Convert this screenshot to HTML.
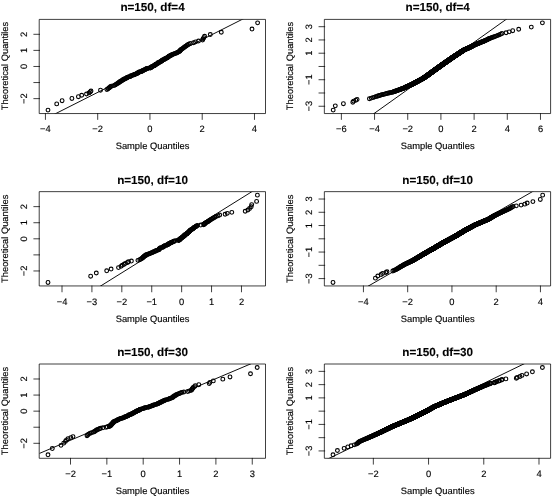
<!DOCTYPE html>
<html><head><meta charset="utf-8"><title>Normal Q-Q plots</title>
<style>
html,body{margin:0;padding:0;background:#fff;}
body{width:552px;height:497px;overflow:hidden;}
svg{display:block;}
text{text-rendering:geometricPrecision;font-family:"Liberation Sans",Arial,Helvetica,sans-serif;fill:#000;}
.t{font-size:11.7px;font-weight:bold;text-anchor:middle;stroke:#000;stroke-width:0.1px;}
.l{font-size:9.35px;text-anchor:middle;stroke:#000;stroke-width:0.14px;}
.L{font-size:93.5px;text-anchor:middle;stroke:#000;stroke-width:1.4px;}
.ax{stroke:#000;stroke-width:0.75;fill:none;stroke-linecap:round;stroke-linejoin:round;}
.p{stroke:#000;stroke-width:1.1;fill:none;}
</style></head><body>
<svg width="552" height="497" viewBox="0 0 552 497">
<rect width="552" height="497" fill="#fff"/>
<g>
<text class="t" x="152.55" y="10.9">n=150, df=4</text>
<clipPath id="c0"><rect x="39.6" y="19.4" width="225.9" height="94.15"/></clipPath>
<g class="p" clip-path="url(#c0)">
<path d="M44.62 119.2L253.28 13.75" style="stroke-width:0.95"/>
<circle cx="48" cy="110.1" r="1.9"/><circle cx="56.7" cy="103.88" r="1.9"/><circle cx="62.1" cy="100.69" r="1.9"/><circle cx="71.9" cy="98.46" r="1.9"/><circle cx="78.4" cy="96.72" r="1.9"/><circle cx="81.7" cy="95.27" r="1.9"/><circle cx="86.5" cy="94.02" r="1.9"/><circle cx="89" cy="92.92" r="1.9"/><circle cx="90.2" cy="91.94" r="1.9"/><circle cx="91" cy="91.04" r="1.9"/><circle cx="100.5" cy="90.21" r="1.9"/><circle cx="106.9" cy="89.43" r="1.9"/><circle cx="108.1" cy="88.71" r="1.9"/><circle cx="109" cy="88.03" r="1.9"/><circle cx="109.7" cy="87.39" r="1.9"/><circle cx="110.5" cy="86.78" r="1.9"/><circle cx="111.2" cy="86.2" r="1.9"/><circle cx="113.58" cy="85.64" r="1.9"/><circle cx="115.06" cy="85.1" r="1.9"/><circle cx="115.76" cy="84.59" r="1.9"/><circle cx="116.39" cy="84.09" r="1.9"/><circle cx="117.28" cy="83.61" r="1.9"/><circle cx="118.01" cy="83.14" r="1.9"/><circle cx="118.62" cy="82.69" r="1.9"/><circle cx="119.35" cy="82.25" r="1.9"/><circle cx="119.84" cy="81.82" r="1.9"/><circle cx="120.58" cy="81.4" r="1.9"/><circle cx="121.12" cy="80.99" r="1.9"/><circle cx="121.79" cy="80.59" r="1.9"/><circle cx="122.58" cy="80.2" r="1.9"/><circle cx="123.03" cy="79.82" r="1.9"/><circle cx="123.63" cy="79.44" r="1.9"/><circle cx="124.28" cy="79.07" r="1.9"/><circle cx="125.08" cy="78.71" r="1.9"/><circle cx="126.13" cy="78.36" r="1.9"/><circle cx="126.58" cy="78.01" r="1.9"/><circle cx="127.11" cy="77.66" r="1.9"/><circle cx="127.49" cy="77.32" r="1.9"/><circle cx="128.45" cy="76.99" r="1.9"/><circle cx="129.76" cy="76.66" r="1.9"/><circle cx="130.36" cy="76.33" r="1.9"/><circle cx="130.82" cy="76.01" r="1.9"/><circle cx="131.17" cy="75.69" r="1.9"/><circle cx="132.44" cy="75.37" r="1.9"/><circle cx="133.24" cy="75.06" r="1.9"/><circle cx="134.23" cy="74.75" r="1.9"/><circle cx="134.68" cy="74.45" r="1.9"/><circle cx="135.18" cy="74.15" r="1.9"/><circle cx="136.05" cy="73.85" r="1.9"/><circle cx="136.91" cy="73.55" r="1.9"/><circle cx="137.4" cy="73.25" r="1.9"/><circle cx="137.91" cy="72.96" r="1.9"/><circle cx="138.29" cy="72.67" r="1.9"/><circle cx="138.63" cy="72.38" r="1.9"/><circle cx="139.21" cy="72.1" r="1.9"/><circle cx="139.71" cy="71.81" r="1.9"/><circle cx="141.33" cy="71.53" r="1.9"/><circle cx="141.77" cy="71.25" r="1.9"/><circle cx="142.26" cy="70.97" r="1.9"/><circle cx="142.61" cy="70.69" r="1.9"/><circle cx="143.21" cy="70.41" r="1.9"/><circle cx="143.76" cy="70.13" r="1.9"/><circle cx="144.25" cy="69.86" r="1.9"/><circle cx="144.73" cy="69.58" r="1.9"/><circle cx="145.76" cy="69.31" r="1.9"/><circle cx="146.19" cy="69.04" r="1.9"/><circle cx="146.59" cy="68.77" r="1.9"/><circle cx="147.06" cy="68.5" r="1.9"/><circle cx="148.37" cy="68.23" r="1.9"/><circle cx="150.34" cy="67.95" r="1.9"/><circle cx="150.57" cy="67.69" r="1.9"/><circle cx="151.01" cy="67.42" r="1.9"/><circle cx="151.55" cy="67.15" r="1.9"/><circle cx="151.64" cy="66.88" r="1.9"/><circle cx="151.91" cy="66.61" r="1.9"/><circle cx="152.46" cy="66.34" r="1.9"/><circle cx="153.66" cy="66.07" r="1.9"/><circle cx="153.94" cy="65.8" r="1.9"/><circle cx="154.27" cy="65.53" r="1.9"/><circle cx="155.02" cy="65.26" r="1.9"/><circle cx="155.22" cy="65" r="1.9"/><circle cx="155.62" cy="64.72" r="1.9"/><circle cx="155.71" cy="64.45" r="1.9"/><circle cx="155.96" cy="64.18" r="1.9"/><circle cx="156.4" cy="63.91" r="1.9"/><circle cx="157.35" cy="63.64" r="1.9"/><circle cx="157.9" cy="63.37" r="1.9"/><circle cx="158" cy="63.09" r="1.9"/><circle cx="158.21" cy="62.82" r="1.9"/><circle cx="158.63" cy="62.54" r="1.9"/><circle cx="159.66" cy="62.26" r="1.9"/><circle cx="159.96" cy="61.98" r="1.9"/><circle cx="160.34" cy="61.7" r="1.9"/><circle cx="161.03" cy="61.42" r="1.9"/><circle cx="161.39" cy="61.14" r="1.9"/><circle cx="161.86" cy="60.85" r="1.9"/><circle cx="162.11" cy="60.57" r="1.9"/><circle cx="162.39" cy="60.28" r="1.9"/><circle cx="162.74" cy="59.99" r="1.9"/><circle cx="163.64" cy="59.7" r="1.9"/><circle cx="164.32" cy="59.4" r="1.9"/><circle cx="164.52" cy="59.1" r="1.9"/><circle cx="165.02" cy="58.8" r="1.9"/><circle cx="165.67" cy="58.5" r="1.9"/><circle cx="166.28" cy="58.2" r="1.9"/><circle cx="167.09" cy="57.89" r="1.9"/><circle cx="167.5" cy="57.58" r="1.9"/><circle cx="167.74" cy="57.26" r="1.9"/><circle cx="168.23" cy="56.94" r="1.9"/><circle cx="168.79" cy="56.62" r="1.9"/><circle cx="168.97" cy="56.29" r="1.9"/><circle cx="169.82" cy="55.96" r="1.9"/><circle cx="170.41" cy="55.63" r="1.9"/><circle cx="170.84" cy="55.29" r="1.9"/><circle cx="171.7" cy="54.94" r="1.9"/><circle cx="172.13" cy="54.59" r="1.9"/><circle cx="173.06" cy="54.24" r="1.9"/><circle cx="174.04" cy="53.88" r="1.9"/><circle cx="175.03" cy="53.51" r="1.9"/><circle cx="176.22" cy="53.13" r="1.9"/><circle cx="176.89" cy="52.75" r="1.9"/><circle cx="177.72" cy="52.36" r="1.9"/><circle cx="178.36" cy="51.96" r="1.9"/><circle cx="179.2" cy="51.55" r="1.9"/><circle cx="179.82" cy="51.13" r="1.9"/><circle cx="180.07" cy="50.7" r="1.9"/><circle cx="180.45" cy="50.26" r="1.9"/><circle cx="180.78" cy="49.81" r="1.9"/><circle cx="181.48" cy="49.34" r="1.9"/><circle cx="182.28" cy="48.86" r="1.9"/><circle cx="182.82" cy="48.36" r="1.9"/><circle cx="183.55" cy="47.85" r="1.9"/><circle cx="184.27" cy="47.31" r="1.9"/><circle cx="185.05" cy="46.75" r="1.9"/><circle cx="185.92" cy="46.17" r="1.9"/><circle cx="186.87" cy="45.56" r="1.9"/><circle cx="187.5" cy="44.92" r="1.9"/><circle cx="188.6" cy="44.24" r="1.9"/><circle cx="190.3" cy="43.52" r="1.9"/><circle cx="193.6" cy="42.74" r="1.9"/><circle cx="195.5" cy="41.91" r="1.9"/><circle cx="198.5" cy="41.01" r="1.9"/><circle cx="202.6" cy="40.03" r="1.9"/><circle cx="203" cy="38.93" r="1.9"/><circle cx="203.8" cy="37.68" r="1.9"/><circle cx="204.6" cy="36.23" r="1.9"/><circle cx="210.3" cy="34.49" r="1.9"/><circle cx="221.3" cy="32.26" r="1.9"/><circle cx="252" cy="29.07" r="1.9"/><circle cx="257.6" cy="22.85" r="1.9"/>
</g>
<rect class="ax" x="39.6" y="19.4" width="225.9" height="94.15"/>
<path class="ax" d="M45.43 113.55L45.43 119.45M97.69 113.55L97.69 119.45M149.95 113.55L149.95 119.45M202.21 113.55L202.21 119.45M254.47 113.55L254.47 119.45M39.6 98.63L33.8 98.63M39.6 82.55L33.8 82.55M39.6 66.47L33.8 66.47M39.6 50.39L33.8 50.39M39.6 34.31L33.8 34.31"/>
<text class="l" x="45.43" y="132.3">−4</text><text class="l" x="97.69" y="132.3">−2</text><text class="l" x="149.95" y="132.3">0</text><text class="l" x="202.21" y="132.3">2</text><text class="l" x="254.47" y="132.3">4</text>
<text class="L" transform="translate(27.3 98.63) rotate(-90) scale(0.1)">−2</text><text class="L" transform="translate(27.3 66.47) rotate(-90) scale(0.1)">0</text><text class="L" transform="translate(27.3 50.39) rotate(-90) scale(0.1)">1</text><text class="L" transform="translate(27.3 34.31) rotate(-90) scale(0.1)">2</text>
<text class="l" x="152.55" y="149.45">Sample Quantiles</text>
<text class="L" transform="translate(7.8 66) rotate(-90) scale(0.1)">Theoretical Quantiles</text>
</g>
<g>
<text class="t" x="437.68" y="10.9">n=150, df=4</text>
<clipPath id="c1"><rect x="324.75" y="19.4" width="225.85" height="94.15"/></clipPath>
<g class="p" clip-path="url(#c1)">
<path d="M366.07 119.2L514.03 13.75" style="stroke-width:0.95"/>
<circle cx="333.2" cy="110.11" r="1.9"/><circle cx="335.3" cy="105.83" r="1.9"/><circle cx="343.4" cy="103.7" r="1.9"/><circle cx="352.8" cy="102.24" r="1.9"/><circle cx="353.6" cy="101.11" r="1.9"/><circle cx="355.8" cy="100.19" r="1.9"/><circle cx="357.1" cy="99.41" r="1.9"/><circle cx="369.4" cy="98.73" r="1.9"/><circle cx="371.27" cy="98.12" r="1.9"/><circle cx="372.96" cy="97.58" r="1.9"/><circle cx="374.47" cy="97.08" r="1.9"/><circle cx="375.85" cy="96.62" r="1.9"/><circle cx="377.24" cy="96.2" r="1.9"/><circle cx="378.52" cy="95.8" r="1.9"/><circle cx="379.64" cy="95.43" r="1.9"/><circle cx="380.7" cy="95.08" r="1.9"/><circle cx="381.79" cy="94.75" r="1.9"/><circle cx="383.13" cy="94.43" r="1.9"/><circle cx="384.39" cy="94.13" r="1.9"/><circle cx="385.56" cy="93.85" r="1.9"/><circle cx="386.64" cy="93.57" r="1.9"/><circle cx="387.68" cy="93.31" r="1.9"/><circle cx="388.92" cy="93.06" r="1.9"/><circle cx="389.92" cy="92.81" r="1.9"/><circle cx="390.91" cy="92.58" r="1.9"/><circle cx="391.87" cy="92.35" r="1.9"/><circle cx="392.71" cy="92.13" r="1.9"/><circle cx="393.29" cy="91.92" r="1.9"/><circle cx="393.82" cy="91.71" r="1.9"/><circle cx="394.4" cy="91.51" r="1.9"/><circle cx="394.94" cy="91.32" r="1.9"/><circle cx="395.53" cy="91.13" r="1.9"/><circle cx="396.01" cy="90.94" r="1.9"/><circle cx="396.5" cy="90.76" r="1.9"/><circle cx="397" cy="90.59" r="1.9"/><circle cx="397.53" cy="90.42" r="1.9"/><circle cx="398" cy="90.25" r="1.9"/><circle cx="398.45" cy="90.08" r="1.9"/><circle cx="398.89" cy="89.92" r="1.9"/><circle cx="399.31" cy="89.77" r="1.9"/><circle cx="399.73" cy="89.61" r="1.9"/><circle cx="400.18" cy="89.46" r="1.9"/><circle cx="400.59" cy="89.31" r="1.9"/><circle cx="400.98" cy="89.17" r="1.9"/><circle cx="401.36" cy="89.03" r="1.9"/><circle cx="401.74" cy="88.89" r="1.9"/><circle cx="402.08" cy="88.75" r="1.9"/><circle cx="402.51" cy="88.61" r="1.9"/><circle cx="402.94" cy="88.48" r="1.9"/><circle cx="403.28" cy="88.35" r="1.9"/><circle cx="403.6" cy="88.22" r="1.9"/><circle cx="403.94" cy="88.1" r="1.9"/><circle cx="404.16" cy="87.97" r="1.9"/><circle cx="404.42" cy="87.85" r="1.9"/><circle cx="404.7" cy="87.73" r="1.9"/><circle cx="404.92" cy="87.61" r="1.9"/><circle cx="405.23" cy="87.49" r="1.9"/><circle cx="405.45" cy="87.37" r="1.9"/><circle cx="405.76" cy="87.26" r="1.9"/><circle cx="405.97" cy="87.15" r="1.9"/><circle cx="406.16" cy="87.04" r="1.9"/><circle cx="406.34" cy="86.93" r="1.9"/><circle cx="406.57" cy="86.82" r="1.9"/><circle cx="406.85" cy="86.71" r="1.9"/><circle cx="407.16" cy="86.6" r="1.9"/><circle cx="407.47" cy="86.5" r="1.9"/><circle cx="407.62" cy="86.4" r="1.9"/><circle cx="407.8" cy="86.29" r="1.9"/><circle cx="407.96" cy="86.19" r="1.9"/><circle cx="408.29" cy="86.09" r="1.9"/><circle cx="408.55" cy="85.99" r="1.9"/><circle cx="408.69" cy="85.9" r="1.9"/><circle cx="408.89" cy="85.8" r="1.9"/><circle cx="409.04" cy="85.7" r="1.9"/><circle cx="409.25" cy="85.61" r="1.9"/><circle cx="409.59" cy="85.52" r="1.9"/><circle cx="409.8" cy="85.42" r="1.9"/><circle cx="409.99" cy="85.33" r="1.9"/><circle cx="410.16" cy="85.24" r="1.9"/><circle cx="410.3" cy="85.15" r="1.9"/><circle cx="410.53" cy="85.06" r="1.9"/><circle cx="410.7" cy="84.97" r="1.9"/><circle cx="410.85" cy="84.89" r="1.9"/><circle cx="411.1" cy="84.8" r="1.9"/><circle cx="411.23" cy="84.71" r="1.9"/><circle cx="411.41" cy="84.63" r="1.9"/><circle cx="411.61" cy="84.54" r="1.9"/><circle cx="411.85" cy="84.46" r="1.9"/><circle cx="411.96" cy="84.38" r="1.9"/><circle cx="412.24" cy="84.29" r="1.9"/><circle cx="412.41" cy="84.21" r="1.9"/><circle cx="412.56" cy="84.13" r="1.9"/><circle cx="412.67" cy="84.05" r="1.9"/><circle cx="412.77" cy="83.97" r="1.9"/><circle cx="412.95" cy="83.89" r="1.9"/><circle cx="413.12" cy="83.81" r="1.9"/><circle cx="413.27" cy="83.74" r="1.9"/><circle cx="413.4" cy="83.66" r="1.9"/><circle cx="413.52" cy="83.58" r="1.9"/><circle cx="413.67" cy="83.51" r="1.9"/><circle cx="413.83" cy="83.43" r="1.9"/><circle cx="413.94" cy="83.36" r="1.9"/><circle cx="414.06" cy="83.28" r="1.9"/><circle cx="414.17" cy="83.21" r="1.9"/><circle cx="414.39" cy="83.13" r="1.9"/><circle cx="414.5" cy="83.06" r="1.9"/><circle cx="414.65" cy="82.99" r="1.9"/><circle cx="414.77" cy="82.92" r="1.9"/><circle cx="414.93" cy="82.85" r="1.9"/><circle cx="415.03" cy="82.77" r="1.9"/><circle cx="415.08" cy="82.7" r="1.9"/><circle cx="415.32" cy="82.63" r="1.9"/><circle cx="415.38" cy="82.56" r="1.9"/><circle cx="415.44" cy="82.49" r="1.9"/><circle cx="415.82" cy="82.43" r="1.9"/><circle cx="415.92" cy="82.36" r="1.9"/><circle cx="416.02" cy="82.29" r="1.9"/><circle cx="416.11" cy="82.22" r="1.9"/><circle cx="416.21" cy="82.16" r="1.9"/><circle cx="416.31" cy="82.09" r="1.9"/><circle cx="416.46" cy="82.02" r="1.9"/><circle cx="416.56" cy="81.96" r="1.9"/><circle cx="416.65" cy="81.89" r="1.9"/><circle cx="416.83" cy="81.83" r="1.9"/><circle cx="416.92" cy="81.76" r="1.9"/><circle cx="416.98" cy="81.7" r="1.9"/><circle cx="417.17" cy="81.63" r="1.9"/><circle cx="417.32" cy="81.57" r="1.9"/><circle cx="417.49" cy="81.51" r="1.9"/><circle cx="417.58" cy="81.44" r="1.9"/><circle cx="417.67" cy="81.38" r="1.9"/><circle cx="417.78" cy="81.32" r="1.9"/><circle cx="417.89" cy="81.26" r="1.9"/><circle cx="418.01" cy="81.19" r="1.9"/><circle cx="418.11" cy="81.13" r="1.9"/><circle cx="418.23" cy="81.07" r="1.9"/><circle cx="418.36" cy="81.01" r="1.9"/><circle cx="418.46" cy="80.95" r="1.9"/><circle cx="418.57" cy="80.89" r="1.9"/><circle cx="418.65" cy="80.83" r="1.9"/><circle cx="418.81" cy="80.77" r="1.9"/><circle cx="418.92" cy="80.71" r="1.9"/><circle cx="419.07" cy="80.65" r="1.9"/><circle cx="419.14" cy="80.59" r="1.9"/><circle cx="419.23" cy="80.53" r="1.9"/><circle cx="419.35" cy="80.48" r="1.9"/><circle cx="419.47" cy="80.42" r="1.9"/><circle cx="419.57" cy="80.36" r="1.9"/><circle cx="419.64" cy="80.3" r="1.9"/><circle cx="419.73" cy="80.25" r="1.9"/><circle cx="419.92" cy="80.19" r="1.9"/><circle cx="420.05" cy="80.13" r="1.9"/><circle cx="420.12" cy="80.08" r="1.9"/><circle cx="420.17" cy="80.02" r="1.9"/><circle cx="420.28" cy="79.96" r="1.9"/><circle cx="420.4" cy="79.91" r="1.9"/><circle cx="420.53" cy="79.85" r="1.9"/><circle cx="420.67" cy="79.8" r="1.9"/><circle cx="420.74" cy="79.74" r="1.9"/><circle cx="420.81" cy="79.69" r="1.9"/><circle cx="420.86" cy="79.63" r="1.9"/><circle cx="421.04" cy="79.58" r="1.9"/><circle cx="421.12" cy="79.53" r="1.9"/><circle cx="421.32" cy="79.47" r="1.9"/><circle cx="421.38" cy="79.42" r="1.9"/><circle cx="421.42" cy="79.37" r="1.9"/><circle cx="421.47" cy="79.31" r="1.9"/><circle cx="421.56" cy="79.26" r="1.9"/><circle cx="421.79" cy="79.21" r="1.9"/><circle cx="421.86" cy="79.15" r="1.9"/><circle cx="421.98" cy="79.1" r="1.9"/><circle cx="422.03" cy="79.05" r="1.9"/><circle cx="422.12" cy="79" r="1.9"/><circle cx="422.29" cy="78.95" r="1.9"/><circle cx="422.36" cy="78.89" r="1.9"/><circle cx="422.43" cy="78.84" r="1.9"/><circle cx="422.5" cy="78.79" r="1.9"/><circle cx="422.57" cy="78.74" r="1.9"/><circle cx="422.68" cy="78.69" r="1.9"/><circle cx="422.81" cy="78.64" r="1.9"/><circle cx="422.91" cy="78.59" r="1.9"/><circle cx="422.98" cy="78.54" r="1.9"/><circle cx="423.07" cy="78.49" r="1.9"/><circle cx="423.11" cy="78.44" r="1.9"/><circle cx="423.21" cy="78.39" r="1.9"/><circle cx="423.33" cy="78.34" r="1.9"/><circle cx="423.39" cy="78.29" r="1.9"/><circle cx="423.46" cy="78.24" r="1.9"/><circle cx="423.51" cy="78.19" r="1.9"/><circle cx="423.55" cy="78.14" r="1.9"/><circle cx="423.62" cy="78.09" r="1.9"/><circle cx="423.73" cy="78.04" r="1.9"/><circle cx="423.81" cy="77.99" r="1.9"/><circle cx="423.89" cy="77.95" r="1.9"/><circle cx="423.93" cy="77.9" r="1.9"/><circle cx="423.97" cy="77.85" r="1.9"/><circle cx="424.07" cy="77.8" r="1.9"/><circle cx="424.13" cy="77.75" r="1.9"/><circle cx="424.21" cy="77.71" r="1.9"/><circle cx="424.3" cy="77.66" r="1.9"/><circle cx="424.36" cy="77.61" r="1.9"/><circle cx="424.4" cy="77.56" r="1.9"/><circle cx="424.45" cy="77.52" r="1.9"/><circle cx="424.57" cy="77.47" r="1.9"/><circle cx="424.64" cy="77.42" r="1.9"/><circle cx="424.68" cy="77.38" r="1.9"/><circle cx="424.72" cy="77.33" r="1.9"/><circle cx="424.8" cy="77.28" r="1.9"/><circle cx="424.84" cy="77.24" r="1.9"/><circle cx="425" cy="77.19" r="1.9"/><circle cx="425.06" cy="77.15" r="1.9"/><circle cx="425.1" cy="77.1" r="1.9"/><circle cx="425.18" cy="77.05" r="1.9"/><circle cx="425.23" cy="77.01" r="1.9"/><circle cx="425.29" cy="76.96" r="1.9"/><circle cx="425.35" cy="76.92" r="1.9"/><circle cx="425.4" cy="76.87" r="1.9"/><circle cx="425.46" cy="76.83" r="1.9"/><circle cx="425.56" cy="76.78" r="1.9"/><circle cx="425.64" cy="76.74" r="1.9"/><circle cx="425.69" cy="76.69" r="1.9"/><circle cx="425.75" cy="76.65" r="1.9"/><circle cx="425.8" cy="76.6" r="1.9"/><circle cx="425.85" cy="76.56" r="1.9"/><circle cx="425.94" cy="76.51" r="1.9"/><circle cx="425.99" cy="76.47" r="1.9"/><circle cx="426.03" cy="76.43" r="1.9"/><circle cx="426.07" cy="76.38" r="1.9"/><circle cx="426.12" cy="76.34" r="1.9"/><circle cx="426.16" cy="76.29" r="1.9"/><circle cx="426.42" cy="76.25" r="1.9"/><circle cx="426.45" cy="76.21" r="1.9"/><circle cx="426.5" cy="76.16" r="1.9"/><circle cx="426.53" cy="76.12" r="1.9"/><circle cx="426.57" cy="76.08" r="1.9"/><circle cx="426.64" cy="76.03" r="1.9"/><circle cx="426.7" cy="75.99" r="1.9"/><circle cx="426.76" cy="75.95" r="1.9"/><circle cx="426.81" cy="75.9" r="1.9"/><circle cx="426.86" cy="75.86" r="1.9"/><circle cx="426.91" cy="75.82" r="1.9"/><circle cx="426.97" cy="75.78" r="1.9"/><circle cx="427.02" cy="75.73" r="1.9"/><circle cx="427.08" cy="75.69" r="1.9"/><circle cx="427.26" cy="75.65" r="1.9"/><circle cx="427.3" cy="75.61" r="1.9"/><circle cx="427.33" cy="75.57" r="1.9"/><circle cx="427.36" cy="75.52" r="1.9"/><circle cx="427.39" cy="75.48" r="1.9"/><circle cx="427.43" cy="75.44" r="1.9"/><circle cx="427.57" cy="75.4" r="1.9"/><circle cx="427.63" cy="75.36" r="1.9"/><circle cx="427.69" cy="75.31" r="1.9"/><circle cx="427.75" cy="75.27" r="1.9"/><circle cx="427.79" cy="75.23" r="1.9"/><circle cx="427.84" cy="75.19" r="1.9"/><circle cx="427.87" cy="75.15" r="1.9"/><circle cx="427.91" cy="75.11" r="1.9"/><circle cx="427.94" cy="75.07" r="1.9"/><circle cx="428.05" cy="75.03" r="1.9"/><circle cx="428.12" cy="74.99" r="1.9"/><circle cx="428.17" cy="74.94" r="1.9"/><circle cx="428.21" cy="74.9" r="1.9"/><circle cx="428.28" cy="74.86" r="1.9"/><circle cx="428.33" cy="74.82" r="1.9"/><circle cx="428.44" cy="74.78" r="1.9"/><circle cx="428.48" cy="74.74" r="1.9"/><circle cx="428.51" cy="74.7" r="1.9"/><circle cx="428.56" cy="74.66" r="1.9"/><circle cx="428.61" cy="74.62" r="1.9"/><circle cx="428.65" cy="74.58" r="1.9"/><circle cx="428.73" cy="74.54" r="1.9"/><circle cx="428.77" cy="74.5" r="1.9"/><circle cx="428.83" cy="74.46" r="1.9"/><circle cx="428.88" cy="74.42" r="1.9"/><circle cx="428.9" cy="74.38" r="1.9"/><circle cx="428.94" cy="74.34" r="1.9"/><circle cx="429.01" cy="74.3" r="1.9"/><circle cx="429.16" cy="74.26" r="1.9"/><circle cx="429.2" cy="74.22" r="1.9"/><circle cx="429.24" cy="74.18" r="1.9"/><circle cx="429.28" cy="74.14" r="1.9"/><circle cx="429.3" cy="74.11" r="1.9"/><circle cx="429.37" cy="74.07" r="1.9"/><circle cx="429.42" cy="74.03" r="1.9"/><circle cx="429.46" cy="73.99" r="1.9"/><circle cx="429.54" cy="73.95" r="1.9"/><circle cx="429.59" cy="73.91" r="1.9"/><circle cx="429.63" cy="73.87" r="1.9"/><circle cx="429.67" cy="73.83" r="1.9"/><circle cx="429.71" cy="73.79" r="1.9"/><circle cx="429.79" cy="73.75" r="1.9"/><circle cx="429.87" cy="73.72" r="1.9"/><circle cx="429.9" cy="73.68" r="1.9"/><circle cx="429.93" cy="73.64" r="1.9"/><circle cx="430.02" cy="73.6" r="1.9"/><circle cx="430.1" cy="73.56" r="1.9"/><circle cx="430.14" cy="73.52" r="1.9"/><circle cx="430.18" cy="73.49" r="1.9"/><circle cx="430.21" cy="73.45" r="1.9"/><circle cx="430.26" cy="73.41" r="1.9"/><circle cx="430.3" cy="73.37" r="1.9"/><circle cx="430.35" cy="73.33" r="1.9"/><circle cx="430.42" cy="73.3" r="1.9"/><circle cx="430.49" cy="73.26" r="1.9"/><circle cx="430.52" cy="73.22" r="1.9"/><circle cx="430.58" cy="73.18" r="1.9"/><circle cx="430.63" cy="73.14" r="1.9"/><circle cx="430.67" cy="73.11" r="1.9"/><circle cx="430.73" cy="73.07" r="1.9"/><circle cx="430.75" cy="73.03" r="1.9"/><circle cx="430.86" cy="72.99" r="1.9"/><circle cx="430.89" cy="72.96" r="1.9"/><circle cx="430.97" cy="72.92" r="1.9"/><circle cx="431" cy="72.88" r="1.9"/><circle cx="431.06" cy="72.84" r="1.9"/><circle cx="431.09" cy="72.81" r="1.9"/><circle cx="431.15" cy="72.77" r="1.9"/><circle cx="431.18" cy="72.73" r="1.9"/><circle cx="431.22" cy="72.7" r="1.9"/><circle cx="431.26" cy="72.66" r="1.9"/><circle cx="431.36" cy="72.62" r="1.9"/><circle cx="431.4" cy="72.58" r="1.9"/><circle cx="431.47" cy="72.55" r="1.9"/><circle cx="431.52" cy="72.51" r="1.9"/><circle cx="431.55" cy="72.47" r="1.9"/><circle cx="431.59" cy="72.44" r="1.9"/><circle cx="431.65" cy="72.4" r="1.9"/><circle cx="431.69" cy="72.36" r="1.9"/><circle cx="431.77" cy="72.33" r="1.9"/><circle cx="431.8" cy="72.29" r="1.9"/><circle cx="431.85" cy="72.25" r="1.9"/><circle cx="431.91" cy="72.22" r="1.9"/><circle cx="431.95" cy="72.18" r="1.9"/><circle cx="431.99" cy="72.14" r="1.9"/><circle cx="432.05" cy="72.11" r="1.9"/><circle cx="432.09" cy="72.07" r="1.9"/><circle cx="432.17" cy="72.03" r="1.9"/><circle cx="432.21" cy="72" r="1.9"/><circle cx="432.25" cy="71.96" r="1.9"/><circle cx="432.29" cy="71.93" r="1.9"/><circle cx="432.35" cy="71.89" r="1.9"/><circle cx="432.39" cy="71.85" r="1.9"/><circle cx="432.44" cy="71.82" r="1.9"/><circle cx="432.49" cy="71.78" r="1.9"/><circle cx="432.54" cy="71.75" r="1.9"/><circle cx="432.58" cy="71.71" r="1.9"/><circle cx="432.61" cy="71.67" r="1.9"/><circle cx="432.68" cy="71.64" r="1.9"/><circle cx="432.75" cy="71.6" r="1.9"/><circle cx="432.82" cy="71.57" r="1.9"/><circle cx="432.85" cy="71.53" r="1.9"/><circle cx="432.89" cy="71.49" r="1.9"/><circle cx="432.93" cy="71.46" r="1.9"/><circle cx="433" cy="71.42" r="1.9"/><circle cx="433.04" cy="71.39" r="1.9"/><circle cx="433.08" cy="71.35" r="1.9"/><circle cx="433.1" cy="71.32" r="1.9"/><circle cx="433.13" cy="71.28" r="1.9"/><circle cx="433.23" cy="71.25" r="1.9"/><circle cx="433.3" cy="71.21" r="1.9"/><circle cx="433.35" cy="71.18" r="1.9"/><circle cx="433.39" cy="71.14" r="1.9"/><circle cx="433.43" cy="71.1" r="1.9"/><circle cx="433.47" cy="71.07" r="1.9"/><circle cx="433.53" cy="71.03" r="1.9"/><circle cx="433.57" cy="71" r="1.9"/><circle cx="433.61" cy="70.96" r="1.9"/><circle cx="433.66" cy="70.93" r="1.9"/><circle cx="433.71" cy="70.89" r="1.9"/><circle cx="433.75" cy="70.86" r="1.9"/><circle cx="433.8" cy="70.82" r="1.9"/><circle cx="433.84" cy="70.79" r="1.9"/><circle cx="433.9" cy="70.75" r="1.9"/><circle cx="433.96" cy="70.72" r="1.9"/><circle cx="433.99" cy="70.68" r="1.9"/><circle cx="434.04" cy="70.65" r="1.9"/><circle cx="434.13" cy="70.61" r="1.9"/><circle cx="434.16" cy="70.58" r="1.9"/><circle cx="434.19" cy="70.54" r="1.9"/><circle cx="434.27" cy="70.51" r="1.9"/><circle cx="434.3" cy="70.47" r="1.9"/><circle cx="434.33" cy="70.44" r="1.9"/><circle cx="434.36" cy="70.4" r="1.9"/><circle cx="434.39" cy="70.37" r="1.9"/><circle cx="434.5" cy="70.33" r="1.9"/><circle cx="434.58" cy="70.3" r="1.9"/><circle cx="434.61" cy="70.27" r="1.9"/><circle cx="434.64" cy="70.23" r="1.9"/><circle cx="434.67" cy="70.2" r="1.9"/><circle cx="434.73" cy="70.16" r="1.9"/><circle cx="434.79" cy="70.13" r="1.9"/><circle cx="434.84" cy="70.09" r="1.9"/><circle cx="434.89" cy="70.06" r="1.9"/><circle cx="434.92" cy="70.02" r="1.9"/><circle cx="434.95" cy="69.99" r="1.9"/><circle cx="435.01" cy="69.95" r="1.9"/><circle cx="435.04" cy="69.92" r="1.9"/><circle cx="435.08" cy="69.89" r="1.9"/><circle cx="435.17" cy="69.85" r="1.9"/><circle cx="435.2" cy="69.82" r="1.9"/><circle cx="435.29" cy="69.78" r="1.9"/><circle cx="435.31" cy="69.75" r="1.9"/><circle cx="435.35" cy="69.71" r="1.9"/><circle cx="435.4" cy="69.68" r="1.9"/><circle cx="435.44" cy="69.65" r="1.9"/><circle cx="435.51" cy="69.61" r="1.9"/><circle cx="435.55" cy="69.58" r="1.9"/><circle cx="435.6" cy="69.54" r="1.9"/><circle cx="435.64" cy="69.51" r="1.9"/><circle cx="435.68" cy="69.48" r="1.9"/><circle cx="435.75" cy="69.44" r="1.9"/><circle cx="435.78" cy="69.41" r="1.9"/><circle cx="435.84" cy="69.37" r="1.9"/><circle cx="435.88" cy="69.34" r="1.9"/><circle cx="435.91" cy="69.3" r="1.9"/><circle cx="435.96" cy="69.27" r="1.9"/><circle cx="436" cy="69.24" r="1.9"/><circle cx="436.08" cy="69.2" r="1.9"/><circle cx="436.12" cy="69.17" r="1.9"/><circle cx="436.16" cy="69.14" r="1.9"/><circle cx="436.19" cy="69.1" r="1.9"/><circle cx="436.23" cy="69.07" r="1.9"/><circle cx="436.28" cy="69.03" r="1.9"/><circle cx="436.32" cy="69" r="1.9"/><circle cx="436.38" cy="68.97" r="1.9"/><circle cx="436.44" cy="68.93" r="1.9"/><circle cx="436.47" cy="68.9" r="1.9"/><circle cx="436.59" cy="68.86" r="1.9"/><circle cx="436.62" cy="68.83" r="1.9"/><circle cx="436.63" cy="68.8" r="1.9"/><circle cx="436.69" cy="68.76" r="1.9"/><circle cx="436.7" cy="68.73" r="1.9"/><circle cx="436.75" cy="68.7" r="1.9"/><circle cx="436.78" cy="68.66" r="1.9"/><circle cx="436.88" cy="68.63" r="1.9"/><circle cx="436.94" cy="68.59" r="1.9"/><circle cx="436.99" cy="68.56" r="1.9"/><circle cx="437.04" cy="68.53" r="1.9"/><circle cx="437.07" cy="68.49" r="1.9"/><circle cx="437.11" cy="68.46" r="1.9"/><circle cx="437.13" cy="68.43" r="1.9"/><circle cx="437.19" cy="68.39" r="1.9"/><circle cx="437.23" cy="68.36" r="1.9"/><circle cx="437.28" cy="68.33" r="1.9"/><circle cx="437.34" cy="68.29" r="1.9"/><circle cx="437.38" cy="68.26" r="1.9"/><circle cx="437.4" cy="68.23" r="1.9"/><circle cx="437.41" cy="68.19" r="1.9"/><circle cx="437.55" cy="68.16" r="1.9"/><circle cx="437.59" cy="68.12" r="1.9"/><circle cx="437.64" cy="68.09" r="1.9"/><circle cx="437.69" cy="68.06" r="1.9"/><circle cx="437.71" cy="68.02" r="1.9"/><circle cx="437.76" cy="67.99" r="1.9"/><circle cx="437.8" cy="67.96" r="1.9"/><circle cx="437.87" cy="67.92" r="1.9"/><circle cx="437.89" cy="67.89" r="1.9"/><circle cx="437.91" cy="67.86" r="1.9"/><circle cx="437.94" cy="67.82" r="1.9"/><circle cx="437.97" cy="67.79" r="1.9"/><circle cx="438.15" cy="67.76" r="1.9"/><circle cx="438.18" cy="67.72" r="1.9"/><circle cx="438.2" cy="67.69" r="1.9"/><circle cx="438.23" cy="67.66" r="1.9"/><circle cx="438.26" cy="67.62" r="1.9"/><circle cx="438.29" cy="67.59" r="1.9"/><circle cx="438.34" cy="67.56" r="1.9"/><circle cx="438.4" cy="67.52" r="1.9"/><circle cx="438.44" cy="67.49" r="1.9"/><circle cx="438.49" cy="67.46" r="1.9"/><circle cx="438.54" cy="67.42" r="1.9"/><circle cx="438.62" cy="67.39" r="1.9"/><circle cx="438.64" cy="67.36" r="1.9"/><circle cx="438.68" cy="67.32" r="1.9"/><circle cx="438.73" cy="67.29" r="1.9"/><circle cx="438.8" cy="67.26" r="1.9"/><circle cx="438.84" cy="67.22" r="1.9"/><circle cx="438.89" cy="67.19" r="1.9"/><circle cx="438.92" cy="67.16" r="1.9"/><circle cx="438.95" cy="67.12" r="1.9"/><circle cx="438.98" cy="67.09" r="1.9"/><circle cx="439.05" cy="67.06" r="1.9"/><circle cx="439.1" cy="67.02" r="1.9"/><circle cx="439.17" cy="66.99" r="1.9"/><circle cx="439.22" cy="66.96" r="1.9"/><circle cx="439.25" cy="66.92" r="1.9"/><circle cx="439.29" cy="66.89" r="1.9"/><circle cx="439.32" cy="66.86" r="1.9"/><circle cx="439.38" cy="66.82" r="1.9"/><circle cx="439.43" cy="66.79" r="1.9"/><circle cx="439.47" cy="66.76" r="1.9"/><circle cx="439.51" cy="66.72" r="1.9"/><circle cx="439.56" cy="66.69" r="1.9"/><circle cx="439.61" cy="66.66" r="1.9"/><circle cx="439.67" cy="66.62" r="1.9"/><circle cx="439.7" cy="66.59" r="1.9"/><circle cx="439.74" cy="66.56" r="1.9"/><circle cx="439.77" cy="66.52" r="1.9"/><circle cx="439.82" cy="66.49" r="1.9"/><circle cx="439.89" cy="66.46" r="1.9"/><circle cx="439.93" cy="66.43" r="1.9"/><circle cx="440.01" cy="66.39" r="1.9"/><circle cx="440.04" cy="66.36" r="1.9"/><circle cx="440.07" cy="66.33" r="1.9"/><circle cx="440.1" cy="66.29" r="1.9"/><circle cx="440.17" cy="66.26" r="1.9"/><circle cx="440.23" cy="66.23" r="1.9"/><circle cx="440.26" cy="66.19" r="1.9"/><circle cx="440.3" cy="66.16" r="1.9"/><circle cx="440.34" cy="66.13" r="1.9"/><circle cx="440.38" cy="66.09" r="1.9"/><circle cx="440.46" cy="66.06" r="1.9"/><circle cx="440.51" cy="66.03" r="1.9"/><circle cx="440.54" cy="65.99" r="1.9"/><circle cx="440.57" cy="65.96" r="1.9"/><circle cx="440.61" cy="65.93" r="1.9"/><circle cx="440.7" cy="65.89" r="1.9"/><circle cx="440.73" cy="65.86" r="1.9"/><circle cx="440.76" cy="65.83" r="1.9"/><circle cx="440.81" cy="65.79" r="1.9"/><circle cx="440.87" cy="65.76" r="1.9"/><circle cx="440.91" cy="65.73" r="1.9"/><circle cx="440.94" cy="65.69" r="1.9"/><circle cx="440.98" cy="65.66" r="1.9"/><circle cx="441.07" cy="65.63" r="1.9"/><circle cx="441.1" cy="65.59" r="1.9"/><circle cx="441.14" cy="65.56" r="1.9"/><circle cx="441.21" cy="65.53" r="1.9"/><circle cx="441.24" cy="65.49" r="1.9"/><circle cx="441.28" cy="65.46" r="1.9"/><circle cx="441.32" cy="65.43" r="1.9"/><circle cx="441.36" cy="65.39" r="1.9"/><circle cx="441.42" cy="65.36" r="1.9"/><circle cx="441.46" cy="65.33" r="1.9"/><circle cx="441.53" cy="65.29" r="1.9"/><circle cx="441.57" cy="65.26" r="1.9"/><circle cx="441.6" cy="65.23" r="1.9"/><circle cx="441.65" cy="65.19" r="1.9"/><circle cx="441.68" cy="65.16" r="1.9"/><circle cx="441.73" cy="65.13" r="1.9"/><circle cx="441.8" cy="65.09" r="1.9"/><circle cx="441.84" cy="65.06" r="1.9"/><circle cx="441.89" cy="65.03" r="1.9"/><circle cx="441.91" cy="64.99" r="1.9"/><circle cx="441.96" cy="64.96" r="1.9"/><circle cx="442.03" cy="64.93" r="1.9"/><circle cx="442.06" cy="64.89" r="1.9"/><circle cx="442.13" cy="64.86" r="1.9"/><circle cx="442.15" cy="64.83" r="1.9"/><circle cx="442.2" cy="64.79" r="1.9"/><circle cx="442.26" cy="64.76" r="1.9"/><circle cx="442.31" cy="64.72" r="1.9"/><circle cx="442.37" cy="64.69" r="1.9"/><circle cx="442.4" cy="64.66" r="1.9"/><circle cx="442.46" cy="64.62" r="1.9"/><circle cx="442.48" cy="64.59" r="1.9"/><circle cx="442.57" cy="64.56" r="1.9"/><circle cx="442.61" cy="64.52" r="1.9"/><circle cx="442.64" cy="64.49" r="1.9"/><circle cx="442.67" cy="64.46" r="1.9"/><circle cx="442.74" cy="64.42" r="1.9"/><circle cx="442.79" cy="64.39" r="1.9"/><circle cx="442.84" cy="64.36" r="1.9"/><circle cx="442.88" cy="64.32" r="1.9"/><circle cx="442.94" cy="64.29" r="1.9"/><circle cx="442.98" cy="64.25" r="1.9"/><circle cx="443.03" cy="64.22" r="1.9"/><circle cx="443.05" cy="64.19" r="1.9"/><circle cx="443.06" cy="64.15" r="1.9"/><circle cx="443.15" cy="64.12" r="1.9"/><circle cx="443.19" cy="64.09" r="1.9"/><circle cx="443.33" cy="64.05" r="1.9"/><circle cx="443.36" cy="64.02" r="1.9"/><circle cx="443.42" cy="63.98" r="1.9"/><circle cx="443.44" cy="63.95" r="1.9"/><circle cx="443.48" cy="63.92" r="1.9"/><circle cx="443.51" cy="63.88" r="1.9"/><circle cx="443.54" cy="63.85" r="1.9"/><circle cx="443.57" cy="63.81" r="1.9"/><circle cx="443.64" cy="63.78" r="1.9"/><circle cx="443.7" cy="63.75" r="1.9"/><circle cx="443.81" cy="63.71" r="1.9"/><circle cx="443.84" cy="63.68" r="1.9"/><circle cx="443.86" cy="63.65" r="1.9"/><circle cx="443.89" cy="63.61" r="1.9"/><circle cx="443.93" cy="63.58" r="1.9"/><circle cx="443.98" cy="63.54" r="1.9"/><circle cx="444.08" cy="63.51" r="1.9"/><circle cx="444.11" cy="63.47" r="1.9"/><circle cx="444.14" cy="63.44" r="1.9"/><circle cx="444.17" cy="63.41" r="1.9"/><circle cx="444.23" cy="63.37" r="1.9"/><circle cx="444.32" cy="63.34" r="1.9"/><circle cx="444.34" cy="63.3" r="1.9"/><circle cx="444.38" cy="63.27" r="1.9"/><circle cx="444.43" cy="63.24" r="1.9"/><circle cx="444.51" cy="63.2" r="1.9"/><circle cx="444.53" cy="63.17" r="1.9"/><circle cx="444.59" cy="63.13" r="1.9"/><circle cx="444.65" cy="63.1" r="1.9"/><circle cx="444.7" cy="63.06" r="1.9"/><circle cx="444.75" cy="63.03" r="1.9"/><circle cx="444.8" cy="63" r="1.9"/><circle cx="444.84" cy="62.96" r="1.9"/><circle cx="444.89" cy="62.93" r="1.9"/><circle cx="444.93" cy="62.89" r="1.9"/><circle cx="444.97" cy="62.86" r="1.9"/><circle cx="445.05" cy="62.82" r="1.9"/><circle cx="445.09" cy="62.79" r="1.9"/><circle cx="445.12" cy="62.75" r="1.9"/><circle cx="445.16" cy="62.72" r="1.9"/><circle cx="445.23" cy="62.68" r="1.9"/><circle cx="445.27" cy="62.65" r="1.9"/><circle cx="445.33" cy="62.62" r="1.9"/><circle cx="445.38" cy="62.58" r="1.9"/><circle cx="445.46" cy="62.55" r="1.9"/><circle cx="445.5" cy="62.51" r="1.9"/><circle cx="445.54" cy="62.48" r="1.9"/><circle cx="445.59" cy="62.44" r="1.9"/><circle cx="445.63" cy="62.41" r="1.9"/><circle cx="445.67" cy="62.37" r="1.9"/><circle cx="445.74" cy="62.34" r="1.9"/><circle cx="445.77" cy="62.3" r="1.9"/><circle cx="445.81" cy="62.27" r="1.9"/><circle cx="445.88" cy="62.23" r="1.9"/><circle cx="445.93" cy="62.2" r="1.9"/><circle cx="445.97" cy="62.16" r="1.9"/><circle cx="446.04" cy="62.13" r="1.9"/><circle cx="446.1" cy="62.09" r="1.9"/><circle cx="446.14" cy="62.06" r="1.9"/><circle cx="446.17" cy="62.02" r="1.9"/><circle cx="446.22" cy="61.99" r="1.9"/><circle cx="446.29" cy="61.95" r="1.9"/><circle cx="446.34" cy="61.92" r="1.9"/><circle cx="446.39" cy="61.88" r="1.9"/><circle cx="446.43" cy="61.85" r="1.9"/><circle cx="446.45" cy="61.81" r="1.9"/><circle cx="446.52" cy="61.77" r="1.9"/><circle cx="446.55" cy="61.74" r="1.9"/><circle cx="446.62" cy="61.7" r="1.9"/><circle cx="446.73" cy="61.67" r="1.9"/><circle cx="446.75" cy="61.63" r="1.9"/><circle cx="446.83" cy="61.6" r="1.9"/><circle cx="446.88" cy="61.56" r="1.9"/><circle cx="446.89" cy="61.53" r="1.9"/><circle cx="446.92" cy="61.49" r="1.9"/><circle cx="446.95" cy="61.46" r="1.9"/><circle cx="447.02" cy="61.42" r="1.9"/><circle cx="447.08" cy="61.38" r="1.9"/><circle cx="447.18" cy="61.35" r="1.9"/><circle cx="447.25" cy="61.31" r="1.9"/><circle cx="447.28" cy="61.28" r="1.9"/><circle cx="447.3" cy="61.24" r="1.9"/><circle cx="447.33" cy="61.2" r="1.9"/><circle cx="447.39" cy="61.17" r="1.9"/><circle cx="447.47" cy="61.13" r="1.9"/><circle cx="447.54" cy="61.1" r="1.9"/><circle cx="447.58" cy="61.06" r="1.9"/><circle cx="447.61" cy="61.02" r="1.9"/><circle cx="447.67" cy="60.99" r="1.9"/><circle cx="447.71" cy="60.95" r="1.9"/><circle cx="447.75" cy="60.92" r="1.9"/><circle cx="447.81" cy="60.88" r="1.9"/><circle cx="447.85" cy="60.84" r="1.9"/><circle cx="447.96" cy="60.81" r="1.9"/><circle cx="448" cy="60.77" r="1.9"/><circle cx="448.04" cy="60.73" r="1.9"/><circle cx="448.08" cy="60.7" r="1.9"/><circle cx="448.11" cy="60.66" r="1.9"/><circle cx="448.16" cy="60.62" r="1.9"/><circle cx="448.22" cy="60.59" r="1.9"/><circle cx="448.28" cy="60.55" r="1.9"/><circle cx="448.38" cy="60.51" r="1.9"/><circle cx="448.43" cy="60.48" r="1.9"/><circle cx="448.46" cy="60.44" r="1.9"/><circle cx="448.51" cy="60.4" r="1.9"/><circle cx="448.55" cy="60.37" r="1.9"/><circle cx="448.62" cy="60.33" r="1.9"/><circle cx="448.69" cy="60.29" r="1.9"/><circle cx="448.73" cy="60.25" r="1.9"/><circle cx="448.79" cy="60.22" r="1.9"/><circle cx="448.83" cy="60.18" r="1.9"/><circle cx="448.87" cy="60.14" r="1.9"/><circle cx="448.92" cy="60.11" r="1.9"/><circle cx="448.96" cy="60.07" r="1.9"/><circle cx="449.04" cy="60.03" r="1.9"/><circle cx="449.07" cy="59.99" r="1.9"/><circle cx="449.09" cy="59.96" r="1.9"/><circle cx="449.13" cy="59.92" r="1.9"/><circle cx="449.23" cy="59.88" r="1.9"/><circle cx="449.36" cy="59.84" r="1.9"/><circle cx="449.39" cy="59.81" r="1.9"/><circle cx="449.45" cy="59.77" r="1.9"/><circle cx="449.5" cy="59.73" r="1.9"/><circle cx="449.54" cy="59.69" r="1.9"/><circle cx="449.59" cy="59.65" r="1.9"/><circle cx="449.62" cy="59.62" r="1.9"/><circle cx="449.68" cy="59.58" r="1.9"/><circle cx="449.74" cy="59.54" r="1.9"/><circle cx="449.78" cy="59.5" r="1.9"/><circle cx="449.84" cy="59.46" r="1.9"/><circle cx="449.94" cy="59.43" r="1.9"/><circle cx="449.97" cy="59.39" r="1.9"/><circle cx="450.01" cy="59.35" r="1.9"/><circle cx="450.05" cy="59.31" r="1.9"/><circle cx="450.12" cy="59.27" r="1.9"/><circle cx="450.2" cy="59.23" r="1.9"/><circle cx="450.25" cy="59.2" r="1.9"/><circle cx="450.3" cy="59.16" r="1.9"/><circle cx="450.35" cy="59.12" r="1.9"/><circle cx="450.39" cy="59.08" r="1.9"/><circle cx="450.43" cy="59.04" r="1.9"/><circle cx="450.46" cy="59" r="1.9"/><circle cx="450.54" cy="58.96" r="1.9"/><circle cx="450.61" cy="58.92" r="1.9"/><circle cx="450.69" cy="58.88" r="1.9"/><circle cx="450.78" cy="58.84" r="1.9"/><circle cx="450.82" cy="58.81" r="1.9"/><circle cx="450.84" cy="58.77" r="1.9"/><circle cx="450.9" cy="58.73" r="1.9"/><circle cx="451.01" cy="58.69" r="1.9"/><circle cx="451.05" cy="58.65" r="1.9"/><circle cx="451.08" cy="58.61" r="1.9"/><circle cx="451.14" cy="58.57" r="1.9"/><circle cx="451.17" cy="58.53" r="1.9"/><circle cx="451.27" cy="58.49" r="1.9"/><circle cx="451.31" cy="58.45" r="1.9"/><circle cx="451.35" cy="58.41" r="1.9"/><circle cx="451.41" cy="58.37" r="1.9"/><circle cx="451.47" cy="58.33" r="1.9"/><circle cx="451.57" cy="58.29" r="1.9"/><circle cx="451.61" cy="58.25" r="1.9"/><circle cx="451.65" cy="58.21" r="1.9"/><circle cx="451.69" cy="58.17" r="1.9"/><circle cx="451.73" cy="58.13" r="1.9"/><circle cx="451.82" cy="58.09" r="1.9"/><circle cx="451.86" cy="58.05" r="1.9"/><circle cx="451.98" cy="58.01" r="1.9"/><circle cx="452.02" cy="57.96" r="1.9"/><circle cx="452.08" cy="57.92" r="1.9"/><circle cx="452.14" cy="57.88" r="1.9"/><circle cx="452.19" cy="57.84" r="1.9"/><circle cx="452.25" cy="57.8" r="1.9"/><circle cx="452.3" cy="57.76" r="1.9"/><circle cx="452.34" cy="57.72" r="1.9"/><circle cx="452.4" cy="57.68" r="1.9"/><circle cx="452.43" cy="57.64" r="1.9"/><circle cx="452.47" cy="57.59" r="1.9"/><circle cx="452.58" cy="57.55" r="1.9"/><circle cx="452.62" cy="57.51" r="1.9"/><circle cx="452.75" cy="57.47" r="1.9"/><circle cx="452.8" cy="57.43" r="1.9"/><circle cx="452.89" cy="57.38" r="1.9"/><circle cx="452.94" cy="57.34" r="1.9"/><circle cx="452.97" cy="57.3" r="1.9"/><circle cx="453.05" cy="57.26" r="1.9"/><circle cx="453.12" cy="57.22" r="1.9"/><circle cx="453.18" cy="57.17" r="1.9"/><circle cx="453.24" cy="57.13" r="1.9"/><circle cx="453.29" cy="57.09" r="1.9"/><circle cx="453.34" cy="57.05" r="1.9"/><circle cx="453.43" cy="57" r="1.9"/><circle cx="453.5" cy="56.96" r="1.9"/><circle cx="453.57" cy="56.92" r="1.9"/><circle cx="453.62" cy="56.87" r="1.9"/><circle cx="453.69" cy="56.83" r="1.9"/><circle cx="453.74" cy="56.79" r="1.9"/><circle cx="453.82" cy="56.74" r="1.9"/><circle cx="453.89" cy="56.7" r="1.9"/><circle cx="453.94" cy="56.66" r="1.9"/><circle cx="454" cy="56.61" r="1.9"/><circle cx="454.06" cy="56.57" r="1.9"/><circle cx="454.16" cy="56.52" r="1.9"/><circle cx="454.23" cy="56.48" r="1.9"/><circle cx="454.28" cy="56.44" r="1.9"/><circle cx="454.34" cy="56.39" r="1.9"/><circle cx="454.41" cy="56.35" r="1.9"/><circle cx="454.47" cy="56.3" r="1.9"/><circle cx="454.54" cy="56.26" r="1.9"/><circle cx="454.61" cy="56.21" r="1.9"/><circle cx="454.66" cy="56.17" r="1.9"/><circle cx="454.76" cy="56.12" r="1.9"/><circle cx="454.83" cy="56.08" r="1.9"/><circle cx="454.9" cy="56.03" r="1.9"/><circle cx="454.98" cy="55.99" r="1.9"/><circle cx="455.03" cy="55.94" r="1.9"/><circle cx="455.09" cy="55.9" r="1.9"/><circle cx="455.14" cy="55.85" r="1.9"/><circle cx="455.23" cy="55.8" r="1.9"/><circle cx="455.32" cy="55.76" r="1.9"/><circle cx="455.39" cy="55.71" r="1.9"/><circle cx="455.44" cy="55.67" r="1.9"/><circle cx="455.51" cy="55.62" r="1.9"/><circle cx="455.59" cy="55.57" r="1.9"/><circle cx="455.66" cy="55.53" r="1.9"/><circle cx="455.73" cy="55.48" r="1.9"/><circle cx="455.76" cy="55.43" r="1.9"/><circle cx="455.79" cy="55.39" r="1.9"/><circle cx="455.81" cy="55.34" r="1.9"/><circle cx="455.97" cy="55.29" r="1.9"/><circle cx="456.14" cy="55.24" r="1.9"/><circle cx="456.23" cy="55.2" r="1.9"/><circle cx="456.28" cy="55.15" r="1.9"/><circle cx="456.31" cy="55.1" r="1.9"/><circle cx="456.36" cy="55.05" r="1.9"/><circle cx="456.41" cy="55" r="1.9"/><circle cx="456.54" cy="54.96" r="1.9"/><circle cx="456.61" cy="54.91" r="1.9"/><circle cx="456.69" cy="54.86" r="1.9"/><circle cx="456.75" cy="54.81" r="1.9"/><circle cx="456.81" cy="54.76" r="1.9"/><circle cx="456.9" cy="54.71" r="1.9"/><circle cx="456.96" cy="54.66" r="1.9"/><circle cx="457.04" cy="54.61" r="1.9"/><circle cx="457.11" cy="54.56" r="1.9"/><circle cx="457.16" cy="54.51" r="1.9"/><circle cx="457.26" cy="54.46" r="1.9"/><circle cx="457.32" cy="54.41" r="1.9"/><circle cx="457.42" cy="54.36" r="1.9"/><circle cx="457.52" cy="54.31" r="1.9"/><circle cx="457.59" cy="54.26" r="1.9"/><circle cx="457.65" cy="54.21" r="1.9"/><circle cx="457.72" cy="54.16" r="1.9"/><circle cx="457.78" cy="54.11" r="1.9"/><circle cx="457.87" cy="54.06" r="1.9"/><circle cx="457.93" cy="54" r="1.9"/><circle cx="458.05" cy="53.95" r="1.9"/><circle cx="458.1" cy="53.9" r="1.9"/><circle cx="458.17" cy="53.85" r="1.9"/><circle cx="458.27" cy="53.8" r="1.9"/><circle cx="458.36" cy="53.74" r="1.9"/><circle cx="458.45" cy="53.69" r="1.9"/><circle cx="458.52" cy="53.64" r="1.9"/><circle cx="458.58" cy="53.58" r="1.9"/><circle cx="458.65" cy="53.53" r="1.9"/><circle cx="458.75" cy="53.48" r="1.9"/><circle cx="458.8" cy="53.42" r="1.9"/><circle cx="458.94" cy="53.37" r="1.9"/><circle cx="459.03" cy="53.32" r="1.9"/><circle cx="459.09" cy="53.26" r="1.9"/><circle cx="459.16" cy="53.21" r="1.9"/><circle cx="459.19" cy="53.15" r="1.9"/><circle cx="459.24" cy="53.1" r="1.9"/><circle cx="459.37" cy="53.04" r="1.9"/><circle cx="459.53" cy="52.99" r="1.9"/><circle cx="459.64" cy="52.93" r="1.9"/><circle cx="459.72" cy="52.87" r="1.9"/><circle cx="459.75" cy="52.82" r="1.9"/><circle cx="459.81" cy="52.76" r="1.9"/><circle cx="459.88" cy="52.7" r="1.9"/><circle cx="459.98" cy="52.65" r="1.9"/><circle cx="460.13" cy="52.59" r="1.9"/><circle cx="460.17" cy="52.53" r="1.9"/><circle cx="460.27" cy="52.47" r="1.9"/><circle cx="460.38" cy="52.42" r="1.9"/><circle cx="460.45" cy="52.36" r="1.9"/><circle cx="460.52" cy="52.3" r="1.9"/><circle cx="460.63" cy="52.24" r="1.9"/><circle cx="460.76" cy="52.18" r="1.9"/><circle cx="460.83" cy="52.12" r="1.9"/><circle cx="460.89" cy="52.06" r="1.9"/><circle cx="460.98" cy="52" r="1.9"/><circle cx="461.08" cy="51.94" r="1.9"/><circle cx="461.14" cy="51.88" r="1.9"/><circle cx="461.2" cy="51.82" r="1.9"/><circle cx="461.27" cy="51.76" r="1.9"/><circle cx="461.45" cy="51.69" r="1.9"/><circle cx="461.6" cy="51.63" r="1.9"/><circle cx="461.68" cy="51.57" r="1.9"/><circle cx="461.73" cy="51.51" r="1.9"/><circle cx="461.78" cy="51.44" r="1.9"/><circle cx="461.94" cy="51.38" r="1.9"/><circle cx="462" cy="51.32" r="1.9"/><circle cx="462.1" cy="51.25" r="1.9"/><circle cx="462.19" cy="51.19" r="1.9"/><circle cx="462.3" cy="51.12" r="1.9"/><circle cx="462.41" cy="51.06" r="1.9"/><circle cx="462.5" cy="50.99" r="1.9"/><circle cx="462.58" cy="50.93" r="1.9"/><circle cx="462.77" cy="50.86" r="1.9"/><circle cx="462.85" cy="50.79" r="1.9"/><circle cx="462.93" cy="50.73" r="1.9"/><circle cx="463.01" cy="50.66" r="1.9"/><circle cx="463.09" cy="50.59" r="1.9"/><circle cx="463.21" cy="50.52" r="1.9"/><circle cx="463.3" cy="50.46" r="1.9"/><circle cx="463.4" cy="50.39" r="1.9"/><circle cx="463.48" cy="50.32" r="1.9"/><circle cx="463.64" cy="50.25" r="1.9"/><circle cx="463.72" cy="50.18" r="1.9"/><circle cx="463.91" cy="50.1" r="1.9"/><circle cx="463.99" cy="50.03" r="1.9"/><circle cx="464.11" cy="49.96" r="1.9"/><circle cx="464.23" cy="49.89" r="1.9"/><circle cx="464.44" cy="49.82" r="1.9"/><circle cx="464.62" cy="49.74" r="1.9"/><circle cx="464.77" cy="49.67" r="1.9"/><circle cx="464.91" cy="49.59" r="1.9"/><circle cx="465.06" cy="49.52" r="1.9"/><circle cx="465.19" cy="49.44" r="1.9"/><circle cx="465.47" cy="49.37" r="1.9"/><circle cx="465.59" cy="49.29" r="1.9"/><circle cx="465.82" cy="49.21" r="1.9"/><circle cx="466.03" cy="49.14" r="1.9"/><circle cx="466.19" cy="49.06" r="1.9"/><circle cx="466.37" cy="48.98" r="1.9"/><circle cx="466.56" cy="48.9" r="1.9"/><circle cx="466.7" cy="48.82" r="1.9"/><circle cx="466.87" cy="48.74" r="1.9"/><circle cx="467.02" cy="48.66" r="1.9"/><circle cx="467.24" cy="48.57" r="1.9"/><circle cx="467.51" cy="48.49" r="1.9"/><circle cx="467.68" cy="48.41" r="1.9"/><circle cx="467.84" cy="48.32" r="1.9"/><circle cx="468.07" cy="48.24" r="1.9"/><circle cx="468.22" cy="48.15" r="1.9"/><circle cx="468.44" cy="48.06" r="1.9"/><circle cx="468.61" cy="47.98" r="1.9"/><circle cx="468.8" cy="47.89" r="1.9"/><circle cx="469.02" cy="47.8" r="1.9"/><circle cx="469.22" cy="47.71" r="1.9"/><circle cx="469.4" cy="47.62" r="1.9"/><circle cx="469.65" cy="47.53" r="1.9"/><circle cx="469.83" cy="47.43" r="1.9"/><circle cx="470.03" cy="47.34" r="1.9"/><circle cx="470.2" cy="47.25" r="1.9"/><circle cx="470.35" cy="47.15" r="1.9"/><circle cx="470.53" cy="47.05" r="1.9"/><circle cx="470.71" cy="46.96" r="1.9"/><circle cx="470.9" cy="46.86" r="1.9"/><circle cx="471.09" cy="46.76" r="1.9"/><circle cx="471.39" cy="46.66" r="1.9"/><circle cx="471.56" cy="46.55" r="1.9"/><circle cx="471.75" cy="46.45" r="1.9"/><circle cx="471.92" cy="46.35" r="1.9"/><circle cx="472.09" cy="46.24" r="1.9"/><circle cx="472.3" cy="46.13" r="1.9"/><circle cx="472.57" cy="46.02" r="1.9"/><circle cx="472.79" cy="45.91" r="1.9"/><circle cx="472.96" cy="45.8" r="1.9"/><circle cx="473.13" cy="45.69" r="1.9"/><circle cx="473.32" cy="45.58" r="1.9"/><circle cx="473.5" cy="45.46" r="1.9"/><circle cx="473.86" cy="45.34" r="1.9"/><circle cx="474.19" cy="45.22" r="1.9"/><circle cx="474.39" cy="45.1" r="1.9"/><circle cx="474.59" cy="44.98" r="1.9"/><circle cx="474.74" cy="44.85" r="1.9"/><circle cx="474.96" cy="44.73" r="1.9"/><circle cx="475.43" cy="44.6" r="1.9"/><circle cx="475.7" cy="44.47" r="1.9"/><circle cx="476.09" cy="44.34" r="1.9"/><circle cx="476.34" cy="44.2" r="1.9"/><circle cx="476.72" cy="44.06" r="1.9"/><circle cx="477.02" cy="43.92" r="1.9"/><circle cx="477.41" cy="43.78" r="1.9"/><circle cx="477.72" cy="43.64" r="1.9"/><circle cx="478.09" cy="43.49" r="1.9"/><circle cx="478.53" cy="43.34" r="1.9"/><circle cx="478.91" cy="43.18" r="1.9"/><circle cx="479.3" cy="43.03" r="1.9"/><circle cx="479.68" cy="42.87" r="1.9"/><circle cx="480.1" cy="42.7" r="1.9"/><circle cx="480.52" cy="42.53" r="1.9"/><circle cx="480.89" cy="42.36" r="1.9"/><circle cx="481.27" cy="42.19" r="1.9"/><circle cx="481.68" cy="42.01" r="1.9"/><circle cx="482.1" cy="41.82" r="1.9"/><circle cx="482.8" cy="41.63" r="1.9"/><circle cx="483.32" cy="41.44" r="1.9"/><circle cx="483.77" cy="41.24" r="1.9"/><circle cx="484.29" cy="41.03" r="1.9"/><circle cx="484.77" cy="40.82" r="1.9"/><circle cx="485.29" cy="40.6" r="1.9"/><circle cx="485.73" cy="40.37" r="1.9"/><circle cx="486.16" cy="40.14" r="1.9"/><circle cx="486.66" cy="39.89" r="1.9"/><circle cx="487.18" cy="39.64" r="1.9"/><circle cx="487.72" cy="39.38" r="1.9"/><circle cx="488.26" cy="39.1" r="1.9"/><circle cx="488.81" cy="38.82" r="1.9"/><circle cx="489.4" cy="38.52" r="1.9"/><circle cx="490.24" cy="38.2" r="1.9"/><circle cx="491.18" cy="37.87" r="1.9"/><circle cx="492.13" cy="37.52" r="1.9"/><circle cx="493.14" cy="37.15" r="1.9"/><circle cx="494.23" cy="36.75" r="1.9"/><circle cx="495.42" cy="36.33" r="1.9"/><circle cx="496.68" cy="35.87" r="1.9"/><circle cx="497.89" cy="35.37" r="1.9"/><circle cx="499.12" cy="34.83" r="1.9"/><circle cx="500.49" cy="34.22" r="1.9"/><circle cx="502" cy="33.54" r="1.9"/><circle cx="506.1" cy="32.76" r="1.9"/><circle cx="509.2" cy="31.84" r="1.9"/><circle cx="512.7" cy="30.71" r="1.9"/><circle cx="518.7" cy="29.25" r="1.9"/><circle cx="531.3" cy="27.12" r="1.9"/><circle cx="542.4" cy="22.84" r="1.9"/>
</g>
<rect class="ax" x="324.75" y="19.4" width="225.85" height="94.15"/>
<path class="ax" d="M341.36 113.55L341.36 119.45M374.55 113.55L374.55 119.45M407.73 113.55L407.73 119.45M440.92 113.55L440.92 119.45M474.11 113.55L474.11 119.45M507.29 113.55L507.29 119.45M540.48 113.55L540.48 119.45M324.75 106.25L318.95 106.25M324.75 92.99L318.95 92.99M324.75 79.73L318.95 79.73M324.75 66.47L318.95 66.47M324.75 53.21L318.95 53.21M324.75 39.95L318.95 39.95M324.75 26.69L318.95 26.69"/>
<text class="l" x="341.36" y="132.3">−6</text><text class="l" x="374.55" y="132.3">−4</text><text class="l" x="407.73" y="132.3">−2</text><text class="l" x="440.92" y="132.3">0</text><text class="l" x="474.11" y="132.3">2</text><text class="l" x="507.29" y="132.3">4</text><text class="l" x="540.48" y="132.3">6</text>
<text class="L" transform="translate(312.45 106.25) rotate(-90) scale(0.1)">−3</text><text class="L" transform="translate(312.45 79.73) rotate(-90) scale(0.1)">−1</text><text class="L" transform="translate(312.45 53.21) rotate(-90) scale(0.1)">1</text><text class="L" transform="translate(312.45 39.95) rotate(-90) scale(0.1)">2</text><text class="L" transform="translate(312.45 26.69) rotate(-90) scale(0.1)">3</text>
<text class="l" x="437.68" y="149.45">Sample Quantiles</text>
<text class="L" transform="translate(292.95 66) rotate(-90) scale(0.1)">Theoretical Quantiles</text>
</g>
<g>
<text class="t" x="152.55" y="183.9">n=150, df=10</text>
<clipPath id="c2"><rect x="39.6" y="191.65" width="225.9" height="94.3"/></clipPath>
<g class="p" clip-path="url(#c2)">
<path d="M91.63 291.61L260.97 185.99" style="stroke-width:0.95"/>
<circle cx="48" cy="282.43" r="1.9"/><circle cx="90.65" cy="276.21" r="1.9"/><circle cx="96.3" cy="273.02" r="1.9"/><circle cx="106.7" cy="270.79" r="1.9"/><circle cx="111.1" cy="269.04" r="1.9"/><circle cx="118.5" cy="267.6" r="1.9"/><circle cx="121" cy="266.35" r="1.9"/><circle cx="122.3" cy="265.25" r="1.9"/><circle cx="124.2" cy="264.26" r="1.9"/><circle cx="125.4" cy="263.36" r="1.9"/><circle cx="127.5" cy="262.53" r="1.9"/><circle cx="128.5" cy="261.76" r="1.9"/><circle cx="131.4" cy="261.04" r="1.9"/><circle cx="137.9" cy="260.36" r="1.9"/><circle cx="139.8" cy="259.72" r="1.9"/><circle cx="140.7" cy="259.11" r="1.9"/><circle cx="141.75" cy="258.52" r="1.9"/><circle cx="142.5" cy="257.96" r="1.9"/><circle cx="143" cy="257.43" r="1.9"/><circle cx="143.4" cy="256.91" r="1.9"/><circle cx="143.89" cy="256.41" r="1.9"/><circle cx="144.58" cy="255.93" r="1.9"/><circle cx="145.26" cy="255.47" r="1.9"/><circle cx="145.89" cy="255.01" r="1.9"/><circle cx="146.74" cy="254.57" r="1.9"/><circle cx="148.03" cy="254.14" r="1.9"/><circle cx="149.16" cy="253.72" r="1.9"/><circle cx="150.28" cy="253.32" r="1.9"/><circle cx="151.35" cy="252.92" r="1.9"/><circle cx="152.26" cy="252.53" r="1.9"/><circle cx="153.1" cy="252.14" r="1.9"/><circle cx="153.71" cy="251.77" r="1.9"/><circle cx="154.57" cy="251.4" r="1.9"/><circle cx="155.63" cy="251.04" r="1.9"/><circle cx="156.2" cy="250.68" r="1.9"/><circle cx="156.61" cy="250.33" r="1.9"/><circle cx="158.26" cy="249.99" r="1.9"/><circle cx="158.91" cy="249.65" r="1.9"/><circle cx="159.14" cy="249.31" r="1.9"/><circle cx="159.39" cy="248.98" r="1.9"/><circle cx="159.49" cy="248.65" r="1.9"/><circle cx="159.84" cy="248.33" r="1.9"/><circle cx="160.26" cy="248.01" r="1.9"/><circle cx="160.85" cy="247.7" r="1.9"/><circle cx="162.52" cy="247.39" r="1.9"/><circle cx="162.93" cy="247.08" r="1.9"/><circle cx="163.46" cy="246.77" r="1.9"/><circle cx="163.79" cy="246.47" r="1.9"/><circle cx="163.88" cy="246.17" r="1.9"/><circle cx="164.43" cy="245.87" r="1.9"/><circle cx="164.9" cy="245.58" r="1.9"/><circle cx="166.39" cy="245.29" r="1.9"/><circle cx="167.1" cy="245" r="1.9"/><circle cx="167.55" cy="244.71" r="1.9"/><circle cx="168.15" cy="244.42" r="1.9"/><circle cx="168.41" cy="244.14" r="1.9"/><circle cx="168.76" cy="243.85" r="1.9"/><circle cx="169.09" cy="243.57" r="1.9"/><circle cx="169.87" cy="243.29" r="1.9"/><circle cx="170.41" cy="243.01" r="1.9"/><circle cx="170.85" cy="242.74" r="1.9"/><circle cx="171.56" cy="242.46" r="1.9"/><circle cx="171.94" cy="242.18" r="1.9"/><circle cx="172.38" cy="241.91" r="1.9"/><circle cx="173.58" cy="241.64" r="1.9"/><circle cx="173.8" cy="241.36" r="1.9"/><circle cx="173.99" cy="241.09" r="1.9"/><circle cx="175.19" cy="240.82" r="1.9"/><circle cx="178.42" cy="240.55" r="1.9"/><circle cx="178.87" cy="240.28" r="1.9"/><circle cx="179.02" cy="240.01" r="1.9"/><circle cx="179.76" cy="239.74" r="1.9"/><circle cx="179.87" cy="239.47" r="1.9"/><circle cx="179.99" cy="239.2" r="1.9"/><circle cx="180.19" cy="238.93" r="1.9"/><circle cx="180.44" cy="238.67" r="1.9"/><circle cx="181.15" cy="238.4" r="1.9"/><circle cx="181.45" cy="238.13" r="1.9"/><circle cx="181.64" cy="237.86" r="1.9"/><circle cx="181.86" cy="237.59" r="1.9"/><circle cx="182.41" cy="237.32" r="1.9"/><circle cx="182.61" cy="237.05" r="1.9"/><circle cx="183.05" cy="236.78" r="1.9"/><circle cx="183.29" cy="236.51" r="1.9"/><circle cx="183.88" cy="236.24" r="1.9"/><circle cx="184.21" cy="235.96" r="1.9"/><circle cx="184.44" cy="235.69" r="1.9"/><circle cx="184.58" cy="235.42" r="1.9"/><circle cx="184.62" cy="235.14" r="1.9"/><circle cx="184.78" cy="234.86" r="1.9"/><circle cx="185.07" cy="234.59" r="1.9"/><circle cx="186.31" cy="234.31" r="1.9"/><circle cx="186.74" cy="234.03" r="1.9"/><circle cx="187.08" cy="233.75" r="1.9"/><circle cx="187.08" cy="233.46" r="1.9"/><circle cx="187.36" cy="233.18" r="1.9"/><circle cx="187.52" cy="232.89" r="1.9"/><circle cx="187.77" cy="232.6" r="1.9"/><circle cx="188.54" cy="232.31" r="1.9"/><circle cx="188.83" cy="232.02" r="1.9"/><circle cx="189.01" cy="231.73" r="1.9"/><circle cx="189.21" cy="231.43" r="1.9"/><circle cx="189.61" cy="231.13" r="1.9"/><circle cx="189.93" cy="230.83" r="1.9"/><circle cx="190.23" cy="230.52" r="1.9"/><circle cx="190.37" cy="230.21" r="1.9"/><circle cx="190.69" cy="229.9" r="1.9"/><circle cx="191.26" cy="229.59" r="1.9"/><circle cx="192.02" cy="229.27" r="1.9"/><circle cx="192.66" cy="228.95" r="1.9"/><circle cx="193.23" cy="228.62" r="1.9"/><circle cx="193.42" cy="228.29" r="1.9"/><circle cx="193.69" cy="227.95" r="1.9"/><circle cx="193.93" cy="227.61" r="1.9"/><circle cx="194.58" cy="227.27" r="1.9"/><circle cx="195.21" cy="226.92" r="1.9"/><circle cx="195.99" cy="226.56" r="1.9"/><circle cx="196.3" cy="226.2" r="1.9"/><circle cx="196.74" cy="225.83" r="1.9"/><circle cx="197.4" cy="225.46" r="1.9"/><circle cx="200.75" cy="225.07" r="1.9"/><circle cx="203.62" cy="224.68" r="1.9"/><circle cx="204.33" cy="224.28" r="1.9"/><circle cx="204.58" cy="223.88" r="1.9"/><circle cx="204.86" cy="223.46" r="1.9"/><circle cx="205.48" cy="223.03" r="1.9"/><circle cx="206.25" cy="222.59" r="1.9"/><circle cx="207.05" cy="222.13" r="1.9"/><circle cx="207.8" cy="221.67" r="1.9"/><circle cx="208.44" cy="221.19" r="1.9"/><circle cx="209.18" cy="220.69" r="1.9"/><circle cx="209.95" cy="220.17" r="1.9"/><circle cx="210.74" cy="219.64" r="1.9"/><circle cx="211.7" cy="219.08" r="1.9"/><circle cx="212.65" cy="218.49" r="1.9"/><circle cx="213.68" cy="217.88" r="1.9"/><circle cx="214.79" cy="217.24" r="1.9"/><circle cx="216" cy="216.56" r="1.9"/><circle cx="218" cy="215.84" r="1.9"/><circle cx="219.7" cy="215.07" r="1.9"/><circle cx="225.1" cy="214.24" r="1.9"/><circle cx="227.3" cy="213.34" r="1.9"/><circle cx="231.8" cy="212.35" r="1.9"/><circle cx="245.2" cy="211.25" r="1.9"/><circle cx="247.9" cy="210" r="1.9"/><circle cx="249.6" cy="208.56" r="1.9"/><circle cx="251.2" cy="206.81" r="1.9"/><circle cx="251.7" cy="204.58" r="1.9"/><circle cx="256.6" cy="201.39" r="1.9"/><circle cx="257.4" cy="195.17" r="1.9"/>
</g>
<rect class="ax" x="39.6" y="191.65" width="225.9" height="94.3"/>
<path class="ax" d="M62 285.95L62 291.85M91.91 285.95L91.91 291.85M121.82 285.95L121.82 291.85M151.74 285.95L151.74 291.85M181.65 285.95L181.65 291.85M211.56 285.95L211.56 291.85M241.48 285.95L241.48 291.85M39.6 270.96L33.8 270.96M39.6 254.88L33.8 254.88M39.6 238.8L33.8 238.8M39.6 222.72L33.8 222.72M39.6 206.64L33.8 206.64"/>
<text class="l" x="62" y="304.7">−4</text><text class="l" x="91.91" y="304.7">−3</text><text class="l" x="121.82" y="304.7">−2</text><text class="l" x="151.74" y="304.7">−1</text><text class="l" x="181.65" y="304.7">0</text><text class="l" x="211.56" y="304.7">1</text><text class="l" x="241.48" y="304.7">2</text>
<text class="L" transform="translate(27.3 270.96) rotate(-90) scale(0.1)">−2</text><text class="L" transform="translate(27.3 238.8) rotate(-90) scale(0.1)">0</text><text class="L" transform="translate(27.3 222.72) rotate(-90) scale(0.1)">1</text><text class="L" transform="translate(27.3 206.64) rotate(-90) scale(0.1)">2</text>
<text class="l" x="152.55" y="322.25">Sample Quantiles</text>
<text class="L" transform="translate(7.8 238.8) rotate(-90) scale(0.1)">Theoretical Quantiles</text>
</g>
<g>
<text class="t" x="437.68" y="183.9">n=150, df=10</text>
<clipPath id="c3"><rect x="324.75" y="191.65" width="225.85" height="94.3"/></clipPath>
<g class="p" clip-path="url(#c3)">
<path d="M358.67 291.61L542.23 185.99" style="stroke-width:0.95"/>
<circle cx="333" cy="282.43" r="1.9"/><circle cx="375.4" cy="278.15" r="1.9"/><circle cx="377.8" cy="276.02" r="1.9"/><circle cx="381.1" cy="274.56" r="1.9"/><circle cx="382.6" cy="273.44" r="1.9"/><circle cx="385.9" cy="272.52" r="1.9"/><circle cx="387" cy="271.73" r="1.9"/><circle cx="392.8" cy="271.05" r="1.9"/><circle cx="394.01" cy="270.45" r="1.9"/><circle cx="395.16" cy="269.9" r="1.9"/><circle cx="396.21" cy="269.4" r="1.9"/><circle cx="397.11" cy="268.95" r="1.9"/><circle cx="397.8" cy="268.52" r="1.9"/><circle cx="398.45" cy="268.12" r="1.9"/><circle cx="399.05" cy="267.75" r="1.9"/><circle cx="399.64" cy="267.4" r="1.9"/><circle cx="400.18" cy="267.07" r="1.9"/><circle cx="400.69" cy="266.76" r="1.9"/><circle cx="401.18" cy="266.46" r="1.9"/><circle cx="401.64" cy="266.17" r="1.9"/><circle cx="402.08" cy="265.9" r="1.9"/><circle cx="402.55" cy="265.63" r="1.9"/><circle cx="402.96" cy="265.38" r="1.9"/><circle cx="403.36" cy="265.14" r="1.9"/><circle cx="403.74" cy="264.9" r="1.9"/><circle cx="404.16" cy="264.68" r="1.9"/><circle cx="404.61" cy="264.46" r="1.9"/><circle cx="405.04" cy="264.24" r="1.9"/><circle cx="405.46" cy="264.04" r="1.9"/><circle cx="405.92" cy="263.84" r="1.9"/><circle cx="406.3" cy="263.64" r="1.9"/><circle cx="406.69" cy="263.45" r="1.9"/><circle cx="407.06" cy="263.27" r="1.9"/><circle cx="407.5" cy="263.09" r="1.9"/><circle cx="407.85" cy="262.91" r="1.9"/><circle cx="408.18" cy="262.74" r="1.9"/><circle cx="408.53" cy="262.57" r="1.9"/><circle cx="408.84" cy="262.41" r="1.9"/><circle cx="409.22" cy="262.25" r="1.9"/><circle cx="409.53" cy="262.09" r="1.9"/><circle cx="409.92" cy="261.94" r="1.9"/><circle cx="410.23" cy="261.79" r="1.9"/><circle cx="410.5" cy="261.64" r="1.9"/><circle cx="410.77" cy="261.49" r="1.9"/><circle cx="411.08" cy="261.35" r="1.9"/><circle cx="411.39" cy="261.21" r="1.9"/><circle cx="411.72" cy="261.07" r="1.9"/><circle cx="411.99" cy="260.94" r="1.9"/><circle cx="412.24" cy="260.81" r="1.9"/><circle cx="412.47" cy="260.68" r="1.9"/><circle cx="412.73" cy="260.55" r="1.9"/><circle cx="412.96" cy="260.42" r="1.9"/><circle cx="413.18" cy="260.3" r="1.9"/><circle cx="413.49" cy="260.17" r="1.9"/><circle cx="413.67" cy="260.05" r="1.9"/><circle cx="413.92" cy="259.93" r="1.9"/><circle cx="414.07" cy="259.82" r="1.9"/><circle cx="414.24" cy="259.7" r="1.9"/><circle cx="414.43" cy="259.58" r="1.9"/><circle cx="414.64" cy="259.47" r="1.9"/><circle cx="414.81" cy="259.36" r="1.9"/><circle cx="415" cy="259.25" r="1.9"/><circle cx="415.2" cy="259.14" r="1.9"/><circle cx="415.35" cy="259.04" r="1.9"/><circle cx="415.5" cy="258.93" r="1.9"/><circle cx="415.72" cy="258.82" r="1.9"/><circle cx="415.87" cy="258.72" r="1.9"/><circle cx="416.05" cy="258.62" r="1.9"/><circle cx="416.23" cy="258.52" r="1.9"/><circle cx="416.4" cy="258.42" r="1.9"/><circle cx="416.58" cy="258.32" r="1.9"/><circle cx="416.75" cy="258.22" r="1.9"/><circle cx="416.89" cy="258.13" r="1.9"/><circle cx="417.02" cy="258.03" r="1.9"/><circle cx="417.12" cy="257.94" r="1.9"/><circle cx="417.26" cy="257.84" r="1.9"/><circle cx="417.35" cy="257.75" r="1.9"/><circle cx="417.66" cy="257.66" r="1.9"/><circle cx="417.88" cy="257.57" r="1.9"/><circle cx="418.02" cy="257.48" r="1.9"/><circle cx="418.22" cy="257.39" r="1.9"/><circle cx="418.3" cy="257.3" r="1.9"/><circle cx="418.4" cy="257.21" r="1.9"/><circle cx="418.52" cy="257.12" r="1.9"/><circle cx="418.71" cy="257.04" r="1.9"/><circle cx="418.81" cy="256.95" r="1.9"/><circle cx="418.99" cy="256.87" r="1.9"/><circle cx="419.11" cy="256.78" r="1.9"/><circle cx="419.27" cy="256.7" r="1.9"/><circle cx="419.4" cy="256.62" r="1.9"/><circle cx="419.49" cy="256.54" r="1.9"/><circle cx="419.63" cy="256.46" r="1.9"/><circle cx="419.75" cy="256.38" r="1.9"/><circle cx="420.02" cy="256.3" r="1.9"/><circle cx="420.1" cy="256.22" r="1.9"/><circle cx="420.24" cy="256.14" r="1.9"/><circle cx="420.34" cy="256.06" r="1.9"/><circle cx="420.42" cy="255.98" r="1.9"/><circle cx="420.6" cy="255.91" r="1.9"/><circle cx="420.71" cy="255.83" r="1.9"/><circle cx="420.89" cy="255.76" r="1.9"/><circle cx="421.01" cy="255.68" r="1.9"/><circle cx="421.09" cy="255.61" r="1.9"/><circle cx="421.19" cy="255.53" r="1.9"/><circle cx="421.3" cy="255.46" r="1.9"/><circle cx="421.41" cy="255.39" r="1.9"/><circle cx="421.57" cy="255.31" r="1.9"/><circle cx="421.64" cy="255.24" r="1.9"/><circle cx="421.82" cy="255.17" r="1.9"/><circle cx="421.93" cy="255.1" r="1.9"/><circle cx="422.06" cy="255.03" r="1.9"/><circle cx="422.21" cy="254.96" r="1.9"/><circle cx="422.3" cy="254.89" r="1.9"/><circle cx="422.44" cy="254.82" r="1.9"/><circle cx="422.5" cy="254.75" r="1.9"/><circle cx="422.65" cy="254.68" r="1.9"/><circle cx="422.73" cy="254.61" r="1.9"/><circle cx="422.91" cy="254.55" r="1.9"/><circle cx="423" cy="254.48" r="1.9"/><circle cx="423.1" cy="254.41" r="1.9"/><circle cx="423.19" cy="254.35" r="1.9"/><circle cx="423.3" cy="254.28" r="1.9"/><circle cx="423.4" cy="254.22" r="1.9"/><circle cx="423.51" cy="254.15" r="1.9"/><circle cx="423.62" cy="254.09" r="1.9"/><circle cx="423.72" cy="254.02" r="1.9"/><circle cx="423.82" cy="253.96" r="1.9"/><circle cx="423.99" cy="253.89" r="1.9"/><circle cx="424.07" cy="253.83" r="1.9"/><circle cx="424.2" cy="253.77" r="1.9"/><circle cx="424.28" cy="253.7" r="1.9"/><circle cx="424.36" cy="253.64" r="1.9"/><circle cx="424.48" cy="253.58" r="1.9"/><circle cx="424.59" cy="253.52" r="1.9"/><circle cx="424.67" cy="253.46" r="1.9"/><circle cx="424.77" cy="253.4" r="1.9"/><circle cx="424.86" cy="253.34" r="1.9"/><circle cx="424.95" cy="253.27" r="1.9"/><circle cx="425.01" cy="253.21" r="1.9"/><circle cx="425.31" cy="253.15" r="1.9"/><circle cx="425.35" cy="253.1" r="1.9"/><circle cx="425.44" cy="253.04" r="1.9"/><circle cx="425.58" cy="252.98" r="1.9"/><circle cx="425.64" cy="252.92" r="1.9"/><circle cx="425.76" cy="252.86" r="1.9"/><circle cx="425.93" cy="252.8" r="1.9"/><circle cx="425.99" cy="252.74" r="1.9"/><circle cx="426.08" cy="252.69" r="1.9"/><circle cx="426.15" cy="252.63" r="1.9"/><circle cx="426.27" cy="252.57" r="1.9"/><circle cx="426.38" cy="252.51" r="1.9"/><circle cx="426.47" cy="252.46" r="1.9"/><circle cx="426.58" cy="252.4" r="1.9"/><circle cx="426.66" cy="252.35" r="1.9"/><circle cx="426.75" cy="252.29" r="1.9"/><circle cx="426.83" cy="252.23" r="1.9"/><circle cx="426.93" cy="252.18" r="1.9"/><circle cx="427.08" cy="252.12" r="1.9"/><circle cx="427.15" cy="252.07" r="1.9"/><circle cx="427.3" cy="252.01" r="1.9"/><circle cx="427.35" cy="251.96" r="1.9"/><circle cx="427.45" cy="251.91" r="1.9"/><circle cx="427.55" cy="251.85" r="1.9"/><circle cx="427.66" cy="251.8" r="1.9"/><circle cx="427.77" cy="251.74" r="1.9"/><circle cx="427.83" cy="251.69" r="1.9"/><circle cx="427.93" cy="251.64" r="1.9"/><circle cx="428.04" cy="251.58" r="1.9"/><circle cx="428.14" cy="251.53" r="1.9"/><circle cx="428.24" cy="251.48" r="1.9"/><circle cx="428.3" cy="251.43" r="1.9"/><circle cx="428.37" cy="251.37" r="1.9"/><circle cx="428.43" cy="251.32" r="1.9"/><circle cx="428.51" cy="251.27" r="1.9"/><circle cx="428.77" cy="251.22" r="1.9"/><circle cx="428.84" cy="251.17" r="1.9"/><circle cx="428.91" cy="251.12" r="1.9"/><circle cx="428.97" cy="251.06" r="1.9"/><circle cx="429.06" cy="251.01" r="1.9"/><circle cx="429.12" cy="250.96" r="1.9"/><circle cx="429.18" cy="250.91" r="1.9"/><circle cx="429.26" cy="250.86" r="1.9"/><circle cx="429.34" cy="250.81" r="1.9"/><circle cx="429.56" cy="250.76" r="1.9"/><circle cx="429.65" cy="250.71" r="1.9"/><circle cx="429.71" cy="250.66" r="1.9"/><circle cx="429.77" cy="250.61" r="1.9"/><circle cx="429.84" cy="250.56" r="1.9"/><circle cx="429.92" cy="250.51" r="1.9"/><circle cx="430.02" cy="250.47" r="1.9"/><circle cx="430.1" cy="250.42" r="1.9"/><circle cx="430.21" cy="250.37" r="1.9"/><circle cx="430.28" cy="250.32" r="1.9"/><circle cx="430.33" cy="250.27" r="1.9"/><circle cx="430.42" cy="250.22" r="1.9"/><circle cx="430.57" cy="250.17" r="1.9"/><circle cx="430.64" cy="250.13" r="1.9"/><circle cx="430.75" cy="250.08" r="1.9"/><circle cx="430.81" cy="250.03" r="1.9"/><circle cx="430.87" cy="249.98" r="1.9"/><circle cx="430.97" cy="249.94" r="1.9"/><circle cx="431.04" cy="249.89" r="1.9"/><circle cx="431.11" cy="249.84" r="1.9"/><circle cx="431.2" cy="249.79" r="1.9"/><circle cx="431.26" cy="249.75" r="1.9"/><circle cx="431.44" cy="249.7" r="1.9"/><circle cx="431.51" cy="249.65" r="1.9"/><circle cx="431.57" cy="249.61" r="1.9"/><circle cx="431.66" cy="249.56" r="1.9"/><circle cx="431.71" cy="249.52" r="1.9"/><circle cx="431.78" cy="249.47" r="1.9"/><circle cx="431.86" cy="249.42" r="1.9"/><circle cx="431.93" cy="249.38" r="1.9"/><circle cx="432.05" cy="249.33" r="1.9"/><circle cx="432.13" cy="249.29" r="1.9"/><circle cx="432.24" cy="249.24" r="1.9"/><circle cx="432.28" cy="249.2" r="1.9"/><circle cx="432.33" cy="249.15" r="1.9"/><circle cx="432.42" cy="249.11" r="1.9"/><circle cx="432.47" cy="249.06" r="1.9"/><circle cx="432.66" cy="249.02" r="1.9"/><circle cx="432.69" cy="248.97" r="1.9"/><circle cx="432.79" cy="248.93" r="1.9"/><circle cx="432.84" cy="248.88" r="1.9"/><circle cx="432.92" cy="248.84" r="1.9"/><circle cx="433.02" cy="248.79" r="1.9"/><circle cx="433.05" cy="248.75" r="1.9"/><circle cx="433.13" cy="248.71" r="1.9"/><circle cx="433.25" cy="248.66" r="1.9"/><circle cx="433.35" cy="248.62" r="1.9"/><circle cx="433.4" cy="248.58" r="1.9"/><circle cx="433.5" cy="248.53" r="1.9"/><circle cx="433.53" cy="248.49" r="1.9"/><circle cx="433.65" cy="248.44" r="1.9"/><circle cx="433.71" cy="248.4" r="1.9"/><circle cx="433.78" cy="248.36" r="1.9"/><circle cx="433.88" cy="248.32" r="1.9"/><circle cx="433.96" cy="248.27" r="1.9"/><circle cx="434.03" cy="248.23" r="1.9"/><circle cx="434.1" cy="248.19" r="1.9"/><circle cx="434.17" cy="248.14" r="1.9"/><circle cx="434.25" cy="248.1" r="1.9"/><circle cx="434.32" cy="248.06" r="1.9"/><circle cx="434.38" cy="248.02" r="1.9"/><circle cx="434.45" cy="247.97" r="1.9"/><circle cx="434.52" cy="247.93" r="1.9"/><circle cx="434.6" cy="247.89" r="1.9"/><circle cx="434.66" cy="247.85" r="1.9"/><circle cx="434.79" cy="247.81" r="1.9"/><circle cx="434.87" cy="247.76" r="1.9"/><circle cx="434.93" cy="247.72" r="1.9"/><circle cx="434.98" cy="247.68" r="1.9"/><circle cx="435.04" cy="247.64" r="1.9"/><circle cx="435.09" cy="247.6" r="1.9"/><circle cx="435.14" cy="247.56" r="1.9"/><circle cx="435.19" cy="247.52" r="1.9"/><circle cx="435.29" cy="247.47" r="1.9"/><circle cx="435.34" cy="247.43" r="1.9"/><circle cx="435.41" cy="247.39" r="1.9"/><circle cx="435.51" cy="247.35" r="1.9"/><circle cx="435.54" cy="247.31" r="1.9"/><circle cx="435.61" cy="247.27" r="1.9"/><circle cx="435.66" cy="247.23" r="1.9"/><circle cx="435.76" cy="247.19" r="1.9"/><circle cx="435.79" cy="247.15" r="1.9"/><circle cx="435.85" cy="247.11" r="1.9"/><circle cx="435.91" cy="247.07" r="1.9"/><circle cx="435.99" cy="247.03" r="1.9"/><circle cx="436.03" cy="246.99" r="1.9"/><circle cx="436.06" cy="246.95" r="1.9"/><circle cx="436.19" cy="246.91" r="1.9"/><circle cx="436.28" cy="246.87" r="1.9"/><circle cx="436.36" cy="246.83" r="1.9"/><circle cx="436.41" cy="246.79" r="1.9"/><circle cx="436.45" cy="246.75" r="1.9"/><circle cx="436.49" cy="246.71" r="1.9"/><circle cx="436.56" cy="246.67" r="1.9"/><circle cx="436.65" cy="246.63" r="1.9"/><circle cx="436.68" cy="246.59" r="1.9"/><circle cx="436.75" cy="246.55" r="1.9"/><circle cx="436.9" cy="246.51" r="1.9"/><circle cx="437" cy="246.47" r="1.9"/><circle cx="437.03" cy="246.43" r="1.9"/><circle cx="437.09" cy="246.39" r="1.9"/><circle cx="437.14" cy="246.35" r="1.9"/><circle cx="437.19" cy="246.31" r="1.9"/><circle cx="437.25" cy="246.27" r="1.9"/><circle cx="437.33" cy="246.23" r="1.9"/><circle cx="437.4" cy="246.2" r="1.9"/><circle cx="437.45" cy="246.16" r="1.9"/><circle cx="437.49" cy="246.12" r="1.9"/><circle cx="437.56" cy="246.08" r="1.9"/><circle cx="437.64" cy="246.04" r="1.9"/><circle cx="437.73" cy="246" r="1.9"/><circle cx="437.81" cy="245.96" r="1.9"/><circle cx="437.84" cy="245.93" r="1.9"/><circle cx="437.97" cy="245.89" r="1.9"/><circle cx="438.01" cy="245.85" r="1.9"/><circle cx="438.04" cy="245.81" r="1.9"/><circle cx="438.14" cy="245.77" r="1.9"/><circle cx="438.18" cy="245.73" r="1.9"/><circle cx="438.23" cy="245.7" r="1.9"/><circle cx="438.3" cy="245.66" r="1.9"/><circle cx="438.39" cy="245.62" r="1.9"/><circle cx="438.45" cy="245.58" r="1.9"/><circle cx="438.5" cy="245.54" r="1.9"/><circle cx="438.54" cy="245.51" r="1.9"/><circle cx="438.59" cy="245.47" r="1.9"/><circle cx="438.73" cy="245.43" r="1.9"/><circle cx="438.79" cy="245.39" r="1.9"/><circle cx="438.84" cy="245.36" r="1.9"/><circle cx="438.87" cy="245.32" r="1.9"/><circle cx="438.92" cy="245.28" r="1.9"/><circle cx="439.03" cy="245.24" r="1.9"/><circle cx="439.07" cy="245.21" r="1.9"/><circle cx="439.17" cy="245.17" r="1.9"/><circle cx="439.23" cy="245.13" r="1.9"/><circle cx="439.25" cy="245.09" r="1.9"/><circle cx="439.34" cy="245.06" r="1.9"/><circle cx="439.4" cy="245.02" r="1.9"/><circle cx="439.46" cy="244.98" r="1.9"/><circle cx="439.55" cy="244.95" r="1.9"/><circle cx="439.6" cy="244.91" r="1.9"/><circle cx="439.68" cy="244.87" r="1.9"/><circle cx="439.71" cy="244.84" r="1.9"/><circle cx="439.74" cy="244.8" r="1.9"/><circle cx="439.77" cy="244.76" r="1.9"/><circle cx="439.87" cy="244.72" r="1.9"/><circle cx="439.97" cy="244.69" r="1.9"/><circle cx="440.08" cy="244.65" r="1.9"/><circle cx="440.12" cy="244.61" r="1.9"/><circle cx="440.22" cy="244.58" r="1.9"/><circle cx="440.25" cy="244.54" r="1.9"/><circle cx="440.29" cy="244.51" r="1.9"/><circle cx="440.34" cy="244.47" r="1.9"/><circle cx="440.4" cy="244.43" r="1.9"/><circle cx="440.47" cy="244.4" r="1.9"/><circle cx="440.52" cy="244.36" r="1.9"/><circle cx="440.58" cy="244.32" r="1.9"/><circle cx="440.65" cy="244.29" r="1.9"/><circle cx="440.73" cy="244.25" r="1.9"/><circle cx="440.78" cy="244.22" r="1.9"/><circle cx="440.83" cy="244.18" r="1.9"/><circle cx="440.88" cy="244.14" r="1.9"/><circle cx="440.93" cy="244.11" r="1.9"/><circle cx="441.05" cy="244.07" r="1.9"/><circle cx="441.1" cy="244.03" r="1.9"/><circle cx="441.14" cy="244" r="1.9"/><circle cx="441.19" cy="243.96" r="1.9"/><circle cx="441.22" cy="243.93" r="1.9"/><circle cx="441.26" cy="243.89" r="1.9"/><circle cx="441.42" cy="243.86" r="1.9"/><circle cx="441.46" cy="243.82" r="1.9"/><circle cx="441.54" cy="243.78" r="1.9"/><circle cx="441.61" cy="243.75" r="1.9"/><circle cx="441.63" cy="243.71" r="1.9"/><circle cx="441.65" cy="243.68" r="1.9"/><circle cx="441.71" cy="243.64" r="1.9"/><circle cx="441.85" cy="243.61" r="1.9"/><circle cx="441.9" cy="243.57" r="1.9"/><circle cx="441.99" cy="243.54" r="1.9"/><circle cx="442.02" cy="243.5" r="1.9"/><circle cx="442.06" cy="243.46" r="1.9"/><circle cx="442.11" cy="243.43" r="1.9"/><circle cx="442.19" cy="243.39" r="1.9"/><circle cx="442.23" cy="243.36" r="1.9"/><circle cx="442.28" cy="243.32" r="1.9"/><circle cx="442.32" cy="243.29" r="1.9"/><circle cx="442.36" cy="243.25" r="1.9"/><circle cx="442.47" cy="243.22" r="1.9"/><circle cx="442.54" cy="243.18" r="1.9"/><circle cx="442.66" cy="243.15" r="1.9"/><circle cx="442.69" cy="243.11" r="1.9"/><circle cx="442.72" cy="243.08" r="1.9"/><circle cx="442.78" cy="243.04" r="1.9"/><circle cx="442.85" cy="243.01" r="1.9"/><circle cx="442.91" cy="242.97" r="1.9"/><circle cx="442.95" cy="242.94" r="1.9"/><circle cx="442.99" cy="242.9" r="1.9"/><circle cx="443.04" cy="242.87" r="1.9"/><circle cx="443.16" cy="242.83" r="1.9"/><circle cx="443.2" cy="242.8" r="1.9"/><circle cx="443.27" cy="242.76" r="1.9"/><circle cx="443.32" cy="242.73" r="1.9"/><circle cx="443.39" cy="242.69" r="1.9"/><circle cx="443.44" cy="242.66" r="1.9"/><circle cx="443.49" cy="242.62" r="1.9"/><circle cx="443.54" cy="242.59" r="1.9"/><circle cx="443.58" cy="242.56" r="1.9"/><circle cx="443.66" cy="242.52" r="1.9"/><circle cx="443.71" cy="242.49" r="1.9"/><circle cx="443.76" cy="242.45" r="1.9"/><circle cx="443.87" cy="242.42" r="1.9"/><circle cx="443.92" cy="242.38" r="1.9"/><circle cx="443.96" cy="242.35" r="1.9"/><circle cx="444.04" cy="242.31" r="1.9"/><circle cx="444.08" cy="242.28" r="1.9"/><circle cx="444.13" cy="242.25" r="1.9"/><circle cx="444.21" cy="242.21" r="1.9"/><circle cx="444.26" cy="242.18" r="1.9"/><circle cx="444.32" cy="242.14" r="1.9"/><circle cx="444.36" cy="242.11" r="1.9"/><circle cx="444.43" cy="242.07" r="1.9"/><circle cx="444.5" cy="242.04" r="1.9"/><circle cx="444.56" cy="242.01" r="1.9"/><circle cx="444.62" cy="241.97" r="1.9"/><circle cx="444.66" cy="241.94" r="1.9"/><circle cx="444.72" cy="241.9" r="1.9"/><circle cx="444.76" cy="241.87" r="1.9"/><circle cx="444.82" cy="241.83" r="1.9"/><circle cx="444.93" cy="241.8" r="1.9"/><circle cx="444.99" cy="241.77" r="1.9"/><circle cx="445.02" cy="241.73" r="1.9"/><circle cx="445.06" cy="241.7" r="1.9"/><circle cx="445.11" cy="241.66" r="1.9"/><circle cx="445.18" cy="241.63" r="1.9"/><circle cx="445.29" cy="241.6" r="1.9"/><circle cx="445.35" cy="241.56" r="1.9"/><circle cx="445.39" cy="241.53" r="1.9"/><circle cx="445.43" cy="241.49" r="1.9"/><circle cx="445.54" cy="241.46" r="1.9"/><circle cx="445.57" cy="241.43" r="1.9"/><circle cx="445.6" cy="241.39" r="1.9"/><circle cx="445.76" cy="241.36" r="1.9"/><circle cx="445.81" cy="241.32" r="1.9"/><circle cx="445.85" cy="241.29" r="1.9"/><circle cx="445.92" cy="241.26" r="1.9"/><circle cx="446.01" cy="241.22" r="1.9"/><circle cx="446.06" cy="241.19" r="1.9"/><circle cx="446.1" cy="241.16" r="1.9"/><circle cx="446.18" cy="241.12" r="1.9"/><circle cx="446.25" cy="241.09" r="1.9"/><circle cx="446.29" cy="241.05" r="1.9"/><circle cx="446.34" cy="241.02" r="1.9"/><circle cx="446.42" cy="240.99" r="1.9"/><circle cx="446.47" cy="240.95" r="1.9"/><circle cx="446.53" cy="240.92" r="1.9"/><circle cx="446.57" cy="240.89" r="1.9"/><circle cx="446.62" cy="240.85" r="1.9"/><circle cx="446.75" cy="240.82" r="1.9"/><circle cx="446.83" cy="240.79" r="1.9"/><circle cx="446.94" cy="240.75" r="1.9"/><circle cx="446.97" cy="240.72" r="1.9"/><circle cx="447" cy="240.68" r="1.9"/><circle cx="447.08" cy="240.65" r="1.9"/><circle cx="447.11" cy="240.62" r="1.9"/><circle cx="447.15" cy="240.58" r="1.9"/><circle cx="447.18" cy="240.55" r="1.9"/><circle cx="447.39" cy="240.52" r="1.9"/><circle cx="447.43" cy="240.48" r="1.9"/><circle cx="447.45" cy="240.45" r="1.9"/><circle cx="447.47" cy="240.42" r="1.9"/><circle cx="447.47" cy="240.38" r="1.9"/><circle cx="447.63" cy="240.35" r="1.9"/><circle cx="447.72" cy="240.32" r="1.9"/><circle cx="447.75" cy="240.28" r="1.9"/><circle cx="447.9" cy="240.25" r="1.9"/><circle cx="447.95" cy="240.22" r="1.9"/><circle cx="447.98" cy="240.18" r="1.9"/><circle cx="448.01" cy="240.15" r="1.9"/><circle cx="448.06" cy="240.12" r="1.9"/><circle cx="448.1" cy="240.08" r="1.9"/><circle cx="448.24" cy="240.05" r="1.9"/><circle cx="448.28" cy="240.01" r="1.9"/><circle cx="448.34" cy="239.98" r="1.9"/><circle cx="448.4" cy="239.95" r="1.9"/><circle cx="448.46" cy="239.91" r="1.9"/><circle cx="448.51" cy="239.88" r="1.9"/><circle cx="448.55" cy="239.85" r="1.9"/><circle cx="448.6" cy="239.81" r="1.9"/><circle cx="448.73" cy="239.78" r="1.9"/><circle cx="448.79" cy="239.75" r="1.9"/><circle cx="448.83" cy="239.71" r="1.9"/><circle cx="448.88" cy="239.68" r="1.9"/><circle cx="448.93" cy="239.65" r="1.9"/><circle cx="449.08" cy="239.61" r="1.9"/><circle cx="449.12" cy="239.58" r="1.9"/><circle cx="449.19" cy="239.55" r="1.9"/><circle cx="449.24" cy="239.51" r="1.9"/><circle cx="449.29" cy="239.48" r="1.9"/><circle cx="449.34" cy="239.45" r="1.9"/><circle cx="449.39" cy="239.42" r="1.9"/><circle cx="449.45" cy="239.38" r="1.9"/><circle cx="449.53" cy="239.35" r="1.9"/><circle cx="449.58" cy="239.32" r="1.9"/><circle cx="449.68" cy="239.28" r="1.9"/><circle cx="449.72" cy="239.25" r="1.9"/><circle cx="449.8" cy="239.22" r="1.9"/><circle cx="449.84" cy="239.18" r="1.9"/><circle cx="449.91" cy="239.15" r="1.9"/><circle cx="449.99" cy="239.12" r="1.9"/><circle cx="450.06" cy="239.08" r="1.9"/><circle cx="450.11" cy="239.05" r="1.9"/><circle cx="450.16" cy="239.02" r="1.9"/><circle cx="450.19" cy="238.98" r="1.9"/><circle cx="450.27" cy="238.95" r="1.9"/><circle cx="450.3" cy="238.92" r="1.9"/><circle cx="450.46" cy="238.88" r="1.9"/><circle cx="450.52" cy="238.85" r="1.9"/><circle cx="450.58" cy="238.82" r="1.9"/><circle cx="450.62" cy="238.78" r="1.9"/><circle cx="450.66" cy="238.75" r="1.9"/><circle cx="450.72" cy="238.72" r="1.9"/><circle cx="450.8" cy="238.68" r="1.9"/><circle cx="450.85" cy="238.65" r="1.9"/><circle cx="450.93" cy="238.62" r="1.9"/><circle cx="450.96" cy="238.58" r="1.9"/><circle cx="450.98" cy="238.55" r="1.9"/><circle cx="451.13" cy="238.52" r="1.9"/><circle cx="451.18" cy="238.48" r="1.9"/><circle cx="451.24" cy="238.45" r="1.9"/><circle cx="451.32" cy="238.42" r="1.9"/><circle cx="451.39" cy="238.38" r="1.9"/><circle cx="451.45" cy="238.35" r="1.9"/><circle cx="451.5" cy="238.32" r="1.9"/><circle cx="451.56" cy="238.28" r="1.9"/><circle cx="451.63" cy="238.25" r="1.9"/><circle cx="451.69" cy="238.22" r="1.9"/><circle cx="451.73" cy="238.18" r="1.9"/><circle cx="451.81" cy="238.15" r="1.9"/><circle cx="451.85" cy="238.12" r="1.9"/><circle cx="451.95" cy="238.09" r="1.9"/><circle cx="452.02" cy="238.05" r="1.9"/><circle cx="452.07" cy="238.02" r="1.9"/><circle cx="452.13" cy="237.99" r="1.9"/><circle cx="452.2" cy="237.95" r="1.9"/><circle cx="452.24" cy="237.92" r="1.9"/><circle cx="452.3" cy="237.89" r="1.9"/><circle cx="452.36" cy="237.85" r="1.9"/><circle cx="452.45" cy="237.82" r="1.9"/><circle cx="452.51" cy="237.79" r="1.9"/><circle cx="452.56" cy="237.75" r="1.9"/><circle cx="452.6" cy="237.72" r="1.9"/><circle cx="452.7" cy="237.69" r="1.9"/><circle cx="452.74" cy="237.65" r="1.9"/><circle cx="452.81" cy="237.62" r="1.9"/><circle cx="452.9" cy="237.59" r="1.9"/><circle cx="452.94" cy="237.55" r="1.9"/><circle cx="453.04" cy="237.52" r="1.9"/><circle cx="453.09" cy="237.48" r="1.9"/><circle cx="453.14" cy="237.45" r="1.9"/><circle cx="453.19" cy="237.42" r="1.9"/><circle cx="453.26" cy="237.38" r="1.9"/><circle cx="453.32" cy="237.35" r="1.9"/><circle cx="453.39" cy="237.32" r="1.9"/><circle cx="453.44" cy="237.28" r="1.9"/><circle cx="453.54" cy="237.25" r="1.9"/><circle cx="453.59" cy="237.22" r="1.9"/><circle cx="453.62" cy="237.18" r="1.9"/><circle cx="453.66" cy="237.15" r="1.9"/><circle cx="453.7" cy="237.12" r="1.9"/><circle cx="453.89" cy="237.08" r="1.9"/><circle cx="453.94" cy="237.05" r="1.9"/><circle cx="453.97" cy="237.02" r="1.9"/><circle cx="454.06" cy="236.98" r="1.9"/><circle cx="454.11" cy="236.95" r="1.9"/><circle cx="454.16" cy="236.92" r="1.9"/><circle cx="454.21" cy="236.88" r="1.9"/><circle cx="454.26" cy="236.85" r="1.9"/><circle cx="454.33" cy="236.81" r="1.9"/><circle cx="454.39" cy="236.78" r="1.9"/><circle cx="454.47" cy="236.75" r="1.9"/><circle cx="454.54" cy="236.71" r="1.9"/><circle cx="454.6" cy="236.68" r="1.9"/><circle cx="454.65" cy="236.65" r="1.9"/><circle cx="454.69" cy="236.61" r="1.9"/><circle cx="454.78" cy="236.58" r="1.9"/><circle cx="454.82" cy="236.55" r="1.9"/><circle cx="454.9" cy="236.51" r="1.9"/><circle cx="454.95" cy="236.48" r="1.9"/><circle cx="454.99" cy="236.44" r="1.9"/><circle cx="455.03" cy="236.41" r="1.9"/><circle cx="455.08" cy="236.38" r="1.9"/><circle cx="455.13" cy="236.34" r="1.9"/><circle cx="455.17" cy="236.31" r="1.9"/><circle cx="455.28" cy="236.28" r="1.9"/><circle cx="455.35" cy="236.24" r="1.9"/><circle cx="455.39" cy="236.21" r="1.9"/><circle cx="455.42" cy="236.17" r="1.9"/><circle cx="455.47" cy="236.14" r="1.9"/><circle cx="455.58" cy="236.11" r="1.9"/><circle cx="455.62" cy="236.07" r="1.9"/><circle cx="455.69" cy="236.04" r="1.9"/><circle cx="455.74" cy="236" r="1.9"/><circle cx="455.79" cy="235.97" r="1.9"/><circle cx="455.83" cy="235.94" r="1.9"/><circle cx="455.86" cy="235.9" r="1.9"/><circle cx="455.9" cy="235.87" r="1.9"/><circle cx="455.97" cy="235.83" r="1.9"/><circle cx="456.04" cy="235.8" r="1.9"/><circle cx="456.14" cy="235.77" r="1.9"/><circle cx="456.18" cy="235.73" r="1.9"/><circle cx="456.21" cy="235.7" r="1.9"/><circle cx="456.28" cy="235.66" r="1.9"/><circle cx="456.37" cy="235.63" r="1.9"/><circle cx="456.43" cy="235.59" r="1.9"/><circle cx="456.48" cy="235.56" r="1.9"/><circle cx="456.51" cy="235.53" r="1.9"/><circle cx="456.56" cy="235.49" r="1.9"/><circle cx="456.64" cy="235.46" r="1.9"/><circle cx="456.68" cy="235.42" r="1.9"/><circle cx="456.74" cy="235.39" r="1.9"/><circle cx="456.79" cy="235.35" r="1.9"/><circle cx="456.85" cy="235.32" r="1.9"/><circle cx="456.89" cy="235.29" r="1.9"/><circle cx="456.95" cy="235.25" r="1.9"/><circle cx="457.01" cy="235.22" r="1.9"/><circle cx="457.06" cy="235.18" r="1.9"/><circle cx="457.13" cy="235.15" r="1.9"/><circle cx="457.22" cy="235.11" r="1.9"/><circle cx="457.27" cy="235.08" r="1.9"/><circle cx="457.33" cy="235.04" r="1.9"/><circle cx="457.35" cy="235.01" r="1.9"/><circle cx="457.38" cy="234.98" r="1.9"/><circle cx="457.44" cy="234.94" r="1.9"/><circle cx="457.52" cy="234.91" r="1.9"/><circle cx="457.59" cy="234.87" r="1.9"/><circle cx="457.61" cy="234.84" r="1.9"/><circle cx="457.68" cy="234.8" r="1.9"/><circle cx="457.83" cy="234.77" r="1.9"/><circle cx="457.88" cy="234.73" r="1.9"/><circle cx="457.97" cy="234.7" r="1.9"/><circle cx="457.99" cy="234.66" r="1.9"/><circle cx="458.03" cy="234.63" r="1.9"/><circle cx="458.07" cy="234.59" r="1.9"/><circle cx="458.11" cy="234.56" r="1.9"/><circle cx="458.15" cy="234.52" r="1.9"/><circle cx="458.21" cy="234.49" r="1.9"/><circle cx="458.31" cy="234.45" r="1.9"/><circle cx="458.37" cy="234.42" r="1.9"/><circle cx="458.41" cy="234.38" r="1.9"/><circle cx="458.44" cy="234.35" r="1.9"/><circle cx="458.49" cy="234.31" r="1.9"/><circle cx="458.6" cy="234.28" r="1.9"/><circle cx="458.66" cy="234.24" r="1.9"/><circle cx="458.72" cy="234.21" r="1.9"/><circle cx="458.76" cy="234.17" r="1.9"/><circle cx="458.82" cy="234.14" r="1.9"/><circle cx="458.87" cy="234.1" r="1.9"/><circle cx="458.93" cy="234.06" r="1.9"/><circle cx="458.96" cy="234.03" r="1.9"/><circle cx="459.02" cy="233.99" r="1.9"/><circle cx="459.1" cy="233.96" r="1.9"/><circle cx="459.22" cy="233.92" r="1.9"/><circle cx="459.25" cy="233.89" r="1.9"/><circle cx="459.32" cy="233.85" r="1.9"/><circle cx="459.38" cy="233.82" r="1.9"/><circle cx="459.43" cy="233.78" r="1.9"/><circle cx="459.48" cy="233.74" r="1.9"/><circle cx="459.52" cy="233.71" r="1.9"/><circle cx="459.56" cy="233.67" r="1.9"/><circle cx="459.64" cy="233.64" r="1.9"/><circle cx="459.69" cy="233.6" r="1.9"/><circle cx="459.76" cy="233.57" r="1.9"/><circle cx="459.84" cy="233.53" r="1.9"/><circle cx="459.87" cy="233.49" r="1.9"/><circle cx="459.97" cy="233.46" r="1.9"/><circle cx="460.03" cy="233.42" r="1.9"/><circle cx="460.06" cy="233.38" r="1.9"/><circle cx="460.11" cy="233.35" r="1.9"/><circle cx="460.19" cy="233.31" r="1.9"/><circle cx="460.22" cy="233.28" r="1.9"/><circle cx="460.3" cy="233.24" r="1.9"/><circle cx="460.37" cy="233.2" r="1.9"/><circle cx="460.41" cy="233.17" r="1.9"/><circle cx="460.48" cy="233.13" r="1.9"/><circle cx="460.58" cy="233.09" r="1.9"/><circle cx="460.61" cy="233.06" r="1.9"/><circle cx="460.68" cy="233.02" r="1.9"/><circle cx="460.73" cy="232.99" r="1.9"/><circle cx="460.81" cy="232.95" r="1.9"/><circle cx="460.88" cy="232.91" r="1.9"/><circle cx="460.92" cy="232.88" r="1.9"/><circle cx="460.98" cy="232.84" r="1.9"/><circle cx="461.02" cy="232.8" r="1.9"/><circle cx="461.07" cy="232.76" r="1.9"/><circle cx="461.14" cy="232.73" r="1.9"/><circle cx="461.24" cy="232.69" r="1.9"/><circle cx="461.28" cy="232.65" r="1.9"/><circle cx="461.32" cy="232.62" r="1.9"/><circle cx="461.41" cy="232.58" r="1.9"/><circle cx="461.47" cy="232.54" r="1.9"/><circle cx="461.54" cy="232.51" r="1.9"/><circle cx="461.6" cy="232.47" r="1.9"/><circle cx="461.66" cy="232.43" r="1.9"/><circle cx="461.71" cy="232.39" r="1.9"/><circle cx="461.78" cy="232.36" r="1.9"/><circle cx="461.83" cy="232.32" r="1.9"/><circle cx="461.9" cy="232.28" r="1.9"/><circle cx="461.95" cy="232.24" r="1.9"/><circle cx="462" cy="232.21" r="1.9"/><circle cx="462.09" cy="232.17" r="1.9"/><circle cx="462.14" cy="232.13" r="1.9"/><circle cx="462.23" cy="232.09" r="1.9"/><circle cx="462.27" cy="232.06" r="1.9"/><circle cx="462.32" cy="232.02" r="1.9"/><circle cx="462.36" cy="231.98" r="1.9"/><circle cx="462.49" cy="231.94" r="1.9"/><circle cx="462.52" cy="231.9" r="1.9"/><circle cx="462.61" cy="231.87" r="1.9"/><circle cx="462.65" cy="231.83" r="1.9"/><circle cx="462.7" cy="231.79" r="1.9"/><circle cx="462.76" cy="231.75" r="1.9"/><circle cx="462.84" cy="231.71" r="1.9"/><circle cx="462.93" cy="231.67" r="1.9"/><circle cx="462.99" cy="231.64" r="1.9"/><circle cx="463.04" cy="231.6" r="1.9"/><circle cx="463.07" cy="231.56" r="1.9"/><circle cx="463.15" cy="231.52" r="1.9"/><circle cx="463.2" cy="231.48" r="1.9"/><circle cx="463.33" cy="231.44" r="1.9"/><circle cx="463.38" cy="231.4" r="1.9"/><circle cx="463.44" cy="231.37" r="1.9"/><circle cx="463.49" cy="231.33" r="1.9"/><circle cx="463.54" cy="231.29" r="1.9"/><circle cx="463.6" cy="231.25" r="1.9"/><circle cx="463.65" cy="231.21" r="1.9"/><circle cx="463.69" cy="231.17" r="1.9"/><circle cx="463.77" cy="231.13" r="1.9"/><circle cx="463.77" cy="231.09" r="1.9"/><circle cx="463.84" cy="231.05" r="1.9"/><circle cx="464.15" cy="231.01" r="1.9"/><circle cx="464.17" cy="230.97" r="1.9"/><circle cx="464.22" cy="230.93" r="1.9"/><circle cx="464.23" cy="230.89" r="1.9"/><circle cx="464.27" cy="230.85" r="1.9"/><circle cx="464.32" cy="230.81" r="1.9"/><circle cx="464.37" cy="230.77" r="1.9"/><circle cx="464.47" cy="230.73" r="1.9"/><circle cx="464.54" cy="230.69" r="1.9"/><circle cx="464.6" cy="230.65" r="1.9"/><circle cx="464.67" cy="230.61" r="1.9"/><circle cx="464.75" cy="230.57" r="1.9"/><circle cx="464.82" cy="230.53" r="1.9"/><circle cx="464.87" cy="230.49" r="1.9"/><circle cx="464.93" cy="230.45" r="1.9"/><circle cx="464.99" cy="230.41" r="1.9"/><circle cx="465.12" cy="230.37" r="1.9"/><circle cx="465.18" cy="230.33" r="1.9"/><circle cx="465.23" cy="230.29" r="1.9"/><circle cx="465.3" cy="230.25" r="1.9"/><circle cx="465.35" cy="230.21" r="1.9"/><circle cx="465.43" cy="230.17" r="1.9"/><circle cx="465.51" cy="230.13" r="1.9"/><circle cx="465.57" cy="230.08" r="1.9"/><circle cx="465.61" cy="230.04" r="1.9"/><circle cx="465.68" cy="230" r="1.9"/><circle cx="465.75" cy="229.96" r="1.9"/><circle cx="465.91" cy="229.92" r="1.9"/><circle cx="465.96" cy="229.88" r="1.9"/><circle cx="466.03" cy="229.84" r="1.9"/><circle cx="466.1" cy="229.79" r="1.9"/><circle cx="466.13" cy="229.75" r="1.9"/><circle cx="466.21" cy="229.71" r="1.9"/><circle cx="466.26" cy="229.67" r="1.9"/><circle cx="466.42" cy="229.63" r="1.9"/><circle cx="466.56" cy="229.58" r="1.9"/><circle cx="466.6" cy="229.54" r="1.9"/><circle cx="466.68" cy="229.5" r="1.9"/><circle cx="466.72" cy="229.46" r="1.9"/><circle cx="466.79" cy="229.41" r="1.9"/><circle cx="466.85" cy="229.37" r="1.9"/><circle cx="466.97" cy="229.33" r="1.9"/><circle cx="467.03" cy="229.28" r="1.9"/><circle cx="467.15" cy="229.24" r="1.9"/><circle cx="467.22" cy="229.2" r="1.9"/><circle cx="467.29" cy="229.16" r="1.9"/><circle cx="467.36" cy="229.11" r="1.9"/><circle cx="467.44" cy="229.07" r="1.9"/><circle cx="467.51" cy="229.02" r="1.9"/><circle cx="467.6" cy="228.98" r="1.9"/><circle cx="467.66" cy="228.94" r="1.9"/><circle cx="467.79" cy="228.89" r="1.9"/><circle cx="467.85" cy="228.85" r="1.9"/><circle cx="467.92" cy="228.81" r="1.9"/><circle cx="467.98" cy="228.76" r="1.9"/><circle cx="468.11" cy="228.72" r="1.9"/><circle cx="468.15" cy="228.67" r="1.9"/><circle cx="468.29" cy="228.63" r="1.9"/><circle cx="468.36" cy="228.58" r="1.9"/><circle cx="468.43" cy="228.54" r="1.9"/><circle cx="468.54" cy="228.49" r="1.9"/><circle cx="468.6" cy="228.45" r="1.9"/><circle cx="468.65" cy="228.4" r="1.9"/><circle cx="468.76" cy="228.36" r="1.9"/><circle cx="468.9" cy="228.31" r="1.9"/><circle cx="468.97" cy="228.27" r="1.9"/><circle cx="469.03" cy="228.22" r="1.9"/><circle cx="469.16" cy="228.18" r="1.9"/><circle cx="469.21" cy="228.13" r="1.9"/><circle cx="469.27" cy="228.08" r="1.9"/><circle cx="469.34" cy="228.04" r="1.9"/><circle cx="469.41" cy="227.99" r="1.9"/><circle cx="469.52" cy="227.95" r="1.9"/><circle cx="469.63" cy="227.9" r="1.9"/><circle cx="469.78" cy="227.85" r="1.9"/><circle cx="469.84" cy="227.81" r="1.9"/><circle cx="469.91" cy="227.76" r="1.9"/><circle cx="469.98" cy="227.71" r="1.9"/><circle cx="470.04" cy="227.66" r="1.9"/><circle cx="470.14" cy="227.62" r="1.9"/><circle cx="470.26" cy="227.57" r="1.9"/><circle cx="470.34" cy="227.52" r="1.9"/><circle cx="470.42" cy="227.47" r="1.9"/><circle cx="470.51" cy="227.43" r="1.9"/><circle cx="470.59" cy="227.38" r="1.9"/><circle cx="470.73" cy="227.33" r="1.9"/><circle cx="470.81" cy="227.28" r="1.9"/><circle cx="470.89" cy="227.23" r="1.9"/><circle cx="470.96" cy="227.18" r="1.9"/><circle cx="471.02" cy="227.13" r="1.9"/><circle cx="471.12" cy="227.09" r="1.9"/><circle cx="471.21" cy="227.04" r="1.9"/><circle cx="471.29" cy="226.99" r="1.9"/><circle cx="471.38" cy="226.94" r="1.9"/><circle cx="471.49" cy="226.89" r="1.9"/><circle cx="471.6" cy="226.84" r="1.9"/><circle cx="471.69" cy="226.79" r="1.9"/><circle cx="471.89" cy="226.74" r="1.9"/><circle cx="471.93" cy="226.69" r="1.9"/><circle cx="472.02" cy="226.64" r="1.9"/><circle cx="472.05" cy="226.59" r="1.9"/><circle cx="472.09" cy="226.54" r="1.9"/><circle cx="472.15" cy="226.48" r="1.9"/><circle cx="472.33" cy="226.43" r="1.9"/><circle cx="472.36" cy="226.38" r="1.9"/><circle cx="472.7" cy="226.33" r="1.9"/><circle cx="472.7" cy="226.28" r="1.9"/><circle cx="472.71" cy="226.23" r="1.9"/><circle cx="472.94" cy="226.17" r="1.9"/><circle cx="472.95" cy="226.12" r="1.9"/><circle cx="473.1" cy="226.07" r="1.9"/><circle cx="473.24" cy="226.02" r="1.9"/><circle cx="473.28" cy="225.96" r="1.9"/><circle cx="473.34" cy="225.91" r="1.9"/><circle cx="473.43" cy="225.86" r="1.9"/><circle cx="473.55" cy="225.8" r="1.9"/><circle cx="473.67" cy="225.75" r="1.9"/><circle cx="473.75" cy="225.69" r="1.9"/><circle cx="473.82" cy="225.64" r="1.9"/><circle cx="473.93" cy="225.59" r="1.9"/><circle cx="474.02" cy="225.53" r="1.9"/><circle cx="474.17" cy="225.48" r="1.9"/><circle cx="474.29" cy="225.42" r="1.9"/><circle cx="474.36" cy="225.37" r="1.9"/><circle cx="474.45" cy="225.31" r="1.9"/><circle cx="474.57" cy="225.25" r="1.9"/><circle cx="474.69" cy="225.2" r="1.9"/><circle cx="474.77" cy="225.14" r="1.9"/><circle cx="474.89" cy="225.09" r="1.9"/><circle cx="474.98" cy="225.03" r="1.9"/><circle cx="475.12" cy="224.97" r="1.9"/><circle cx="475.22" cy="224.91" r="1.9"/><circle cx="475.3" cy="224.86" r="1.9"/><circle cx="475.39" cy="224.8" r="1.9"/><circle cx="475.53" cy="224.74" r="1.9"/><circle cx="475.7" cy="224.68" r="1.9"/><circle cx="475.86" cy="224.62" r="1.9"/><circle cx="475.98" cy="224.56" r="1.9"/><circle cx="476.06" cy="224.5" r="1.9"/><circle cx="476.15" cy="224.45" r="1.9"/><circle cx="476.26" cy="224.39" r="1.9"/><circle cx="476.57" cy="224.33" r="1.9"/><circle cx="476.74" cy="224.26" r="1.9"/><circle cx="476.82" cy="224.2" r="1.9"/><circle cx="477.06" cy="224.14" r="1.9"/><circle cx="477.2" cy="224.08" r="1.9"/><circle cx="477.35" cy="224.02" r="1.9"/><circle cx="477.45" cy="223.96" r="1.9"/><circle cx="477.53" cy="223.9" r="1.9"/><circle cx="477.66" cy="223.83" r="1.9"/><circle cx="477.75" cy="223.77" r="1.9"/><circle cx="478.06" cy="223.71" r="1.9"/><circle cx="478.19" cy="223.64" r="1.9"/><circle cx="478.31" cy="223.58" r="1.9"/><circle cx="478.44" cy="223.51" r="1.9"/><circle cx="478.59" cy="223.45" r="1.9"/><circle cx="478.77" cy="223.38" r="1.9"/><circle cx="479.02" cy="223.32" r="1.9"/><circle cx="479.13" cy="223.25" r="1.9"/><circle cx="479.26" cy="223.19" r="1.9"/><circle cx="479.43" cy="223.12" r="1.9"/><circle cx="479.55" cy="223.05" r="1.9"/><circle cx="479.73" cy="222.99" r="1.9"/><circle cx="479.86" cy="222.92" r="1.9"/><circle cx="479.98" cy="222.85" r="1.9"/><circle cx="480.17" cy="222.78" r="1.9"/><circle cx="480.29" cy="222.71" r="1.9"/><circle cx="480.59" cy="222.64" r="1.9"/><circle cx="480.71" cy="222.57" r="1.9"/><circle cx="480.81" cy="222.5" r="1.9"/><circle cx="481.02" cy="222.43" r="1.9"/><circle cx="481.18" cy="222.36" r="1.9"/><circle cx="481.29" cy="222.29" r="1.9"/><circle cx="481.62" cy="222.21" r="1.9"/><circle cx="481.71" cy="222.14" r="1.9"/><circle cx="481.91" cy="222.07" r="1.9"/><circle cx="482.02" cy="221.99" r="1.9"/><circle cx="482.26" cy="221.92" r="1.9"/><circle cx="482.39" cy="221.84" r="1.9"/><circle cx="482.51" cy="221.77" r="1.9"/><circle cx="482.89" cy="221.69" r="1.9"/><circle cx="483.02" cy="221.62" r="1.9"/><circle cx="483.15" cy="221.54" r="1.9"/><circle cx="483.36" cy="221.46" r="1.9"/><circle cx="483.5" cy="221.38" r="1.9"/><circle cx="483.63" cy="221.3" r="1.9"/><circle cx="483.72" cy="221.22" r="1.9"/><circle cx="483.96" cy="221.14" r="1.9"/><circle cx="484.17" cy="221.06" r="1.9"/><circle cx="484.25" cy="220.98" r="1.9"/><circle cx="484.9" cy="220.9" r="1.9"/><circle cx="484.98" cy="220.82" r="1.9"/><circle cx="485.05" cy="220.73" r="1.9"/><circle cx="485.29" cy="220.65" r="1.9"/><circle cx="485.35" cy="220.56" r="1.9"/><circle cx="485.69" cy="220.48" r="1.9"/><circle cx="485.9" cy="220.39" r="1.9"/><circle cx="486.05" cy="220.3" r="1.9"/><circle cx="486.4" cy="220.21" r="1.9"/><circle cx="486.55" cy="220.12" r="1.9"/><circle cx="486.73" cy="220.03" r="1.9"/><circle cx="486.88" cy="219.94" r="1.9"/><circle cx="487.1" cy="219.85" r="1.9"/><circle cx="487.38" cy="219.76" r="1.9"/><circle cx="487.64" cy="219.66" r="1.9"/><circle cx="487.81" cy="219.57" r="1.9"/><circle cx="487.99" cy="219.47" r="1.9"/><circle cx="488.17" cy="219.38" r="1.9"/><circle cx="488.48" cy="219.28" r="1.9"/><circle cx="488.7" cy="219.18" r="1.9"/><circle cx="488.85" cy="219.08" r="1.9"/><circle cx="489.01" cy="218.98" r="1.9"/><circle cx="489.18" cy="218.88" r="1.9"/><circle cx="489.32" cy="218.78" r="1.9"/><circle cx="489.5" cy="218.67" r="1.9"/><circle cx="489.69" cy="218.56" r="1.9"/><circle cx="489.85" cy="218.46" r="1.9"/><circle cx="490.05" cy="218.35" r="1.9"/><circle cx="490.22" cy="218.24" r="1.9"/><circle cx="490.39" cy="218.13" r="1.9"/><circle cx="490.57" cy="218.02" r="1.9"/><circle cx="490.74" cy="217.9" r="1.9"/><circle cx="490.95" cy="217.78" r="1.9"/><circle cx="491.17" cy="217.67" r="1.9"/><circle cx="491.36" cy="217.55" r="1.9"/><circle cx="491.55" cy="217.43" r="1.9"/><circle cx="491.84" cy="217.3" r="1.9"/><circle cx="492.03" cy="217.18" r="1.9"/><circle cx="492.2" cy="217.05" r="1.9"/><circle cx="492.39" cy="216.92" r="1.9"/><circle cx="492.56" cy="216.79" r="1.9"/><circle cx="492.8" cy="216.66" r="1.9"/><circle cx="493.13" cy="216.53" r="1.9"/><circle cx="493.35" cy="216.39" r="1.9"/><circle cx="493.56" cy="216.25" r="1.9"/><circle cx="493.76" cy="216.11" r="1.9"/><circle cx="494.04" cy="215.96" r="1.9"/><circle cx="494.28" cy="215.81" r="1.9"/><circle cx="494.52" cy="215.66" r="1.9"/><circle cx="494.76" cy="215.51" r="1.9"/><circle cx="495.04" cy="215.35" r="1.9"/><circle cx="495.38" cy="215.19" r="1.9"/><circle cx="495.73" cy="215.03" r="1.9"/><circle cx="496.14" cy="214.86" r="1.9"/><circle cx="496.47" cy="214.69" r="1.9"/><circle cx="496.81" cy="214.51" r="1.9"/><circle cx="497.16" cy="214.33" r="1.9"/><circle cx="497.54" cy="214.15" r="1.9"/><circle cx="497.93" cy="213.96" r="1.9"/><circle cx="498.32" cy="213.76" r="1.9"/><circle cx="498.76" cy="213.56" r="1.9"/><circle cx="499.18" cy="213.36" r="1.9"/><circle cx="499.6" cy="213.14" r="1.9"/><circle cx="500.1" cy="212.92" r="1.9"/><circle cx="500.56" cy="212.7" r="1.9"/><circle cx="501.05" cy="212.46" r="1.9"/><circle cx="501.56" cy="212.22" r="1.9"/><circle cx="502.1" cy="211.97" r="1.9"/><circle cx="502.68" cy="211.7" r="1.9"/><circle cx="503.3" cy="211.43" r="1.9"/><circle cx="503.95" cy="211.14" r="1.9"/><circle cx="504.6" cy="210.84" r="1.9"/><circle cx="505.34" cy="210.53" r="1.9"/><circle cx="506.07" cy="210.2" r="1.9"/><circle cx="506.84" cy="209.85" r="1.9"/><circle cx="507.69" cy="209.48" r="1.9"/><circle cx="508.49" cy="209.08" r="1.9"/><circle cx="509.27" cy="208.65" r="1.9"/><circle cx="510.1" cy="208.2" r="1.9"/><circle cx="511.01" cy="207.7" r="1.9"/><circle cx="512" cy="207.15" r="1.9"/><circle cx="513.1" cy="206.55" r="1.9"/><circle cx="516.3" cy="205.87" r="1.9"/><circle cx="521.1" cy="205.08" r="1.9"/><circle cx="524.8" cy="204.16" r="1.9"/><circle cx="527.2" cy="203.04" r="1.9"/><circle cx="532.9" cy="201.58" r="1.9"/><circle cx="540.3" cy="199.45" r="1.9"/><circle cx="542.65" cy="195.17" r="1.9"/>
</g>
<rect class="ax" x="324.75" y="191.65" width="225.85" height="94.3"/>
<path class="ax" d="M363.43 285.95L363.43 291.85M407.68 285.95L407.68 291.85M451.94 285.95L451.94 291.85M496.2 285.95L496.2 291.85M540.45 285.95L540.45 291.85M324.75 278.58L318.95 278.58M324.75 265.32L318.95 265.32M324.75 252.06L318.95 252.06M324.75 238.8L318.95 238.8M324.75 225.54L318.95 225.54M324.75 212.28L318.95 212.28M324.75 199.02L318.95 199.02"/>
<text class="l" x="363.43" y="304.7">−4</text><text class="l" x="407.68" y="304.7">−2</text><text class="l" x="451.94" y="304.7">0</text><text class="l" x="496.2" y="304.7">2</text><text class="l" x="540.45" y="304.7">4</text>
<text class="L" transform="translate(312.45 278.58) rotate(-90) scale(0.1)">−3</text><text class="L" transform="translate(312.45 252.06) rotate(-90) scale(0.1)">−1</text><text class="L" transform="translate(312.45 225.54) rotate(-90) scale(0.1)">1</text><text class="L" transform="translate(312.45 212.28) rotate(-90) scale(0.1)">2</text><text class="L" transform="translate(312.45 199.02) rotate(-90) scale(0.1)">3</text>
<text class="l" x="437.68" y="322.25">Sample Quantiles</text>
<text class="L" transform="translate(292.95 238.8) rotate(-90) scale(0.1)">Theoretical Quantiles</text>
</g>
<g>
<text class="t" x="152.55" y="356.25">n=150, df=30</text>
<clipPath id="c4"><rect x="39.6" y="364" width="225.9" height="94.3"/></clipPath>
<g class="p" clip-path="url(#c4)">
<path d="M26.95 458.71L263.05 358.64" style="stroke-width:0.95"/>
<circle cx="48" cy="454.78" r="1.9"/><circle cx="52.3" cy="448.56" r="1.9"/><circle cx="61" cy="445.37" r="1.9"/><circle cx="63.7" cy="443.14" r="1.9"/><circle cx="65.4" cy="441.39" r="1.9"/><circle cx="66.5" cy="439.95" r="1.9"/><circle cx="68.1" cy="438.7" r="1.9"/><circle cx="70.8" cy="437.6" r="1.9"/><circle cx="73" cy="436.61" r="1.9"/><circle cx="87" cy="435.71" r="1.9"/><circle cx="87.8" cy="434.88" r="1.9"/><circle cx="88.6" cy="434.11" r="1.9"/><circle cx="89.8" cy="433.39" r="1.9"/><circle cx="91.5" cy="432.71" r="1.9"/><circle cx="93.73" cy="432.07" r="1.9"/><circle cx="94.62" cy="431.46" r="1.9"/><circle cx="95.45" cy="430.87" r="1.9"/><circle cx="96.18" cy="430.31" r="1.9"/><circle cx="97.16" cy="429.78" r="1.9"/><circle cx="98.32" cy="429.26" r="1.9"/><circle cx="99.71" cy="428.76" r="1.9"/><circle cx="100.45" cy="428.28" r="1.9"/><circle cx="102.89" cy="427.82" r="1.9"/><circle cx="105.98" cy="427.36" r="1.9"/><circle cx="107.33" cy="426.92" r="1.9"/><circle cx="109.35" cy="426.49" r="1.9"/><circle cx="109.87" cy="426.07" r="1.9"/><circle cx="110.55" cy="425.67" r="1.9"/><circle cx="110.78" cy="425.27" r="1.9"/><circle cx="111.23" cy="424.88" r="1.9"/><circle cx="111.42" cy="424.49" r="1.9"/><circle cx="111.6" cy="424.12" r="1.9"/><circle cx="112.15" cy="423.75" r="1.9"/><circle cx="112.48" cy="423.39" r="1.9"/><circle cx="112.7" cy="423.03" r="1.9"/><circle cx="113.29" cy="422.68" r="1.9"/><circle cx="113.44" cy="422.34" r="1.9"/><circle cx="113.57" cy="422" r="1.9"/><circle cx="113.78" cy="421.66" r="1.9"/><circle cx="114.77" cy="421.33" r="1.9"/><circle cx="115.32" cy="421" r="1.9"/><circle cx="116.35" cy="420.68" r="1.9"/><circle cx="117.07" cy="420.36" r="1.9"/><circle cx="117.52" cy="420.05" r="1.9"/><circle cx="117.95" cy="419.74" r="1.9"/><circle cx="118.64" cy="419.43" r="1.9"/><circle cx="119.37" cy="419.12" r="1.9"/><circle cx="119.99" cy="418.82" r="1.9"/><circle cx="120.82" cy="418.52" r="1.9"/><circle cx="121.85" cy="418.22" r="1.9"/><circle cx="122.86" cy="417.93" r="1.9"/><circle cx="123.62" cy="417.64" r="1.9"/><circle cx="124.27" cy="417.35" r="1.9"/><circle cx="124.68" cy="417.06" r="1.9"/><circle cx="125.57" cy="416.77" r="1.9"/><circle cx="126.24" cy="416.49" r="1.9"/><circle cx="126.85" cy="416.2" r="1.9"/><circle cx="127.67" cy="415.92" r="1.9"/><circle cx="128.17" cy="415.64" r="1.9"/><circle cx="128.49" cy="415.36" r="1.9"/><circle cx="128.76" cy="415.09" r="1.9"/><circle cx="129.2" cy="414.81" r="1.9"/><circle cx="130.39" cy="414.53" r="1.9"/><circle cx="131.12" cy="414.26" r="1.9"/><circle cx="131.44" cy="413.99" r="1.9"/><circle cx="131.99" cy="413.71" r="1.9"/><circle cx="132.73" cy="413.44" r="1.9"/><circle cx="133.1" cy="413.17" r="1.9"/><circle cx="133.36" cy="412.9" r="1.9"/><circle cx="133.84" cy="412.63" r="1.9"/><circle cx="134.52" cy="412.36" r="1.9"/><circle cx="135.44" cy="412.09" r="1.9"/><circle cx="135.74" cy="411.82" r="1.9"/><circle cx="136.07" cy="411.55" r="1.9"/><circle cx="136.5" cy="411.28" r="1.9"/><circle cx="136.96" cy="411.02" r="1.9"/><circle cx="137.55" cy="410.75" r="1.9"/><circle cx="138.41" cy="410.48" r="1.9"/><circle cx="138.82" cy="410.21" r="1.9"/><circle cx="139.58" cy="409.94" r="1.9"/><circle cx="139.78" cy="409.67" r="1.9"/><circle cx="140.03" cy="409.4" r="1.9"/><circle cx="140.44" cy="409.13" r="1.9"/><circle cx="141.87" cy="408.86" r="1.9"/><circle cx="142.93" cy="408.59" r="1.9"/><circle cx="143.72" cy="408.31" r="1.9"/><circle cx="144.51" cy="408.04" r="1.9"/><circle cx="145.33" cy="407.77" r="1.9"/><circle cx="146.25" cy="407.49" r="1.9"/><circle cx="148.2" cy="407.21" r="1.9"/><circle cx="148.81" cy="406.94" r="1.9"/><circle cx="149.56" cy="406.66" r="1.9"/><circle cx="150.26" cy="406.38" r="1.9"/><circle cx="150.96" cy="406.1" r="1.9"/><circle cx="152.18" cy="405.81" r="1.9"/><circle cx="152.72" cy="405.53" r="1.9"/><circle cx="153.25" cy="405.24" r="1.9"/><circle cx="153.71" cy="404.95" r="1.9"/><circle cx="155.22" cy="404.66" r="1.9"/><circle cx="155.79" cy="404.37" r="1.9"/><circle cx="157.28" cy="404.08" r="1.9"/><circle cx="157.68" cy="403.78" r="1.9"/><circle cx="158" cy="403.48" r="1.9"/><circle cx="158.86" cy="403.18" r="1.9"/><circle cx="159.59" cy="402.87" r="1.9"/><circle cx="159.84" cy="402.56" r="1.9"/><circle cx="160.89" cy="402.25" r="1.9"/><circle cx="161.33" cy="401.94" r="1.9"/><circle cx="161.73" cy="401.62" r="1.9"/><circle cx="162.88" cy="401.3" r="1.9"/><circle cx="163.22" cy="400.97" r="1.9"/><circle cx="164.13" cy="400.64" r="1.9"/><circle cx="164.75" cy="400.3" r="1.9"/><circle cx="165.57" cy="399.96" r="1.9"/><circle cx="166.91" cy="399.62" r="1.9"/><circle cx="168.23" cy="399.27" r="1.9"/><circle cx="169.15" cy="398.91" r="1.9"/><circle cx="169.91" cy="398.55" r="1.9"/><circle cx="170.68" cy="398.18" r="1.9"/><circle cx="172.01" cy="397.81" r="1.9"/><circle cx="172.72" cy="397.42" r="1.9"/><circle cx="173.01" cy="397.03" r="1.9"/><circle cx="173.32" cy="396.63" r="1.9"/><circle cx="174.19" cy="396.23" r="1.9"/><circle cx="174.58" cy="395.81" r="1.9"/><circle cx="175.51" cy="395.38" r="1.9"/><circle cx="176.04" cy="394.94" r="1.9"/><circle cx="176.69" cy="394.48" r="1.9"/><circle cx="178.16" cy="394.02" r="1.9"/><circle cx="179.38" cy="393.54" r="1.9"/><circle cx="180.46" cy="393.04" r="1.9"/><circle cx="181.78" cy="392.52" r="1.9"/><circle cx="183.9" cy="391.99" r="1.9"/><circle cx="187.77" cy="391.43" r="1.9"/><circle cx="189.52" cy="390.84" r="1.9"/><circle cx="191.4" cy="390.23" r="1.9"/><circle cx="191.8" cy="389.59" r="1.9"/><circle cx="192.2" cy="388.91" r="1.9"/><circle cx="192.8" cy="388.19" r="1.9"/><circle cx="193.3" cy="387.42" r="1.9"/><circle cx="194.5" cy="386.59" r="1.9"/><circle cx="195.3" cy="385.69" r="1.9"/><circle cx="198.8" cy="384.7" r="1.9"/><circle cx="209.2" cy="383.6" r="1.9"/><circle cx="210" cy="382.35" r="1.9"/><circle cx="213.3" cy="380.91" r="1.9"/><circle cx="222.8" cy="379.16" r="1.9"/><circle cx="230" cy="376.93" r="1.9"/><circle cx="250.5" cy="373.74" r="1.9"/><circle cx="257.2" cy="367.52" r="1.9"/>
</g>
<rect class="ax" x="39.6" y="364" width="225.9" height="94.3"/>
<path class="ax" d="M70.5 458.3L70.5 464.2M106.85 458.3L106.85 464.2M143.2 458.3L143.2 464.2M179.55 458.3L179.55 464.2M215.9 458.3L215.9 464.2M252.25 458.3L252.25 464.2M39.6 443.31L33.8 443.31M39.6 427.23L33.8 427.23M39.6 411.15L33.8 411.15M39.6 395.07L33.8 395.07M39.6 378.99L33.8 378.99"/>
<text class="l" x="70.5" y="477.05">−2</text><text class="l" x="106.85" y="477.05">−1</text><text class="l" x="143.2" y="477.05">0</text><text class="l" x="179.55" y="477.05">1</text><text class="l" x="215.9" y="477.05">2</text><text class="l" x="252.25" y="477.05">3</text>
<text class="L" transform="translate(27.3 443.31) rotate(-90) scale(0.1)">−2</text><text class="L" transform="translate(27.3 411.15) rotate(-90) scale(0.1)">0</text><text class="L" transform="translate(27.3 395.07) rotate(-90) scale(0.1)">1</text><text class="L" transform="translate(27.3 378.99) rotate(-90) scale(0.1)">2</text>
<text class="l" x="152.55" y="494.2">Sample Quantiles</text>
<text class="L" transform="translate(7.8 410.95) rotate(-90) scale(0.1)">Theoretical Quantiles</text>
</g>
<g>
<text class="t" x="437.68" y="356.25">n=150, df=30</text>
<clipPath id="c5"><rect x="324.75" y="364" width="225.85" height="94.3"/></clipPath>
<g class="p" clip-path="url(#c5)">
<path d="M317.73 463.86L535.57 358.24" style="stroke-width:0.95"/>
<circle cx="333" cy="454.78" r="1.9"/><circle cx="337.4" cy="450.5" r="1.9"/><circle cx="344.1" cy="448.37" r="1.9"/><circle cx="347.8" cy="446.91" r="1.9"/><circle cx="351.1" cy="445.79" r="1.9"/><circle cx="354.3" cy="444.87" r="1.9"/><circle cx="356.5" cy="444.08" r="1.9"/><circle cx="357.31" cy="443.4" r="1.9"/><circle cx="358.11" cy="442.8" r="1.9"/><circle cx="358.83" cy="442.25" r="1.9"/><circle cx="359.49" cy="441.75" r="1.9"/><circle cx="360.09" cy="441.3" r="1.9"/><circle cx="361.08" cy="440.87" r="1.9"/><circle cx="362.04" cy="440.47" r="1.9"/><circle cx="362.91" cy="440.1" r="1.9"/><circle cx="363.72" cy="439.75" r="1.9"/><circle cx="364.53" cy="439.42" r="1.9"/><circle cx="365.26" cy="439.11" r="1.9"/><circle cx="366.01" cy="438.81" r="1.9"/><circle cx="366.71" cy="438.52" r="1.9"/><circle cx="367.34" cy="438.25" r="1.9"/><circle cx="367.95" cy="437.98" r="1.9"/><circle cx="368.53" cy="437.73" r="1.9"/><circle cx="369.11" cy="437.49" r="1.9"/><circle cx="369.63" cy="437.25" r="1.9"/><circle cx="370.13" cy="437.03" r="1.9"/><circle cx="370.63" cy="436.81" r="1.9"/><circle cx="371.08" cy="436.59" r="1.9"/><circle cx="371.52" cy="436.39" r="1.9"/><circle cx="371.98" cy="436.19" r="1.9"/><circle cx="372.47" cy="435.99" r="1.9"/><circle cx="372.93" cy="435.8" r="1.9"/><circle cx="373.31" cy="435.62" r="1.9"/><circle cx="373.7" cy="435.44" r="1.9"/><circle cx="374.06" cy="435.26" r="1.9"/><circle cx="374.39" cy="435.09" r="1.9"/><circle cx="374.8" cy="434.92" r="1.9"/><circle cx="375.11" cy="434.76" r="1.9"/><circle cx="375.47" cy="434.6" r="1.9"/><circle cx="375.98" cy="434.44" r="1.9"/><circle cx="376.31" cy="434.29" r="1.9"/><circle cx="376.62" cy="434.14" r="1.9"/><circle cx="376.89" cy="433.99" r="1.9"/><circle cx="377.2" cy="433.84" r="1.9"/><circle cx="377.5" cy="433.7" r="1.9"/><circle cx="377.86" cy="433.56" r="1.9"/><circle cx="378.12" cy="433.42" r="1.9"/><circle cx="378.41" cy="433.29" r="1.9"/><circle cx="378.63" cy="433.16" r="1.9"/><circle cx="379.12" cy="433.03" r="1.9"/><circle cx="379.41" cy="432.9" r="1.9"/><circle cx="379.64" cy="432.77" r="1.9"/><circle cx="379.87" cy="432.65" r="1.9"/><circle cx="380.06" cy="432.52" r="1.9"/><circle cx="380.49" cy="432.4" r="1.9"/><circle cx="380.78" cy="432.28" r="1.9"/><circle cx="381" cy="432.17" r="1.9"/><circle cx="381.2" cy="432.05" r="1.9"/><circle cx="381.39" cy="431.93" r="1.9"/><circle cx="381.68" cy="431.82" r="1.9"/><circle cx="381.88" cy="431.71" r="1.9"/><circle cx="382.12" cy="431.6" r="1.9"/><circle cx="382.32" cy="431.49" r="1.9"/><circle cx="382.53" cy="431.39" r="1.9"/><circle cx="382.75" cy="431.28" r="1.9"/><circle cx="382.97" cy="431.17" r="1.9"/><circle cx="383.16" cy="431.07" r="1.9"/><circle cx="383.39" cy="430.97" r="1.9"/><circle cx="383.57" cy="430.87" r="1.9"/><circle cx="383.78" cy="430.77" r="1.9"/><circle cx="384.02" cy="430.67" r="1.9"/><circle cx="384.22" cy="430.57" r="1.9"/><circle cx="384.39" cy="430.48" r="1.9"/><circle cx="384.55" cy="430.38" r="1.9"/><circle cx="384.74" cy="430.29" r="1.9"/><circle cx="385" cy="430.19" r="1.9"/><circle cx="385.19" cy="430.1" r="1.9"/><circle cx="385.35" cy="430.01" r="1.9"/><circle cx="385.53" cy="429.92" r="1.9"/><circle cx="385.7" cy="429.83" r="1.9"/><circle cx="385.92" cy="429.74" r="1.9"/><circle cx="386.09" cy="429.65" r="1.9"/><circle cx="386.23" cy="429.56" r="1.9"/><circle cx="386.36" cy="429.47" r="1.9"/><circle cx="386.53" cy="429.39" r="1.9"/><circle cx="386.84" cy="429.3" r="1.9"/><circle cx="387" cy="429.22" r="1.9"/><circle cx="387.14" cy="429.13" r="1.9"/><circle cx="387.25" cy="429.05" r="1.9"/><circle cx="387.49" cy="428.97" r="1.9"/><circle cx="387.62" cy="428.89" r="1.9"/><circle cx="387.76" cy="428.81" r="1.9"/><circle cx="387.9" cy="428.73" r="1.9"/><circle cx="388.03" cy="428.65" r="1.9"/><circle cx="388.34" cy="428.57" r="1.9"/><circle cx="388.5" cy="428.49" r="1.9"/><circle cx="388.67" cy="428.41" r="1.9"/><circle cx="388.78" cy="428.33" r="1.9"/><circle cx="388.88" cy="428.26" r="1.9"/><circle cx="389.12" cy="428.18" r="1.9"/><circle cx="389.27" cy="428.11" r="1.9"/><circle cx="389.39" cy="428.03" r="1.9"/><circle cx="389.49" cy="427.96" r="1.9"/><circle cx="389.59" cy="427.88" r="1.9"/><circle cx="389.89" cy="427.81" r="1.9"/><circle cx="389.98" cy="427.74" r="1.9"/><circle cx="390.13" cy="427.66" r="1.9"/><circle cx="390.2" cy="427.59" r="1.9"/><circle cx="390.34" cy="427.52" r="1.9"/><circle cx="390.53" cy="427.45" r="1.9"/><circle cx="390.84" cy="427.38" r="1.9"/><circle cx="390.95" cy="427.31" r="1.9"/><circle cx="391.02" cy="427.24" r="1.9"/><circle cx="391.1" cy="427.17" r="1.9"/><circle cx="391.23" cy="427.1" r="1.9"/><circle cx="391.42" cy="427.03" r="1.9"/><circle cx="391.52" cy="426.96" r="1.9"/><circle cx="391.73" cy="426.9" r="1.9"/><circle cx="391.8" cy="426.83" r="1.9"/><circle cx="391.94" cy="426.76" r="1.9"/><circle cx="392.12" cy="426.7" r="1.9"/><circle cx="392.24" cy="426.63" r="1.9"/><circle cx="392.39" cy="426.57" r="1.9"/><circle cx="392.53" cy="426.5" r="1.9"/><circle cx="392.6" cy="426.44" r="1.9"/><circle cx="392.79" cy="426.37" r="1.9"/><circle cx="392.89" cy="426.31" r="1.9"/><circle cx="393.21" cy="426.24" r="1.9"/><circle cx="393.32" cy="426.18" r="1.9"/><circle cx="393.43" cy="426.12" r="1.9"/><circle cx="393.54" cy="426.05" r="1.9"/><circle cx="393.68" cy="425.99" r="1.9"/><circle cx="393.82" cy="425.93" r="1.9"/><circle cx="394.06" cy="425.87" r="1.9"/><circle cx="394.26" cy="425.81" r="1.9"/><circle cx="394.39" cy="425.75" r="1.9"/><circle cx="394.49" cy="425.69" r="1.9"/><circle cx="394.6" cy="425.62" r="1.9"/><circle cx="394.69" cy="425.56" r="1.9"/><circle cx="394.79" cy="425.5" r="1.9"/><circle cx="394.89" cy="425.45" r="1.9"/><circle cx="395.18" cy="425.39" r="1.9"/><circle cx="395.32" cy="425.33" r="1.9"/><circle cx="395.37" cy="425.27" r="1.9"/><circle cx="395.74" cy="425.21" r="1.9"/><circle cx="395.86" cy="425.15" r="1.9"/><circle cx="395.97" cy="425.09" r="1.9"/><circle cx="396.04" cy="425.04" r="1.9"/><circle cx="396.1" cy="424.98" r="1.9"/><circle cx="396.2" cy="424.92" r="1.9"/><circle cx="396.42" cy="424.86" r="1.9"/><circle cx="396.65" cy="424.81" r="1.9"/><circle cx="396.72" cy="424.75" r="1.9"/><circle cx="396.9" cy="424.7" r="1.9"/><circle cx="397.02" cy="424.64" r="1.9"/><circle cx="397.11" cy="424.58" r="1.9"/><circle cx="397.3" cy="424.53" r="1.9"/><circle cx="397.4" cy="424.47" r="1.9"/><circle cx="397.53" cy="424.42" r="1.9"/><circle cx="397.63" cy="424.36" r="1.9"/><circle cx="397.73" cy="424.31" r="1.9"/><circle cx="397.85" cy="424.26" r="1.9"/><circle cx="398.03" cy="424.2" r="1.9"/><circle cx="398.14" cy="424.15" r="1.9"/><circle cx="398.34" cy="424.09" r="1.9"/><circle cx="398.43" cy="424.04" r="1.9"/><circle cx="398.53" cy="423.99" r="1.9"/><circle cx="398.61" cy="423.93" r="1.9"/><circle cx="398.82" cy="423.88" r="1.9"/><circle cx="398.95" cy="423.83" r="1.9"/><circle cx="399.09" cy="423.78" r="1.9"/><circle cx="399.2" cy="423.72" r="1.9"/><circle cx="399.32" cy="423.67" r="1.9"/><circle cx="399.41" cy="423.62" r="1.9"/><circle cx="399.6" cy="423.57" r="1.9"/><circle cx="399.7" cy="423.52" r="1.9"/><circle cx="399.77" cy="423.47" r="1.9"/><circle cx="399.84" cy="423.41" r="1.9"/><circle cx="399.97" cy="423.36" r="1.9"/><circle cx="400.03" cy="423.31" r="1.9"/><circle cx="400.32" cy="423.26" r="1.9"/><circle cx="400.43" cy="423.21" r="1.9"/><circle cx="400.53" cy="423.16" r="1.9"/><circle cx="400.74" cy="423.11" r="1.9"/><circle cx="400.87" cy="423.06" r="1.9"/><circle cx="400.94" cy="423.01" r="1.9"/><circle cx="401.06" cy="422.96" r="1.9"/><circle cx="401.16" cy="422.91" r="1.9"/><circle cx="401.26" cy="422.86" r="1.9"/><circle cx="401.36" cy="422.82" r="1.9"/><circle cx="401.49" cy="422.77" r="1.9"/><circle cx="401.6" cy="422.72" r="1.9"/><circle cx="401.7" cy="422.67" r="1.9"/><circle cx="401.84" cy="422.62" r="1.9"/><circle cx="401.97" cy="422.57" r="1.9"/><circle cx="402.08" cy="422.52" r="1.9"/><circle cx="402.19" cy="422.48" r="1.9"/><circle cx="402.29" cy="422.43" r="1.9"/><circle cx="402.42" cy="422.38" r="1.9"/><circle cx="402.52" cy="422.33" r="1.9"/><circle cx="402.62" cy="422.29" r="1.9"/><circle cx="402.72" cy="422.24" r="1.9"/><circle cx="402.8" cy="422.19" r="1.9"/><circle cx="402.9" cy="422.14" r="1.9"/><circle cx="403.07" cy="422.1" r="1.9"/><circle cx="403.14" cy="422.05" r="1.9"/><circle cx="403.32" cy="422" r="1.9"/><circle cx="403.51" cy="421.96" r="1.9"/><circle cx="403.68" cy="421.91" r="1.9"/><circle cx="403.72" cy="421.87" r="1.9"/><circle cx="403.77" cy="421.82" r="1.9"/><circle cx="403.89" cy="421.77" r="1.9"/><circle cx="403.97" cy="421.73" r="1.9"/><circle cx="404.09" cy="421.68" r="1.9"/><circle cx="404.16" cy="421.64" r="1.9"/><circle cx="404.31" cy="421.59" r="1.9"/><circle cx="404.45" cy="421.55" r="1.9"/><circle cx="404.55" cy="421.5" r="1.9"/><circle cx="404.71" cy="421.46" r="1.9"/><circle cx="404.78" cy="421.41" r="1.9"/><circle cx="404.87" cy="421.37" r="1.9"/><circle cx="404.97" cy="421.32" r="1.9"/><circle cx="405.08" cy="421.28" r="1.9"/><circle cx="405.18" cy="421.23" r="1.9"/><circle cx="405.26" cy="421.19" r="1.9"/><circle cx="405.42" cy="421.14" r="1.9"/><circle cx="405.51" cy="421.1" r="1.9"/><circle cx="405.61" cy="421.06" r="1.9"/><circle cx="405.72" cy="421.01" r="1.9"/><circle cx="405.81" cy="420.97" r="1.9"/><circle cx="405.93" cy="420.93" r="1.9"/><circle cx="406.13" cy="420.88" r="1.9"/><circle cx="406.25" cy="420.84" r="1.9"/><circle cx="406.32" cy="420.79" r="1.9"/><circle cx="406.38" cy="420.75" r="1.9"/><circle cx="406.5" cy="420.71" r="1.9"/><circle cx="406.59" cy="420.67" r="1.9"/><circle cx="406.66" cy="420.62" r="1.9"/><circle cx="406.74" cy="420.58" r="1.9"/><circle cx="406.88" cy="420.54" r="1.9"/><circle cx="407.08" cy="420.49" r="1.9"/><circle cx="407.14" cy="420.45" r="1.9"/><circle cx="407.27" cy="420.41" r="1.9"/><circle cx="407.31" cy="420.37" r="1.9"/><circle cx="407.37" cy="420.32" r="1.9"/><circle cx="407.51" cy="420.28" r="1.9"/><circle cx="407.58" cy="420.24" r="1.9"/><circle cx="407.8" cy="420.2" r="1.9"/><circle cx="407.87" cy="420.16" r="1.9"/><circle cx="407.94" cy="420.11" r="1.9"/><circle cx="408.04" cy="420.07" r="1.9"/><circle cx="408.14" cy="420.03" r="1.9"/><circle cx="408.23" cy="419.99" r="1.9"/><circle cx="408.33" cy="419.95" r="1.9"/><circle cx="408.4" cy="419.91" r="1.9"/><circle cx="408.47" cy="419.87" r="1.9"/><circle cx="408.58" cy="419.82" r="1.9"/><circle cx="408.66" cy="419.78" r="1.9"/><circle cx="408.7" cy="419.74" r="1.9"/><circle cx="408.84" cy="419.7" r="1.9"/><circle cx="408.96" cy="419.66" r="1.9"/><circle cx="409.03" cy="419.62" r="1.9"/><circle cx="409.13" cy="419.58" r="1.9"/><circle cx="409.21" cy="419.54" r="1.9"/><circle cx="409.36" cy="419.5" r="1.9"/><circle cx="409.41" cy="419.46" r="1.9"/><circle cx="409.46" cy="419.42" r="1.9"/><circle cx="409.52" cy="419.38" r="1.9"/><circle cx="409.6" cy="419.34" r="1.9"/><circle cx="409.78" cy="419.3" r="1.9"/><circle cx="409.84" cy="419.26" r="1.9"/><circle cx="409.93" cy="419.22" r="1.9"/><circle cx="410" cy="419.18" r="1.9"/><circle cx="410.06" cy="419.14" r="1.9"/><circle cx="410.19" cy="419.1" r="1.9"/><circle cx="410.25" cy="419.06" r="1.9"/><circle cx="410.33" cy="419.02" r="1.9"/><circle cx="410.4" cy="418.98" r="1.9"/><circle cx="410.5" cy="418.94" r="1.9"/><circle cx="410.6" cy="418.9" r="1.9"/><circle cx="410.66" cy="418.86" r="1.9"/><circle cx="410.75" cy="418.82" r="1.9"/><circle cx="410.87" cy="418.78" r="1.9"/><circle cx="410.93" cy="418.74" r="1.9"/><circle cx="410.99" cy="418.7" r="1.9"/><circle cx="411.12" cy="418.66" r="1.9"/><circle cx="411.19" cy="418.62" r="1.9"/><circle cx="411.25" cy="418.58" r="1.9"/><circle cx="411.33" cy="418.55" r="1.9"/><circle cx="411.46" cy="418.51" r="1.9"/><circle cx="411.53" cy="418.47" r="1.9"/><circle cx="411.64" cy="418.43" r="1.9"/><circle cx="411.71" cy="418.39" r="1.9"/><circle cx="411.77" cy="418.35" r="1.9"/><circle cx="411.84" cy="418.31" r="1.9"/><circle cx="411.93" cy="418.28" r="1.9"/><circle cx="412.05" cy="418.24" r="1.9"/><circle cx="412.12" cy="418.2" r="1.9"/><circle cx="412.17" cy="418.16" r="1.9"/><circle cx="412.28" cy="418.12" r="1.9"/><circle cx="412.41" cy="418.08" r="1.9"/><circle cx="412.47" cy="418.05" r="1.9"/><circle cx="412.54" cy="418.01" r="1.9"/><circle cx="412.6" cy="417.97" r="1.9"/><circle cx="412.66" cy="417.93" r="1.9"/><circle cx="412.77" cy="417.89" r="1.9"/><circle cx="412.84" cy="417.86" r="1.9"/><circle cx="412.93" cy="417.82" r="1.9"/><circle cx="413" cy="417.78" r="1.9"/><circle cx="413.04" cy="417.74" r="1.9"/><circle cx="413.18" cy="417.71" r="1.9"/><circle cx="413.24" cy="417.67" r="1.9"/><circle cx="413.33" cy="417.63" r="1.9"/><circle cx="413.47" cy="417.59" r="1.9"/><circle cx="413.51" cy="417.56" r="1.9"/><circle cx="413.57" cy="417.52" r="1.9"/><circle cx="413.66" cy="417.48" r="1.9"/><circle cx="413.73" cy="417.44" r="1.9"/><circle cx="413.82" cy="417.41" r="1.9"/><circle cx="413.97" cy="417.37" r="1.9"/><circle cx="414.02" cy="417.33" r="1.9"/><circle cx="414.07" cy="417.3" r="1.9"/><circle cx="414.14" cy="417.26" r="1.9"/><circle cx="414.23" cy="417.22" r="1.9"/><circle cx="414.3" cy="417.19" r="1.9"/><circle cx="414.36" cy="417.15" r="1.9"/><circle cx="414.45" cy="417.11" r="1.9"/><circle cx="414.55" cy="417.07" r="1.9"/><circle cx="414.67" cy="417.04" r="1.9"/><circle cx="414.75" cy="417" r="1.9"/><circle cx="414.8" cy="416.96" r="1.9"/><circle cx="414.85" cy="416.93" r="1.9"/><circle cx="414.91" cy="416.89" r="1.9"/><circle cx="414.99" cy="416.86" r="1.9"/><circle cx="415.08" cy="416.82" r="1.9"/><circle cx="415.14" cy="416.78" r="1.9"/><circle cx="415.21" cy="416.75" r="1.9"/><circle cx="415.31" cy="416.71" r="1.9"/><circle cx="415.38" cy="416.67" r="1.9"/><circle cx="415.44" cy="416.64" r="1.9"/><circle cx="415.52" cy="416.6" r="1.9"/><circle cx="415.58" cy="416.57" r="1.9"/><circle cx="415.63" cy="416.53" r="1.9"/><circle cx="415.72" cy="416.49" r="1.9"/><circle cx="415.79" cy="416.46" r="1.9"/><circle cx="415.84" cy="416.42" r="1.9"/><circle cx="415.99" cy="416.38" r="1.9"/><circle cx="416.02" cy="416.35" r="1.9"/><circle cx="416.07" cy="416.31" r="1.9"/><circle cx="416.18" cy="416.28" r="1.9"/><circle cx="416.26" cy="416.24" r="1.9"/><circle cx="416.32" cy="416.21" r="1.9"/><circle cx="416.37" cy="416.17" r="1.9"/><circle cx="416.45" cy="416.13" r="1.9"/><circle cx="416.53" cy="416.1" r="1.9"/><circle cx="416.61" cy="416.06" r="1.9"/><circle cx="416.67" cy="416.03" r="1.9"/><circle cx="416.74" cy="415.99" r="1.9"/><circle cx="416.82" cy="415.96" r="1.9"/><circle cx="416.87" cy="415.92" r="1.9"/><circle cx="416.91" cy="415.89" r="1.9"/><circle cx="417.03" cy="415.85" r="1.9"/><circle cx="417.08" cy="415.81" r="1.9"/><circle cx="417.12" cy="415.78" r="1.9"/><circle cx="417.19" cy="415.74" r="1.9"/><circle cx="417.31" cy="415.71" r="1.9"/><circle cx="417.43" cy="415.67" r="1.9"/><circle cx="417.48" cy="415.64" r="1.9"/><circle cx="417.54" cy="415.6" r="1.9"/><circle cx="417.61" cy="415.57" r="1.9"/><circle cx="417.65" cy="415.53" r="1.9"/><circle cx="417.7" cy="415.5" r="1.9"/><circle cx="417.79" cy="415.46" r="1.9"/><circle cx="417.89" cy="415.43" r="1.9"/><circle cx="417.97" cy="415.39" r="1.9"/><circle cx="418.03" cy="415.36" r="1.9"/><circle cx="418.07" cy="415.32" r="1.9"/><circle cx="418.14" cy="415.29" r="1.9"/><circle cx="418.23" cy="415.25" r="1.9"/><circle cx="418.32" cy="415.22" r="1.9"/><circle cx="418.37" cy="415.18" r="1.9"/><circle cx="418.43" cy="415.15" r="1.9"/><circle cx="418.51" cy="415.11" r="1.9"/><circle cx="418.6" cy="415.08" r="1.9"/><circle cx="418.67" cy="415.04" r="1.9"/><circle cx="418.73" cy="415.01" r="1.9"/><circle cx="418.78" cy="414.97" r="1.9"/><circle cx="418.85" cy="414.94" r="1.9"/><circle cx="418.92" cy="414.91" r="1.9"/><circle cx="418.99" cy="414.87" r="1.9"/><circle cx="419.05" cy="414.84" r="1.9"/><circle cx="419.09" cy="414.8" r="1.9"/><circle cx="419.13" cy="414.77" r="1.9"/><circle cx="419.18" cy="414.73" r="1.9"/><circle cx="419.33" cy="414.7" r="1.9"/><circle cx="419.45" cy="414.66" r="1.9"/><circle cx="419.46" cy="414.63" r="1.9"/><circle cx="419.52" cy="414.6" r="1.9"/><circle cx="419.71" cy="414.56" r="1.9"/><circle cx="419.75" cy="414.53" r="1.9"/><circle cx="419.81" cy="414.49" r="1.9"/><circle cx="419.84" cy="414.46" r="1.9"/><circle cx="419.88" cy="414.42" r="1.9"/><circle cx="419.93" cy="414.39" r="1.9"/><circle cx="420.01" cy="414.36" r="1.9"/><circle cx="420.13" cy="414.32" r="1.9"/><circle cx="420.2" cy="414.29" r="1.9"/><circle cx="420.25" cy="414.25" r="1.9"/><circle cx="420.3" cy="414.22" r="1.9"/><circle cx="420.35" cy="414.18" r="1.9"/><circle cx="420.43" cy="414.15" r="1.9"/><circle cx="420.49" cy="414.12" r="1.9"/><circle cx="420.6" cy="414.08" r="1.9"/><circle cx="420.65" cy="414.05" r="1.9"/><circle cx="420.69" cy="414.01" r="1.9"/><circle cx="420.74" cy="413.98" r="1.9"/><circle cx="420.82" cy="413.95" r="1.9"/><circle cx="420.91" cy="413.91" r="1.9"/><circle cx="421" cy="413.88" r="1.9"/><circle cx="421.07" cy="413.84" r="1.9"/><circle cx="421.17" cy="413.81" r="1.9"/><circle cx="421.19" cy="413.78" r="1.9"/><circle cx="421.25" cy="413.74" r="1.9"/><circle cx="421.32" cy="413.71" r="1.9"/><circle cx="421.41" cy="413.67" r="1.9"/><circle cx="421.45" cy="413.64" r="1.9"/><circle cx="421.5" cy="413.61" r="1.9"/><circle cx="421.59" cy="413.57" r="1.9"/><circle cx="421.72" cy="413.54" r="1.9"/><circle cx="421.79" cy="413.51" r="1.9"/><circle cx="421.83" cy="413.47" r="1.9"/><circle cx="421.88" cy="413.44" r="1.9"/><circle cx="421.95" cy="413.4" r="1.9"/><circle cx="422.01" cy="413.37" r="1.9"/><circle cx="422.08" cy="413.34" r="1.9"/><circle cx="422.16" cy="413.3" r="1.9"/><circle cx="422.22" cy="413.27" r="1.9"/><circle cx="422.29" cy="413.24" r="1.9"/><circle cx="422.36" cy="413.2" r="1.9"/><circle cx="422.41" cy="413.17" r="1.9"/><circle cx="422.49" cy="413.14" r="1.9"/><circle cx="422.55" cy="413.1" r="1.9"/><circle cx="422.62" cy="413.07" r="1.9"/><circle cx="422.69" cy="413.03" r="1.9"/><circle cx="422.75" cy="413" r="1.9"/><circle cx="422.81" cy="412.97" r="1.9"/><circle cx="422.87" cy="412.93" r="1.9"/><circle cx="422.96" cy="412.9" r="1.9"/><circle cx="423.01" cy="412.87" r="1.9"/><circle cx="423.06" cy="412.83" r="1.9"/><circle cx="423.11" cy="412.8" r="1.9"/><circle cx="423.23" cy="412.77" r="1.9"/><circle cx="423.31" cy="412.73" r="1.9"/><circle cx="423.38" cy="412.7" r="1.9"/><circle cx="423.42" cy="412.67" r="1.9"/><circle cx="423.47" cy="412.63" r="1.9"/><circle cx="423.58" cy="412.6" r="1.9"/><circle cx="423.62" cy="412.57" r="1.9"/><circle cx="423.69" cy="412.53" r="1.9"/><circle cx="423.8" cy="412.5" r="1.9"/><circle cx="423.85" cy="412.47" r="1.9"/><circle cx="423.92" cy="412.43" r="1.9"/><circle cx="423.97" cy="412.4" r="1.9"/><circle cx="424.01" cy="412.36" r="1.9"/><circle cx="424.11" cy="412.33" r="1.9"/><circle cx="424.16" cy="412.3" r="1.9"/><circle cx="424.22" cy="412.26" r="1.9"/><circle cx="424.3" cy="412.23" r="1.9"/><circle cx="424.34" cy="412.2" r="1.9"/><circle cx="424.46" cy="412.16" r="1.9"/><circle cx="424.5" cy="412.13" r="1.9"/><circle cx="424.58" cy="412.1" r="1.9"/><circle cx="424.65" cy="412.06" r="1.9"/><circle cx="424.7" cy="412.03" r="1.9"/><circle cx="424.76" cy="412" r="1.9"/><circle cx="424.81" cy="411.96" r="1.9"/><circle cx="424.92" cy="411.93" r="1.9"/><circle cx="424.98" cy="411.9" r="1.9"/><circle cx="425.02" cy="411.86" r="1.9"/><circle cx="425.08" cy="411.83" r="1.9"/><circle cx="425.14" cy="411.8" r="1.9"/><circle cx="425.19" cy="411.77" r="1.9"/><circle cx="425.27" cy="411.73" r="1.9"/><circle cx="425.33" cy="411.7" r="1.9"/><circle cx="425.38" cy="411.67" r="1.9"/><circle cx="425.43" cy="411.63" r="1.9"/><circle cx="425.49" cy="411.6" r="1.9"/><circle cx="425.55" cy="411.57" r="1.9"/><circle cx="425.61" cy="411.53" r="1.9"/><circle cx="425.67" cy="411.5" r="1.9"/><circle cx="425.76" cy="411.47" r="1.9"/><circle cx="425.82" cy="411.43" r="1.9"/><circle cx="425.86" cy="411.4" r="1.9"/><circle cx="425.89" cy="411.37" r="1.9"/><circle cx="426.01" cy="411.33" r="1.9"/><circle cx="426.06" cy="411.3" r="1.9"/><circle cx="426.11" cy="411.27" r="1.9"/><circle cx="426.17" cy="411.23" r="1.9"/><circle cx="426.26" cy="411.2" r="1.9"/><circle cx="426.3" cy="411.17" r="1.9"/><circle cx="426.36" cy="411.13" r="1.9"/><circle cx="426.43" cy="411.1" r="1.9"/><circle cx="426.48" cy="411.07" r="1.9"/><circle cx="426.54" cy="411.03" r="1.9"/><circle cx="426.59" cy="411" r="1.9"/><circle cx="426.64" cy="410.97" r="1.9"/><circle cx="426.71" cy="410.93" r="1.9"/><circle cx="426.79" cy="410.9" r="1.9"/><circle cx="426.84" cy="410.87" r="1.9"/><circle cx="426.89" cy="410.83" r="1.9"/><circle cx="426.94" cy="410.8" r="1.9"/><circle cx="427.04" cy="410.77" r="1.9"/><circle cx="427.09" cy="410.73" r="1.9"/><circle cx="427.13" cy="410.7" r="1.9"/><circle cx="427.2" cy="410.67" r="1.9"/><circle cx="427.25" cy="410.63" r="1.9"/><circle cx="427.29" cy="410.6" r="1.9"/><circle cx="427.36" cy="410.57" r="1.9"/><circle cx="427.49" cy="410.53" r="1.9"/><circle cx="427.54" cy="410.5" r="1.9"/><circle cx="427.58" cy="410.47" r="1.9"/><circle cx="427.66" cy="410.44" r="1.9"/><circle cx="427.69" cy="410.4" r="1.9"/><circle cx="427.75" cy="410.37" r="1.9"/><circle cx="427.83" cy="410.34" r="1.9"/><circle cx="427.9" cy="410.3" r="1.9"/><circle cx="427.95" cy="410.27" r="1.9"/><circle cx="428" cy="410.24" r="1.9"/><circle cx="428.06" cy="410.2" r="1.9"/><circle cx="428.12" cy="410.17" r="1.9"/><circle cx="428.19" cy="410.14" r="1.9"/><circle cx="428.24" cy="410.1" r="1.9"/><circle cx="428.32" cy="410.07" r="1.9"/><circle cx="428.38" cy="410.04" r="1.9"/><circle cx="428.43" cy="410" r="1.9"/><circle cx="428.48" cy="409.97" r="1.9"/><circle cx="428.54" cy="409.94" r="1.9"/><circle cx="428.6" cy="409.9" r="1.9"/><circle cx="428.66" cy="409.87" r="1.9"/><circle cx="428.76" cy="409.83" r="1.9"/><circle cx="428.82" cy="409.8" r="1.9"/><circle cx="428.86" cy="409.77" r="1.9"/><circle cx="428.9" cy="409.73" r="1.9"/><circle cx="428.94" cy="409.7" r="1.9"/><circle cx="429.02" cy="409.67" r="1.9"/><circle cx="429.09" cy="409.63" r="1.9"/><circle cx="429.17" cy="409.6" r="1.9"/><circle cx="429.21" cy="409.57" r="1.9"/><circle cx="429.33" cy="409.53" r="1.9"/><circle cx="429.37" cy="409.5" r="1.9"/><circle cx="429.41" cy="409.47" r="1.9"/><circle cx="429.46" cy="409.43" r="1.9"/><circle cx="429.52" cy="409.4" r="1.9"/><circle cx="429.56" cy="409.37" r="1.9"/><circle cx="429.64" cy="409.33" r="1.9"/><circle cx="429.69" cy="409.3" r="1.9"/><circle cx="429.8" cy="409.27" r="1.9"/><circle cx="429.88" cy="409.23" r="1.9"/><circle cx="429.91" cy="409.2" r="1.9"/><circle cx="430" cy="409.16" r="1.9"/><circle cx="430.03" cy="409.13" r="1.9"/><circle cx="430.07" cy="409.1" r="1.9"/><circle cx="430.13" cy="409.06" r="1.9"/><circle cx="430.17" cy="409.03" r="1.9"/><circle cx="430.26" cy="409" r="1.9"/><circle cx="430.35" cy="408.96" r="1.9"/><circle cx="430.38" cy="408.93" r="1.9"/><circle cx="430.47" cy="408.9" r="1.9"/><circle cx="430.51" cy="408.86" r="1.9"/><circle cx="430.56" cy="408.83" r="1.9"/><circle cx="430.67" cy="408.79" r="1.9"/><circle cx="430.72" cy="408.76" r="1.9"/><circle cx="430.79" cy="408.73" r="1.9"/><circle cx="430.84" cy="408.69" r="1.9"/><circle cx="430.9" cy="408.66" r="1.9"/><circle cx="430.94" cy="408.63" r="1.9"/><circle cx="430.99" cy="408.59" r="1.9"/><circle cx="431.04" cy="408.56" r="1.9"/><circle cx="431.13" cy="408.52" r="1.9"/><circle cx="431.2" cy="408.49" r="1.9"/><circle cx="431.28" cy="408.46" r="1.9"/><circle cx="431.34" cy="408.42" r="1.9"/><circle cx="431.4" cy="408.39" r="1.9"/><circle cx="431.43" cy="408.35" r="1.9"/><circle cx="431.53" cy="408.32" r="1.9"/><circle cx="431.58" cy="408.29" r="1.9"/><circle cx="431.62" cy="408.25" r="1.9"/><circle cx="431.67" cy="408.22" r="1.9"/><circle cx="431.76" cy="408.18" r="1.9"/><circle cx="431.86" cy="408.15" r="1.9"/><circle cx="431.9" cy="408.12" r="1.9"/><circle cx="431.96" cy="408.08" r="1.9"/><circle cx="432" cy="408.05" r="1.9"/><circle cx="432.05" cy="408.01" r="1.9"/><circle cx="432.15" cy="407.98" r="1.9"/><circle cx="432.19" cy="407.94" r="1.9"/><circle cx="432.29" cy="407.91" r="1.9"/><circle cx="432.33" cy="407.88" r="1.9"/><circle cx="432.39" cy="407.84" r="1.9"/><circle cx="432.47" cy="407.81" r="1.9"/><circle cx="432.52" cy="407.77" r="1.9"/><circle cx="432.58" cy="407.74" r="1.9"/><circle cx="432.63" cy="407.7" r="1.9"/><circle cx="432.68" cy="407.67" r="1.9"/><circle cx="432.75" cy="407.64" r="1.9"/><circle cx="432.84" cy="407.6" r="1.9"/><circle cx="432.89" cy="407.57" r="1.9"/><circle cx="432.96" cy="407.53" r="1.9"/><circle cx="433.02" cy="407.5" r="1.9"/><circle cx="433.06" cy="407.46" r="1.9"/><circle cx="433.11" cy="407.43" r="1.9"/><circle cx="433.23" cy="407.39" r="1.9"/><circle cx="433.27" cy="407.36" r="1.9"/><circle cx="433.34" cy="407.33" r="1.9"/><circle cx="433.42" cy="407.29" r="1.9"/><circle cx="433.45" cy="407.26" r="1.9"/><circle cx="433.48" cy="407.22" r="1.9"/><circle cx="433.56" cy="407.19" r="1.9"/><circle cx="433.67" cy="407.15" r="1.9"/><circle cx="433.75" cy="407.12" r="1.9"/><circle cx="433.8" cy="407.08" r="1.9"/><circle cx="433.84" cy="407.05" r="1.9"/><circle cx="433.89" cy="407.01" r="1.9"/><circle cx="433.97" cy="406.98" r="1.9"/><circle cx="434.02" cy="406.94" r="1.9"/><circle cx="434.1" cy="406.91" r="1.9"/><circle cx="434.19" cy="406.87" r="1.9"/><circle cx="434.22" cy="406.84" r="1.9"/><circle cx="434.28" cy="406.8" r="1.9"/><circle cx="434.31" cy="406.77" r="1.9"/><circle cx="434.43" cy="406.73" r="1.9"/><circle cx="434.49" cy="406.7" r="1.9"/><circle cx="434.57" cy="406.66" r="1.9"/><circle cx="434.6" cy="406.63" r="1.9"/><circle cx="434.67" cy="406.59" r="1.9"/><circle cx="434.77" cy="406.56" r="1.9"/><circle cx="434.85" cy="406.52" r="1.9"/><circle cx="434.92" cy="406.49" r="1.9"/><circle cx="434.98" cy="406.45" r="1.9"/><circle cx="435.03" cy="406.41" r="1.9"/><circle cx="435.1" cy="406.38" r="1.9"/><circle cx="435.18" cy="406.34" r="1.9"/><circle cx="435.29" cy="406.31" r="1.9"/><circle cx="435.41" cy="406.27" r="1.9"/><circle cx="435.5" cy="406.24" r="1.9"/><circle cx="435.55" cy="406.2" r="1.9"/><circle cx="435.59" cy="406.17" r="1.9"/><circle cx="435.67" cy="406.13" r="1.9"/><circle cx="435.81" cy="406.09" r="1.9"/><circle cx="435.89" cy="406.06" r="1.9"/><circle cx="435.95" cy="406.02" r="1.9"/><circle cx="435.99" cy="405.99" r="1.9"/><circle cx="436.19" cy="405.95" r="1.9"/><circle cx="436.23" cy="405.92" r="1.9"/><circle cx="436.26" cy="405.88" r="1.9"/><circle cx="436.3" cy="405.84" r="1.9"/><circle cx="436.52" cy="405.81" r="1.9"/><circle cx="436.54" cy="405.77" r="1.9"/><circle cx="436.61" cy="405.73" r="1.9"/><circle cx="436.74" cy="405.7" r="1.9"/><circle cx="436.76" cy="405.66" r="1.9"/><circle cx="436.95" cy="405.63" r="1.9"/><circle cx="436.97" cy="405.59" r="1.9"/><circle cx="437.01" cy="405.55" r="1.9"/><circle cx="437.12" cy="405.52" r="1.9"/><circle cx="437.3" cy="405.48" r="1.9"/><circle cx="437.36" cy="405.44" r="1.9"/><circle cx="437.44" cy="405.41" r="1.9"/><circle cx="437.47" cy="405.37" r="1.9"/><circle cx="437.54" cy="405.34" r="1.9"/><circle cx="437.64" cy="405.3" r="1.9"/><circle cx="437.7" cy="405.26" r="1.9"/><circle cx="437.92" cy="405.23" r="1.9"/><circle cx="437.96" cy="405.19" r="1.9"/><circle cx="438" cy="405.15" r="1.9"/><circle cx="438.09" cy="405.11" r="1.9"/><circle cx="438.13" cy="405.08" r="1.9"/><circle cx="438.23" cy="405.04" r="1.9"/><circle cx="438.32" cy="405" r="1.9"/><circle cx="438.36" cy="404.97" r="1.9"/><circle cx="438.59" cy="404.93" r="1.9"/><circle cx="438.69" cy="404.89" r="1.9"/><circle cx="438.75" cy="404.86" r="1.9"/><circle cx="438.81" cy="404.82" r="1.9"/><circle cx="438.84" cy="404.78" r="1.9"/><circle cx="438.89" cy="404.74" r="1.9"/><circle cx="438.94" cy="404.71" r="1.9"/><circle cx="439" cy="404.67" r="1.9"/><circle cx="439.31" cy="404.63" r="1.9"/><circle cx="439.36" cy="404.59" r="1.9"/><circle cx="439.42" cy="404.56" r="1.9"/><circle cx="439.53" cy="404.52" r="1.9"/><circle cx="439.59" cy="404.48" r="1.9"/><circle cx="439.68" cy="404.44" r="1.9"/><circle cx="439.74" cy="404.41" r="1.9"/><circle cx="439.84" cy="404.37" r="1.9"/><circle cx="439.93" cy="404.33" r="1.9"/><circle cx="439.98" cy="404.29" r="1.9"/><circle cx="440.04" cy="404.25" r="1.9"/><circle cx="440.11" cy="404.22" r="1.9"/><circle cx="440.3" cy="404.18" r="1.9"/><circle cx="440.37" cy="404.14" r="1.9"/><circle cx="440.41" cy="404.1" r="1.9"/><circle cx="440.52" cy="404.06" r="1.9"/><circle cx="440.57" cy="404.02" r="1.9"/><circle cx="440.77" cy="403.99" r="1.9"/><circle cx="440.81" cy="403.95" r="1.9"/><circle cx="440.92" cy="403.91" r="1.9"/><circle cx="441.04" cy="403.87" r="1.9"/><circle cx="441.1" cy="403.83" r="1.9"/><circle cx="441.22" cy="403.79" r="1.9"/><circle cx="441.3" cy="403.75" r="1.9"/><circle cx="441.4" cy="403.72" r="1.9"/><circle cx="441.48" cy="403.68" r="1.9"/><circle cx="441.56" cy="403.64" r="1.9"/><circle cx="441.63" cy="403.6" r="1.9"/><circle cx="441.73" cy="403.56" r="1.9"/><circle cx="441.81" cy="403.52" r="1.9"/><circle cx="441.89" cy="403.48" r="1.9"/><circle cx="442.01" cy="403.44" r="1.9"/><circle cx="442.11" cy="403.4" r="1.9"/><circle cx="442.2" cy="403.36" r="1.9"/><circle cx="442.27" cy="403.32" r="1.9"/><circle cx="442.38" cy="403.28" r="1.9"/><circle cx="442.47" cy="403.24" r="1.9"/><circle cx="442.55" cy="403.2" r="1.9"/><circle cx="442.64" cy="403.16" r="1.9"/><circle cx="442.7" cy="403.12" r="1.9"/><circle cx="442.76" cy="403.08" r="1.9"/><circle cx="442.93" cy="403.04" r="1.9"/><circle cx="442.97" cy="403" r="1.9"/><circle cx="443.1" cy="402.96" r="1.9"/><circle cx="443.22" cy="402.92" r="1.9"/><circle cx="443.27" cy="402.88" r="1.9"/><circle cx="443.49" cy="402.84" r="1.9"/><circle cx="443.58" cy="402.8" r="1.9"/><circle cx="443.64" cy="402.76" r="1.9"/><circle cx="443.7" cy="402.72" r="1.9"/><circle cx="443.75" cy="402.68" r="1.9"/><circle cx="443.88" cy="402.64" r="1.9"/><circle cx="443.99" cy="402.6" r="1.9"/><circle cx="444.07" cy="402.56" r="1.9"/><circle cx="444.14" cy="402.52" r="1.9"/><circle cx="444.26" cy="402.48" r="1.9"/><circle cx="444.37" cy="402.43" r="1.9"/><circle cx="444.46" cy="402.39" r="1.9"/><circle cx="444.55" cy="402.35" r="1.9"/><circle cx="444.67" cy="402.31" r="1.9"/><circle cx="444.75" cy="402.27" r="1.9"/><circle cx="444.85" cy="402.23" r="1.9"/><circle cx="444.93" cy="402.19" r="1.9"/><circle cx="445.04" cy="402.14" r="1.9"/><circle cx="445.12" cy="402.1" r="1.9"/><circle cx="445.26" cy="402.06" r="1.9"/><circle cx="445.39" cy="402.02" r="1.9"/><circle cx="445.45" cy="401.98" r="1.9"/><circle cx="445.61" cy="401.93" r="1.9"/><circle cx="445.66" cy="401.89" r="1.9"/><circle cx="445.82" cy="401.85" r="1.9"/><circle cx="445.98" cy="401.81" r="1.9"/><circle cx="446.1" cy="401.76" r="1.9"/><circle cx="446.15" cy="401.72" r="1.9"/><circle cx="446.21" cy="401.68" r="1.9"/><circle cx="446.28" cy="401.63" r="1.9"/><circle cx="446.47" cy="401.59" r="1.9"/><circle cx="446.58" cy="401.55" r="1.9"/><circle cx="446.69" cy="401.51" r="1.9"/><circle cx="446.84" cy="401.46" r="1.9"/><circle cx="446.95" cy="401.42" r="1.9"/><circle cx="447.02" cy="401.37" r="1.9"/><circle cx="447.1" cy="401.33" r="1.9"/><circle cx="447.32" cy="401.29" r="1.9"/><circle cx="447.42" cy="401.24" r="1.9"/><circle cx="447.49" cy="401.2" r="1.9"/><circle cx="447.55" cy="401.16" r="1.9"/><circle cx="447.74" cy="401.11" r="1.9"/><circle cx="447.83" cy="401.07" r="1.9"/><circle cx="447.9" cy="401.02" r="1.9"/><circle cx="448.04" cy="400.98" r="1.9"/><circle cx="448.12" cy="400.93" r="1.9"/><circle cx="448.21" cy="400.89" r="1.9"/><circle cx="448.39" cy="400.84" r="1.9"/><circle cx="448.49" cy="400.8" r="1.9"/><circle cx="448.67" cy="400.75" r="1.9"/><circle cx="448.73" cy="400.71" r="1.9"/><circle cx="448.81" cy="400.66" r="1.9"/><circle cx="448.94" cy="400.62" r="1.9"/><circle cx="449.09" cy="400.57" r="1.9"/><circle cx="449.25" cy="400.53" r="1.9"/><circle cx="449.36" cy="400.48" r="1.9"/><circle cx="449.45" cy="400.43" r="1.9"/><circle cx="449.54" cy="400.39" r="1.9"/><circle cx="449.64" cy="400.34" r="1.9"/><circle cx="449.74" cy="400.3" r="1.9"/><circle cx="449.88" cy="400.25" r="1.9"/><circle cx="450.04" cy="400.2" r="1.9"/><circle cx="450.13" cy="400.16" r="1.9"/><circle cx="450.27" cy="400.11" r="1.9"/><circle cx="450.38" cy="400.06" r="1.9"/><circle cx="450.49" cy="400.01" r="1.9"/><circle cx="450.6" cy="399.97" r="1.9"/><circle cx="450.77" cy="399.92" r="1.9"/><circle cx="450.85" cy="399.87" r="1.9"/><circle cx="450.92" cy="399.82" r="1.9"/><circle cx="451.03" cy="399.78" r="1.9"/><circle cx="451.19" cy="399.73" r="1.9"/><circle cx="451.42" cy="399.68" r="1.9"/><circle cx="451.49" cy="399.63" r="1.9"/><circle cx="451.55" cy="399.58" r="1.9"/><circle cx="451.6" cy="399.53" r="1.9"/><circle cx="451.89" cy="399.48" r="1.9"/><circle cx="451.96" cy="399.44" r="1.9"/><circle cx="452.07" cy="399.39" r="1.9"/><circle cx="452.31" cy="399.34" r="1.9"/><circle cx="452.32" cy="399.29" r="1.9"/><circle cx="452.49" cy="399.24" r="1.9"/><circle cx="452.54" cy="399.19" r="1.9"/><circle cx="452.81" cy="399.14" r="1.9"/><circle cx="452.9" cy="399.09" r="1.9"/><circle cx="452.95" cy="399.04" r="1.9"/><circle cx="453.15" cy="398.99" r="1.9"/><circle cx="453.25" cy="398.94" r="1.9"/><circle cx="453.41" cy="398.89" r="1.9"/><circle cx="453.53" cy="398.83" r="1.9"/><circle cx="453.59" cy="398.78" r="1.9"/><circle cx="453.72" cy="398.73" r="1.9"/><circle cx="453.91" cy="398.68" r="1.9"/><circle cx="454.06" cy="398.63" r="1.9"/><circle cx="454.25" cy="398.58" r="1.9"/><circle cx="454.35" cy="398.52" r="1.9"/><circle cx="454.46" cy="398.47" r="1.9"/><circle cx="454.6" cy="398.42" r="1.9"/><circle cx="454.71" cy="398.37" r="1.9"/><circle cx="454.85" cy="398.31" r="1.9"/><circle cx="454.98" cy="398.26" r="1.9"/><circle cx="455.1" cy="398.21" r="1.9"/><circle cx="455.28" cy="398.15" r="1.9"/><circle cx="455.41" cy="398.1" r="1.9"/><circle cx="455.52" cy="398.04" r="1.9"/><circle cx="455.63" cy="397.99" r="1.9"/><circle cx="455.82" cy="397.94" r="1.9"/><circle cx="456.05" cy="397.88" r="1.9"/><circle cx="456.15" cy="397.83" r="1.9"/><circle cx="456.24" cy="397.77" r="1.9"/><circle cx="456.42" cy="397.72" r="1.9"/><circle cx="456.61" cy="397.66" r="1.9"/><circle cx="456.77" cy="397.6" r="1.9"/><circle cx="456.86" cy="397.55" r="1.9"/><circle cx="456.96" cy="397.49" r="1.9"/><circle cx="457.13" cy="397.44" r="1.9"/><circle cx="457.35" cy="397.38" r="1.9"/><circle cx="457.5" cy="397.32" r="1.9"/><circle cx="457.65" cy="397.26" r="1.9"/><circle cx="457.76" cy="397.21" r="1.9"/><circle cx="457.97" cy="397.15" r="1.9"/><circle cx="458.1" cy="397.09" r="1.9"/><circle cx="458.25" cy="397.03" r="1.9"/><circle cx="458.34" cy="396.97" r="1.9"/><circle cx="458.45" cy="396.91" r="1.9"/><circle cx="458.56" cy="396.85" r="1.9"/><circle cx="458.7" cy="396.8" r="1.9"/><circle cx="459.13" cy="396.74" r="1.9"/><circle cx="459.22" cy="396.68" r="1.9"/><circle cx="459.39" cy="396.61" r="1.9"/><circle cx="459.56" cy="396.55" r="1.9"/><circle cx="459.7" cy="396.49" r="1.9"/><circle cx="459.83" cy="396.43" r="1.9"/><circle cx="459.96" cy="396.37" r="1.9"/><circle cx="460.1" cy="396.31" r="1.9"/><circle cx="460.29" cy="396.25" r="1.9"/><circle cx="460.43" cy="396.18" r="1.9"/><circle cx="460.57" cy="396.12" r="1.9"/><circle cx="460.76" cy="396.06" r="1.9"/><circle cx="460.86" cy="395.99" r="1.9"/><circle cx="460.95" cy="395.93" r="1.9"/><circle cx="461.26" cy="395.86" r="1.9"/><circle cx="461.32" cy="395.8" r="1.9"/><circle cx="461.58" cy="395.73" r="1.9"/><circle cx="461.95" cy="395.67" r="1.9"/><circle cx="462.2" cy="395.6" r="1.9"/><circle cx="462.27" cy="395.54" r="1.9"/><circle cx="462.36" cy="395.47" r="1.9"/><circle cx="462.43" cy="395.4" r="1.9"/><circle cx="462.69" cy="395.34" r="1.9"/><circle cx="462.92" cy="395.27" r="1.9"/><circle cx="463.11" cy="395.2" r="1.9"/><circle cx="463.27" cy="395.13" r="1.9"/><circle cx="463.41" cy="395.06" r="1.9"/><circle cx="463.61" cy="394.99" r="1.9"/><circle cx="463.76" cy="394.92" r="1.9"/><circle cx="463.88" cy="394.85" r="1.9"/><circle cx="464.02" cy="394.78" r="1.9"/><circle cx="464.23" cy="394.71" r="1.9"/><circle cx="464.65" cy="394.64" r="1.9"/><circle cx="464.84" cy="394.56" r="1.9"/><circle cx="464.95" cy="394.49" r="1.9"/><circle cx="465.07" cy="394.42" r="1.9"/><circle cx="465.18" cy="394.34" r="1.9"/><circle cx="465.33" cy="394.27" r="1.9"/><circle cx="465.53" cy="394.19" r="1.9"/><circle cx="465.72" cy="394.12" r="1.9"/><circle cx="465.9" cy="394.04" r="1.9"/><circle cx="466.07" cy="393.97" r="1.9"/><circle cx="466.2" cy="393.89" r="1.9"/><circle cx="466.36" cy="393.81" r="1.9"/><circle cx="466.52" cy="393.73" r="1.9"/><circle cx="466.7" cy="393.65" r="1.9"/><circle cx="466.89" cy="393.57" r="1.9"/><circle cx="467.05" cy="393.49" r="1.9"/><circle cx="467.18" cy="393.41" r="1.9"/><circle cx="467.32" cy="393.33" r="1.9"/><circle cx="467.58" cy="393.25" r="1.9"/><circle cx="467.7" cy="393.17" r="1.9"/><circle cx="467.92" cy="393.08" r="1.9"/><circle cx="468.1" cy="393" r="1.9"/><circle cx="468.37" cy="392.91" r="1.9"/><circle cx="468.52" cy="392.83" r="1.9"/><circle cx="468.68" cy="392.74" r="1.9"/><circle cx="468.9" cy="392.65" r="1.9"/><circle cx="469.05" cy="392.56" r="1.9"/><circle cx="469.18" cy="392.47" r="1.9"/><circle cx="469.35" cy="392.38" r="1.9"/><circle cx="469.52" cy="392.29" r="1.9"/><circle cx="469.89" cy="392.2" r="1.9"/><circle cx="470.14" cy="392.11" r="1.9"/><circle cx="470.31" cy="392.01" r="1.9"/><circle cx="470.47" cy="391.92" r="1.9"/><circle cx="470.64" cy="391.82" r="1.9"/><circle cx="470.83" cy="391.73" r="1.9"/><circle cx="471.03" cy="391.63" r="1.9"/><circle cx="471.23" cy="391.53" r="1.9"/><circle cx="471.41" cy="391.43" r="1.9"/><circle cx="471.62" cy="391.33" r="1.9"/><circle cx="471.94" cy="391.23" r="1.9"/><circle cx="472.14" cy="391.13" r="1.9"/><circle cx="472.43" cy="391.02" r="1.9"/><circle cx="472.64" cy="390.91" r="1.9"/><circle cx="472.87" cy="390.81" r="1.9"/><circle cx="473.08" cy="390.7" r="1.9"/><circle cx="473.31" cy="390.59" r="1.9"/><circle cx="473.54" cy="390.48" r="1.9"/><circle cx="473.76" cy="390.37" r="1.9"/><circle cx="473.98" cy="390.25" r="1.9"/><circle cx="474.21" cy="390.13" r="1.9"/><circle cx="474.45" cy="390.02" r="1.9"/><circle cx="474.82" cy="389.9" r="1.9"/><circle cx="475.06" cy="389.78" r="1.9"/><circle cx="475.31" cy="389.65" r="1.9"/><circle cx="475.58" cy="389.53" r="1.9"/><circle cx="475.9" cy="389.4" r="1.9"/><circle cx="476.17" cy="389.27" r="1.9"/><circle cx="476.46" cy="389.14" r="1.9"/><circle cx="476.79" cy="389.01" r="1.9"/><circle cx="477.1" cy="388.88" r="1.9"/><circle cx="477.4" cy="388.74" r="1.9"/><circle cx="477.72" cy="388.6" r="1.9"/><circle cx="478.05" cy="388.46" r="1.9"/><circle cx="478.39" cy="388.31" r="1.9"/><circle cx="478.77" cy="388.16" r="1.9"/><circle cx="479.11" cy="388.01" r="1.9"/><circle cx="479.46" cy="387.86" r="1.9"/><circle cx="479.81" cy="387.7" r="1.9"/><circle cx="480.17" cy="387.54" r="1.9"/><circle cx="480.55" cy="387.38" r="1.9"/><circle cx="480.95" cy="387.21" r="1.9"/><circle cx="481.35" cy="387.04" r="1.9"/><circle cx="481.76" cy="386.86" r="1.9"/><circle cx="482.17" cy="386.68" r="1.9"/><circle cx="482.59" cy="386.5" r="1.9"/><circle cx="483.04" cy="386.31" r="1.9"/><circle cx="483.5" cy="386.11" r="1.9"/><circle cx="483.98" cy="385.91" r="1.9"/><circle cx="484.5" cy="385.71" r="1.9"/><circle cx="485.1" cy="385.49" r="1.9"/><circle cx="485.76" cy="385.27" r="1.9"/><circle cx="486.41" cy="385.05" r="1.9"/><circle cx="487.09" cy="384.81" r="1.9"/><circle cx="487.8" cy="384.57" r="1.9"/><circle cx="488.1" cy="384.32" r="1.9"/><circle cx="488.4" cy="384.05" r="1.9"/><circle cx="490" cy="383.78" r="1.9"/><circle cx="490.3" cy="383.49" r="1.9"/><circle cx="490.6" cy="383.19" r="1.9"/><circle cx="494.2" cy="382.88" r="1.9"/><circle cx="494.6" cy="382.55" r="1.9"/><circle cx="495" cy="382.2" r="1.9"/><circle cx="496.4" cy="381.83" r="1.9"/><circle cx="496.8" cy="381.43" r="1.9"/><circle cx="499" cy="381" r="1.9"/><circle cx="499.4" cy="380.55" r="1.9"/><circle cx="501.6" cy="380.05" r="1.9"/><circle cx="502" cy="379.5" r="1.9"/><circle cx="505.9" cy="378.9" r="1.9"/><circle cx="516.3" cy="378.22" r="1.9"/><circle cx="517.2" cy="377.43" r="1.9"/><circle cx="520" cy="376.51" r="1.9"/><circle cx="522" cy="375.39" r="1.9"/><circle cx="526.6" cy="373.93" r="1.9"/><circle cx="532.4" cy="371.8" r="1.9"/><circle cx="542.4" cy="367.52" r="1.9"/>
</g>
<rect class="ax" x="324.75" y="364" width="225.85" height="94.3"/>
<path class="ax" d="M373.33 458.3L373.33 464.2M428.55 458.3L428.55 464.2M483.77 458.3L483.77 464.2M538.99 458.3L538.99 464.2M324.75 450.93L318.95 450.93M324.75 437.67L318.95 437.67M324.75 424.41L318.95 424.41M324.75 411.15L318.95 411.15M324.75 397.89L318.95 397.89M324.75 384.63L318.95 384.63M324.75 371.37L318.95 371.37"/>
<text class="l" x="373.33" y="477.05">−2</text><text class="l" x="428.55" y="477.05">0</text><text class="l" x="483.77" y="477.05">2</text><text class="l" x="538.99" y="477.05">4</text>
<text class="L" transform="translate(312.45 450.93) rotate(-90) scale(0.1)">−3</text><text class="L" transform="translate(312.45 424.41) rotate(-90) scale(0.1)">−1</text><text class="L" transform="translate(312.45 397.89) rotate(-90) scale(0.1)">1</text><text class="L" transform="translate(312.45 384.63) rotate(-90) scale(0.1)">2</text><text class="L" transform="translate(312.45 371.37) rotate(-90) scale(0.1)">3</text>
<text class="l" x="437.68" y="494.2">Sample Quantiles</text>
<text class="L" transform="translate(292.95 410.95) rotate(-90) scale(0.1)">Theoretical Quantiles</text>
</g>
</svg>
</body></html>
